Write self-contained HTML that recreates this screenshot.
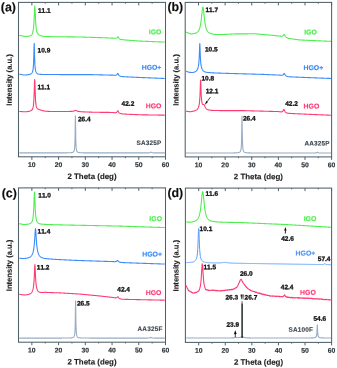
<!DOCTYPE html>
<html><head><meta charset="utf-8"><style>
html,body{margin:0;padding:0;background:#fff;width:337px;height:368px;overflow:hidden}
svg{display:block}
text{font-family:"Liberation Sans",sans-serif;font-weight:bold;font-kerning:none;text-rendering:geometricPrecision}
</style></head><body>
<svg width="337" height="368" viewBox="0 0 337 368">
<defs><filter id="bl" x="0" y="0" width="337" height="368" filterUnits="userSpaceOnUse"><feGaussianBlur stdDeviation="0.3"/></filter></defs>
<rect width="337" height="368" fill="#fff"/>
<g filter="url(#bl)">
<rect x="18.50" y="2.40" width="147.00" height="154.40" fill="none" stroke="#4f6169" stroke-width="1.05"/>
<line x1="31.86" y1="2.40" x2="31.86" y2="5.40" stroke="#4f6169" stroke-width="1"/>
<line x1="31.86" y1="156.80" x2="31.86" y2="159.80" stroke="#4f6169" stroke-width="1"/>
<line x1="45.23" y1="2.40" x2="45.23" y2="3.70" stroke="#4f6169" stroke-width="1"/>
<line x1="45.23" y1="156.80" x2="45.23" y2="158.10" stroke="#4f6169" stroke-width="1"/>
<line x1="58.59" y1="2.40" x2="58.59" y2="5.40" stroke="#4f6169" stroke-width="1"/>
<line x1="58.59" y1="156.80" x2="58.59" y2="159.80" stroke="#4f6169" stroke-width="1"/>
<line x1="71.95" y1="2.40" x2="71.95" y2="3.70" stroke="#4f6169" stroke-width="1"/>
<line x1="71.95" y1="156.80" x2="71.95" y2="158.10" stroke="#4f6169" stroke-width="1"/>
<line x1="85.32" y1="2.40" x2="85.32" y2="5.40" stroke="#4f6169" stroke-width="1"/>
<line x1="85.32" y1="156.80" x2="85.32" y2="159.80" stroke="#4f6169" stroke-width="1"/>
<line x1="98.68" y1="2.40" x2="98.68" y2="3.70" stroke="#4f6169" stroke-width="1"/>
<line x1="98.68" y1="156.80" x2="98.68" y2="158.10" stroke="#4f6169" stroke-width="1"/>
<line x1="112.05" y1="2.40" x2="112.05" y2="5.40" stroke="#4f6169" stroke-width="1"/>
<line x1="112.05" y1="156.80" x2="112.05" y2="159.80" stroke="#4f6169" stroke-width="1"/>
<line x1="125.41" y1="2.40" x2="125.41" y2="3.70" stroke="#4f6169" stroke-width="1"/>
<line x1="125.41" y1="156.80" x2="125.41" y2="158.10" stroke="#4f6169" stroke-width="1"/>
<line x1="138.77" y1="2.40" x2="138.77" y2="5.40" stroke="#4f6169" stroke-width="1"/>
<line x1="138.77" y1="156.80" x2="138.77" y2="159.80" stroke="#4f6169" stroke-width="1"/>
<line x1="152.14" y1="2.40" x2="152.14" y2="3.70" stroke="#4f6169" stroke-width="1"/>
<line x1="152.14" y1="156.80" x2="152.14" y2="158.10" stroke="#4f6169" stroke-width="1"/>
<line x1="165.50" y1="2.40" x2="165.50" y2="5.40" stroke="#4f6169" stroke-width="1"/>
<line x1="165.50" y1="156.80" x2="165.50" y2="159.80" stroke="#4f6169" stroke-width="1"/>
<text transform="translate(31.86,167.10) rotate(0.05)" font-size="6.80" fill="#2c363c" stroke="#2c363c" stroke-width="0.15" stroke-linejoin="round" text-anchor="middle">10</text>
<text transform="translate(58.59,167.10) rotate(0.05)" font-size="6.80" fill="#2c363c" stroke="#2c363c" stroke-width="0.15" stroke-linejoin="round" text-anchor="middle">20</text>
<text transform="translate(85.32,167.10) rotate(0.05)" font-size="6.80" fill="#2c363c" stroke="#2c363c" stroke-width="0.15" stroke-linejoin="round" text-anchor="middle">30</text>
<text transform="translate(112.05,167.10) rotate(0.05)" font-size="6.80" fill="#2c363c" stroke="#2c363c" stroke-width="0.15" stroke-linejoin="round" text-anchor="middle">40</text>
<text transform="translate(138.77,167.10) rotate(0.05)" font-size="6.80" fill="#2c363c" stroke="#2c363c" stroke-width="0.15" stroke-linejoin="round" text-anchor="middle">50</text>
<text transform="translate(165.50,167.10) rotate(0.05)" font-size="6.80" fill="#2c363c" stroke="#2c363c" stroke-width="0.15" stroke-linejoin="round" text-anchor="middle">60</text>
<text transform="translate(92.00,179.10) rotate(0.05)" font-size="7.90" fill="#222" stroke="#222" stroke-width="0.12" stroke-linejoin="round" text-anchor="middle">2 Theta (deg)</text>
<text transform="translate(11.70,80.00) rotate(-89.95)" font-size="7.60" fill="#222" stroke="#222" stroke-width="0.12" stroke-linejoin="round" text-anchor="middle">Intensity (a.u.)</text>
<polyline fill="none" stroke="#50ee50" stroke-width="1.10" stroke-linejoin="round" opacity="1" points="19.30,35.35 19.55,35.40 19.80,35.44 20.05,35.49 20.30,35.54 20.55,35.58 20.80,35.63 21.05,35.67 21.30,35.72 21.55,35.76 21.80,35.81 22.05,35.85 22.30,35.90 22.55,35.94 22.80,35.98 23.05,36.02 23.30,36.07 23.55,36.11 23.80,36.15 24.05,36.19 24.30,36.23 24.55,36.27 24.80,36.31 25.05,36.35 25.30,36.38 25.55,36.42 25.80,36.46 26.05,36.48 26.30,36.46 26.55,36.44 26.80,36.42 27.05,36.40 27.30,36.37 27.55,36.34 27.80,36.31 28.05,36.28 28.30,36.24 28.55,36.20 28.80,36.16 29.05,36.10 29.30,36.04 29.55,35.98 29.80,35.90 30.05,35.81 30.30,35.71 30.55,35.59 30.80,35.45 31.05,35.29 31.30,35.09 31.55,34.85 31.80,34.56 32.05,34.19 32.30,33.72 32.55,33.11 32.80,32.32 33.05,31.24 33.30,29.74 33.55,27.62 33.80,24.58 34.05,20.25 34.30,14.57 34.55,8.73 34.56,8.53 34.80,5.99 35.04,8.44 35.05,8.63 35.30,14.37 35.55,19.95 35.80,24.18 36.05,27.13 36.30,29.16 36.55,30.58 36.60,30.81 36.80,31.59 37.05,32.33 37.30,32.90 37.50,33.26 37.55,33.34 37.80,33.71 38.05,34.01 38.30,34.27 38.40,34.37 38.55,34.51 38.80,34.71 39.05,34.90 39.30,35.07 39.55,35.22 39.80,35.35 40.05,35.48 40.30,35.59 40.55,35.69 40.80,35.77 41.05,35.85 41.30,35.93 41.55,35.99 41.80,36.05 42.05,36.10 42.30,36.15 42.55,36.19 42.80,36.23 43.05,36.27 43.30,36.30 43.55,36.33 43.80,36.36 44.05,36.38 44.30,36.41 44.55,36.43 44.80,36.45 45.05,36.47 45.30,36.48 45.55,36.50 45.80,36.51 46.05,36.53 46.30,36.54 46.55,36.55 46.80,36.56 47.05,36.57 47.30,36.58 47.55,36.59 47.80,36.60 48.05,36.61 48.30,36.62 48.55,36.62 48.80,36.63 49.05,36.64 49.30,36.64 49.55,36.65 49.80,36.65 50.05,36.66 50.30,36.66 50.55,36.67 50.80,36.67 51.05,36.68 51.30,36.68 51.55,36.68 51.80,36.69 52.05,36.69 52.30,36.69 52.55,36.70 52.80,36.70 53.05,36.70 53.30,36.70 53.55,36.71 53.80,36.71 54.05,36.71 54.30,36.71 54.55,36.72 54.80,36.72 55.05,36.72 55.30,36.72 55.55,36.73 55.80,36.73 56.05,36.73 56.30,36.73 56.55,36.73 56.80,36.73 57.05,36.74 57.30,36.74 57.55,36.74 57.80,36.74 58.05,36.74 58.30,36.74 58.55,36.74 58.80,36.74 59.05,36.75 59.30,36.75 59.55,36.75 59.80,36.75 60.05,36.75 60.30,36.75 60.55,36.76 60.80,36.76 61.05,36.76 61.30,36.77 61.55,36.77 61.80,36.77 62.05,36.78 62.30,36.78 62.55,36.78 62.80,36.79 63.05,36.79 63.30,36.79 63.55,36.80 63.80,36.80 64.05,36.80 64.30,36.81 64.55,36.81 64.80,36.81 65.05,36.82 65.30,36.82 65.55,36.82 65.80,36.82 66.05,36.83 66.30,36.83 66.55,36.83 66.80,36.84 67.05,36.84 67.30,36.84 67.55,36.85 67.80,36.85 68.05,36.85 68.30,36.85 68.55,36.86 68.80,36.86 69.05,36.86 69.30,36.87 69.55,36.87 69.80,36.87 70.05,36.87 70.30,36.88 70.55,36.88 70.80,36.88 71.05,36.89 71.30,36.89 71.55,36.89 71.80,36.89 72.05,36.90 72.30,36.90 72.55,36.90 72.80,36.91 73.05,36.91 73.30,36.91 73.55,36.91 73.80,36.92 74.05,36.92 74.30,36.92 74.55,36.93 74.80,36.93 75.05,36.93 75.30,36.93 75.55,36.94 75.80,36.94 76.05,36.94 76.30,36.94 76.55,36.95 76.80,36.95 77.05,36.95 77.30,36.95 77.55,36.96 77.80,36.96 78.05,36.96 78.30,36.97 78.55,36.97 78.80,36.97 79.05,36.97 79.30,36.98 79.55,36.98 79.80,36.98 80.05,36.99 80.30,36.99 80.55,37.00 80.80,37.01 81.05,37.02 81.30,37.03 81.55,37.03 81.80,37.04 82.05,37.05 82.30,37.06 82.55,37.07 82.80,37.07 83.05,37.08 83.30,37.09 83.55,37.10 83.80,37.11 84.05,37.12 84.30,37.12 84.55,37.13 84.80,37.14 85.05,37.15 85.30,37.16 85.55,37.16 85.80,37.17 86.05,37.18 86.30,37.19 86.55,37.20 86.80,37.20 87.05,37.21 87.30,37.22 87.55,37.23 87.80,37.24 88.05,37.24 88.30,37.25 88.55,37.26 88.80,37.27 89.05,37.28 89.30,37.29 89.55,37.29 89.80,37.30 90.05,37.31 90.30,37.32 90.55,37.33 90.80,37.33 91.05,37.34 91.30,37.35 91.55,37.36 91.80,37.37 92.05,37.37 92.30,37.38 92.55,37.39 92.80,37.40 93.05,37.41 93.30,37.41 93.55,37.42 93.80,37.43 94.05,37.44 94.30,37.45 94.55,37.45 94.80,37.46 95.05,37.47 95.30,37.48 95.55,37.49 95.80,37.49 96.05,37.50 96.30,37.51 96.55,37.52 96.80,37.53 97.05,37.53 97.30,37.54 97.55,37.55 97.80,37.56 98.05,37.57 98.30,37.57 98.55,37.58 98.80,37.59 99.05,37.60 99.30,37.60 99.55,37.61 99.80,37.62 100.05,37.63 100.30,37.64 100.55,37.64 100.80,37.65 101.05,37.66 101.30,37.67 101.55,37.68 101.80,37.68 102.05,37.69 102.30,37.70 102.55,37.71 102.80,37.71 103.05,37.72 103.30,37.73 103.55,37.74 103.80,37.75 104.05,37.75 104.30,37.76 104.55,37.77 104.80,37.78 105.05,37.79 105.30,37.80 105.55,37.81 105.80,37.83 106.05,37.84 106.30,37.85 106.55,37.87 106.80,37.88 107.05,37.89 107.30,37.91 107.55,37.92 107.80,37.93 108.05,37.94 108.30,37.96 108.55,37.97 108.80,37.98 109.05,38.00 109.30,38.01 109.55,38.02 109.80,38.03 110.05,38.05 110.30,38.06 110.55,38.07 110.80,38.08 111.05,38.09 111.30,38.10 111.55,38.11 111.80,38.12 112.05,38.13 112.30,38.14 112.55,38.15 112.80,38.16 113.05,38.17 113.30,38.17 113.55,38.18 113.80,38.18 114.05,38.19 114.30,38.22 114.55,38.25 114.80,38.28 115.05,38.30 115.30,38.31 115.55,38.31 115.80,38.30 116.05,38.27 116.30,38.20 116.55,38.10 116.80,37.93 117.05,37.69 117.30,37.36 117.55,37.01 117.63,36.91 117.80,36.78 117.90,36.78 118.05,36.87 118.17,37.02 118.30,37.24 118.55,37.69 118.80,38.11 119.05,38.43 119.30,38.68 119.55,38.88 119.80,39.03 120.05,39.16 120.30,39.24 120.55,39.31 120.80,39.37 121.05,39.43 121.30,39.48 121.55,39.52 121.80,39.56 122.05,39.60 122.30,39.63 122.55,39.67 122.80,39.70 123.05,39.73 123.30,39.76 123.55,39.79 123.80,39.82 124.05,39.85 124.30,39.88 124.55,39.91 124.80,39.94 125.05,39.96 125.30,39.98 125.55,40.01 125.80,40.03 126.05,40.05 126.30,40.07 126.55,40.09 126.80,40.11 127.05,40.12 127.30,40.14 127.55,40.16 127.80,40.18 128.05,40.20 128.30,40.22 128.55,40.24 128.80,40.26 129.05,40.28 129.30,40.30 129.55,40.32 129.80,40.34 130.05,40.35 130.30,40.37 130.55,40.39 130.80,40.41 131.05,40.43 131.30,40.45 131.55,40.47 131.80,40.49 132.05,40.50 132.30,40.52 132.55,40.54 132.80,40.56 133.05,40.58 133.30,40.60 133.55,40.62 133.80,40.63 134.05,40.65 134.30,40.67 134.55,40.69 134.80,40.71 135.05,40.73 135.30,40.75 135.55,40.76 135.80,40.78 136.05,40.80 136.30,40.82 136.55,40.84 136.80,40.86 137.05,40.88 137.30,40.89 137.55,40.91 137.80,40.93 138.05,40.95 138.30,40.97 138.55,40.99 138.80,41.00 139.05,41.02 139.30,41.04 139.55,41.06 139.80,41.08 140.05,41.10 140.30,41.11 140.55,41.12 140.80,41.13 141.05,41.14 141.30,41.15 141.55,41.16 141.80,41.17 142.05,41.17 142.30,41.18 142.55,41.19 142.80,41.20 143.05,41.21 143.30,41.22 143.55,41.23 143.80,41.24 144.05,41.25 144.30,41.26 144.55,41.27 144.80,41.28 145.05,41.29 145.30,41.30 145.55,41.31 145.80,41.32 146.05,41.33 146.30,41.34 146.55,41.35 146.80,41.36 147.05,41.37 147.30,41.38 147.55,41.39 147.80,41.40 148.05,41.41 148.30,41.42 148.55,41.43 148.80,41.44 149.05,41.45 149.30,41.46 149.55,41.47 149.80,41.48 150.05,41.49 150.30,41.50 150.55,41.51 150.80,41.52 151.05,41.53 151.30,41.54 151.55,41.55 151.80,41.56 152.05,41.57 152.30,41.58 152.55,41.59 152.80,41.60 153.05,41.61 153.30,41.62 153.55,41.63 153.80,41.64 154.05,41.65 154.30,41.66 154.55,41.67 154.80,41.68 155.05,41.69 155.30,41.70 155.55,41.71 155.80,41.72 156.05,41.73 156.30,41.74 156.55,41.75 156.80,41.76 157.05,41.77 157.30,41.78 157.55,41.79 157.80,41.80 158.05,41.81 158.30,41.82 158.55,41.83 158.80,41.84 159.05,41.85 159.30,41.86 159.55,41.87 159.80,41.88 160.05,41.89 160.30,41.90 160.55,41.91 160.80,41.92 161.05,41.93 161.30,41.94 161.55,41.95 161.80,41.96 162.05,41.97 162.30,41.98 162.55,41.99 162.80,41.99 163.05,42.00 163.30,42.01 163.55,42.02 163.80,42.03 164.05,42.04 164.30,42.05 164.55,42.06 164.80,42.07"/>
<polyline fill="none" stroke="#3a8cfa" stroke-width="1.10" stroke-linejoin="round" opacity="1" points="19.30,74.10 19.55,74.16 19.80,74.21 20.05,74.26 20.30,74.31 20.55,74.36 20.80,74.42 21.05,74.47 21.30,74.52 21.55,74.57 21.80,74.62 22.05,74.67 22.30,74.72 22.55,74.77 22.80,74.82 23.05,74.87 23.30,74.92 23.55,74.97 23.80,75.01 24.05,75.05 24.30,75.04 24.55,75.02 24.80,75.01 25.05,74.99 25.30,74.97 25.55,74.95 25.80,74.93 26.05,74.92 26.30,74.89 26.55,74.87 26.80,74.85 27.05,74.82 27.30,74.80 27.55,74.77 27.80,74.73 28.05,74.70 28.30,74.66 28.55,74.62 28.80,74.57 29.05,74.52 29.30,74.46 29.55,74.40 29.80,74.33 30.05,74.24 30.30,74.15 30.55,74.03 30.80,73.90 31.05,73.75 31.30,73.56 31.55,73.34 31.80,73.05 32.05,72.70 32.30,72.24 32.55,71.62 32.80,70.74 33.05,69.43 33.30,67.28 33.54,63.67 33.55,63.46 33.80,56.39 34.05,46.19 34.06,45.67 34.20,43.21 34.30,44.61 34.34,45.66 34.55,54.44 34.80,62.34 34.86,63.63 35.05,66.64 35.30,69.02 35.55,70.45 35.80,71.38 36.05,72.02 36.30,72.50 36.55,72.86 36.80,73.14 37.05,73.36 37.30,73.54 37.55,73.68 37.80,73.80 38.05,73.91 38.30,73.99 38.55,74.06 38.80,74.12 39.05,74.17 39.30,74.22 39.55,74.26 39.80,74.29 40.05,74.32 40.30,74.34 40.55,74.36 40.80,74.38 41.05,74.40 41.30,74.41 41.55,74.42 41.80,74.43 42.05,74.44 42.30,74.45 42.55,74.45 42.80,74.46 43.05,74.46 43.30,74.47 43.55,74.47 43.80,74.47 44.05,74.47 44.30,74.47 44.55,74.47 44.80,74.47 45.05,74.47 45.30,74.48 45.55,74.48 45.80,74.49 46.05,74.49 46.30,74.49 46.55,74.50 46.80,74.50 47.05,74.51 47.30,74.51 47.55,74.51 47.80,74.52 48.05,74.52 48.30,74.52 48.55,74.52 48.80,74.53 49.05,74.53 49.30,74.53 49.55,74.53 49.80,74.54 50.05,74.54 50.30,74.54 50.55,74.54 50.80,74.54 51.05,74.54 51.30,74.55 51.55,74.55 51.80,74.55 52.05,74.55 52.30,74.55 52.55,74.55 52.80,74.55 53.05,74.56 53.30,74.56 53.55,74.56 53.80,74.56 54.05,74.56 54.30,74.56 54.55,74.56 54.80,74.56 55.05,74.56 55.30,74.56 55.55,74.57 55.80,74.57 56.05,74.57 56.30,74.57 56.55,74.57 56.80,74.57 57.05,74.57 57.30,74.57 57.55,74.57 57.80,74.57 58.05,74.57 58.30,74.57 58.55,74.57 58.80,74.57 59.05,74.57 59.30,74.57 59.55,74.58 59.80,74.58 60.05,74.58 60.30,74.58 60.55,74.58 60.80,74.58 61.05,74.58 61.30,74.58 61.55,74.58 61.80,74.58 62.05,74.58 62.30,74.58 62.55,74.58 62.80,74.58 63.05,74.58 63.30,74.58 63.55,74.58 63.80,74.58 64.05,74.58 64.30,74.58 64.55,74.58 64.80,74.58 65.05,74.58 65.30,74.58 65.55,74.58 65.80,74.58 66.05,74.58 66.30,74.58 66.55,74.58 66.80,74.58 67.05,74.58 67.30,74.58 67.55,74.59 67.80,74.59 68.05,74.59 68.30,74.59 68.55,74.59 68.80,74.59 69.05,74.59 69.30,74.59 69.55,74.59 69.80,74.59 70.05,74.59 70.30,74.59 70.55,74.59 70.80,74.59 71.05,74.59 71.30,74.59 71.55,74.59 71.80,74.59 72.05,74.59 72.30,74.59 72.55,74.59 72.80,74.59 73.05,74.59 73.30,74.59 73.55,74.59 73.80,74.59 74.05,74.59 74.30,74.59 74.55,74.59 74.80,74.59 75.05,74.59 75.30,74.59 75.55,74.59 75.80,74.59 76.05,74.59 76.30,74.59 76.55,74.59 76.80,74.59 77.05,74.59 77.30,74.59 77.55,74.59 77.80,74.59 78.05,74.59 78.30,74.59 78.55,74.59 78.80,74.59 79.05,74.59 79.30,74.59 79.55,74.59 79.80,74.59 80.05,74.59 80.30,74.59 80.55,74.59 80.80,74.59 81.05,74.59 81.30,74.59 81.55,74.59 81.80,74.59 82.05,74.59 82.30,74.59 82.55,74.59 82.80,74.59 83.05,74.59 83.30,74.59 83.55,74.59 83.80,74.59 84.05,74.59 84.30,74.59 84.55,74.59 84.80,74.59 85.05,74.59 85.30,74.59 85.55,74.59 85.80,74.59 86.05,74.59 86.30,74.59 86.55,74.59 86.80,74.59 87.05,74.59 87.30,74.59 87.55,74.59 87.80,74.59 88.05,74.59 88.30,74.59 88.55,74.59 88.80,74.59 89.05,74.59 89.30,74.59 89.55,74.59 89.80,74.59 90.05,74.59 90.30,74.60 90.55,74.61 90.80,74.61 91.05,74.62 91.30,74.63 91.55,74.63 91.80,74.64 92.05,74.65 92.30,74.65 92.55,74.66 92.80,74.67 93.05,74.67 93.30,74.68 93.55,74.68 93.80,74.69 94.05,74.70 94.30,74.70 94.55,74.71 94.80,74.72 95.05,74.72 95.30,74.73 95.55,74.74 95.80,74.74 96.05,74.75 96.30,74.76 96.55,74.76 96.80,74.77 97.05,74.78 97.30,74.78 97.55,74.79 97.80,74.79 98.05,74.80 98.30,74.81 98.55,74.81 98.80,74.82 99.05,74.83 99.30,74.83 99.55,74.84 99.80,74.85 100.05,74.85 100.30,74.86 100.55,74.86 100.80,74.87 101.05,74.88 101.30,74.88 101.55,74.89 101.80,74.90 102.05,74.90 102.30,74.91 102.55,74.92 102.80,74.92 103.05,74.93 103.30,74.93 103.55,74.94 103.80,74.95 104.05,74.95 104.30,74.96 104.55,74.96 104.80,74.97 105.05,74.98 105.30,74.98 105.55,74.99 105.80,74.99 106.05,75.00 106.30,75.01 106.55,75.01 106.80,75.02 107.05,75.02 107.30,75.03 107.55,75.04 107.80,75.04 108.05,75.05 108.30,75.05 108.55,75.06 108.80,75.06 109.05,75.07 109.30,75.07 109.55,75.08 109.80,75.08 110.05,75.09 110.30,75.09 110.55,75.09 110.80,75.10 111.05,75.10 111.30,75.10 111.55,75.11 111.80,75.11 112.05,75.11 112.30,75.11 112.55,75.11 112.80,75.11 113.05,75.12 113.30,75.15 113.55,75.18 113.80,75.21 114.05,75.24 114.30,75.26 114.55,75.28 114.80,75.30 115.05,75.30 115.30,75.30 115.55,75.29 115.80,75.25 116.05,75.19 116.30,75.09 116.55,74.93 116.80,74.70 117.05,74.37 117.30,73.96 117.53,73.61 117.55,73.58 117.80,73.44 118.05,73.67 118.07,73.70 118.30,74.14 118.55,74.63 118.80,75.05 119.05,75.37 119.30,75.61 119.55,75.80 119.80,75.95 120.05,76.07 120.30,76.18 120.55,76.27 120.80,76.35 121.05,76.42 121.30,76.45 121.55,76.48 121.80,76.51 122.05,76.54 122.30,76.56 122.55,76.58 122.80,76.60 123.05,76.62 123.30,76.64 123.55,76.66 123.80,76.67 124.05,76.69 124.30,76.71 124.55,76.72 124.80,76.74 125.05,76.75 125.30,76.76 125.55,76.78 125.80,76.79 126.05,76.81 126.30,76.82 126.55,76.83 126.80,76.85 127.05,76.86 127.30,76.87 127.55,76.89 127.80,76.90 128.05,76.91 128.30,76.93 128.55,76.94 128.80,76.95 129.05,76.96 129.30,76.98 129.55,76.99 129.80,77.00 130.05,77.01 130.30,77.03 130.55,77.04 130.80,77.05 131.05,77.06 131.30,77.07 131.55,77.09 131.80,77.10 132.05,77.11 132.30,77.12 132.55,77.14 132.80,77.15 133.05,77.16 133.30,77.17 133.55,77.18 133.80,77.20 134.05,77.21 134.30,77.22 134.55,77.23 134.80,77.24 135.05,77.26 135.30,77.27 135.55,77.28 135.80,77.29 136.05,77.31 136.30,77.32 136.55,77.33 136.80,77.34 137.05,77.35 137.30,77.37 137.55,77.38 137.80,77.39 138.05,77.40 138.30,77.41 138.55,77.42 138.80,77.44 139.05,77.45 139.30,77.46 139.55,77.47 139.80,77.48 140.05,77.50 140.30,77.51 140.55,77.52 140.80,77.53 141.05,77.54 141.30,77.55 141.55,77.56 141.80,77.57 142.05,77.58 142.30,77.59 142.55,77.60 142.80,77.61 143.05,77.62 143.30,77.63 143.55,77.64 143.80,77.65 144.05,77.66 144.30,77.67 144.55,77.67 144.80,77.68 145.05,77.69 145.30,77.70 145.55,77.71 145.80,77.72 146.05,77.73 146.30,77.74 146.55,77.75 146.80,77.76 147.05,77.77 147.30,77.78 147.55,77.79 147.80,77.80 148.05,77.81 148.30,77.82 148.55,77.83 148.80,77.84 149.05,77.85 149.30,77.86 149.55,77.87 149.80,77.88 150.05,77.89 150.30,77.90 150.55,77.91 150.80,77.92 151.05,77.93 151.30,77.94 151.55,77.95 151.80,77.96 152.05,77.97 152.30,77.98 152.55,77.99 152.80,78.00 153.05,78.01 153.30,78.02 153.55,78.03 153.80,78.04 154.05,78.05 154.30,78.06 154.55,78.07 154.80,78.08 155.05,78.09 155.30,78.10 155.55,78.11 155.80,78.12 156.05,78.13 156.30,78.14 156.55,78.15 156.80,78.16 157.05,78.17 157.30,78.18 157.55,78.19 157.80,78.20 158.05,78.21 158.30,78.22 158.55,78.23 158.80,78.24 159.05,78.25 159.30,78.26 159.55,78.27 159.80,78.28 160.05,78.29 160.30,78.30 160.55,78.31 160.80,78.32 161.05,78.33 161.30,78.34 161.55,78.35 161.80,78.36 162.05,78.37 162.30,78.38 162.55,78.39 162.80,78.40 163.05,78.41 163.30,78.42 163.55,78.43 163.80,78.44 164.05,78.44 164.30,78.45 164.55,78.46 164.80,78.47"/>
<polyline fill="none" stroke="#ff3a74" stroke-width="1.10" stroke-linejoin="round" opacity="1" points="19.30,111.40 19.55,111.43 19.80,111.45 20.05,111.47 20.30,111.49 20.55,111.51 20.80,111.53 21.05,111.55 21.30,111.57 21.55,111.59 21.80,111.61 22.05,111.63 22.30,111.65 22.55,111.67 22.80,111.69 23.05,111.70 23.30,111.72 23.55,111.74 23.80,111.75 24.05,111.77 24.30,111.78 24.55,111.80 24.80,111.81 25.05,111.82 25.30,111.80 25.55,111.78 25.80,111.76 26.05,111.73 26.30,111.71 26.55,111.68 26.80,111.66 27.05,111.63 27.30,111.60 27.55,111.57 27.80,111.53 28.05,111.49 28.30,111.45 28.55,111.41 28.80,111.36 29.05,111.31 29.30,111.25 29.55,111.19 29.80,111.12 30.05,111.04 30.30,110.95 30.55,110.85 30.80,110.73 31.05,110.60 31.30,110.44 31.55,110.25 31.80,110.02 32.05,109.74 32.30,109.38 32.55,108.91 32.80,108.28 33.05,107.41 33.30,106.16 33.55,104.27 33.80,101.28 34.05,96.47 34.30,89.16 34.52,82.07 34.55,81.32 34.70,79.45 34.80,80.26 34.88,81.98 35.05,87.27 35.30,94.88 35.55,100.04 35.80,103.19 36.05,105.14 36.30,106.38 36.50,107.06 36.55,107.20 36.80,107.76 37.05,108.16 37.30,108.46 37.55,108.69 37.80,108.87 38.00,108.99 38.05,109.02 38.30,109.15 38.55,109.26 38.80,109.37 39.05,109.47 39.30,109.57 39.50,109.65 39.55,109.67 39.80,109.76 40.05,109.86 40.30,109.95 40.55,110.04 40.80,110.12 41.05,110.21 41.30,110.29 41.55,110.36 41.80,110.44 42.05,110.51 42.30,110.58 42.55,110.64 42.80,110.70 43.05,110.76 43.30,110.81 43.55,110.86 43.80,110.91 44.05,110.95 44.30,110.99 44.55,111.03 44.80,111.07 45.05,111.10 45.30,111.13 45.55,111.16 45.80,111.19 46.05,111.21 46.30,111.24 46.55,111.26 46.80,111.28 47.05,111.30 47.30,111.32 47.55,111.33 47.80,111.35 48.05,111.36 48.30,111.38 48.55,111.39 48.80,111.40 49.05,111.41 49.30,111.42 49.55,111.43 49.80,111.44 50.05,111.45 50.30,111.46 50.55,111.47 50.80,111.48 51.05,111.48 51.30,111.49 51.55,111.50 51.80,111.50 52.05,111.51 52.30,111.51 52.55,111.52 52.80,111.52 53.05,111.53 53.30,111.53 53.55,111.54 53.80,111.54 54.05,111.54 54.30,111.54 54.55,111.55 54.80,111.55 55.05,111.55 55.30,111.55 55.55,111.56 55.80,111.56 56.05,111.56 56.30,111.56 56.55,111.56 56.80,111.56 57.05,111.56 57.30,111.56 57.55,111.57 57.80,111.57 58.05,111.57 58.30,111.57 58.55,111.57 58.80,111.57 59.05,111.57 59.30,111.57 59.55,111.57 59.80,111.56 60.05,111.56 60.30,111.56 60.55,111.56 60.80,111.56 61.05,111.56 61.30,111.56 61.55,111.56 61.80,111.56 62.05,111.56 62.30,111.55 62.55,111.55 62.80,111.55 63.05,111.55 63.30,111.55 63.55,111.54 63.80,111.54 64.05,111.54 64.30,111.54 64.55,111.54 64.80,111.53 65.05,111.53 65.30,111.53 65.55,111.52 65.80,111.52 66.05,111.52 66.30,111.51 66.55,111.51 66.80,111.50 67.05,111.50 67.30,111.49 67.55,111.49 67.80,111.48 68.05,111.48 68.30,111.47 68.55,111.46 68.80,111.46 69.05,111.45 69.30,111.44 69.55,111.43 69.80,111.42 70.05,111.41 70.30,111.41 70.55,111.40 70.80,111.40 71.05,111.39 71.30,111.38 71.55,111.36 71.80,111.35 72.05,111.33 72.30,111.31 72.55,111.28 72.80,111.24 73.05,111.20 73.30,111.15 73.55,111.10 73.80,111.03 74.05,110.95 74.30,110.87 74.55,110.78 74.80,110.69 75.05,110.61 75.10,110.60 75.30,110.55 75.55,110.52 75.70,110.52 75.80,110.52 76.05,110.56 76.30,110.63 76.55,110.73 76.80,110.83 77.05,110.93 77.30,111.03 77.55,111.13 77.80,111.21 78.05,111.28 78.30,111.35 78.55,111.41 78.80,111.46 79.05,111.50 79.30,111.54 79.55,111.58 79.80,111.61 80.05,111.64 80.30,111.66 80.55,111.69 80.80,111.71 81.05,111.73 81.30,111.75 81.55,111.77 81.80,111.78 82.05,111.80 82.30,111.81 82.55,111.83 82.80,111.84 83.05,111.85 83.30,111.86 83.55,111.88 83.80,111.89 84.05,111.90 84.30,111.91 84.55,111.92 84.80,111.93 85.05,111.94 85.30,111.95 85.55,111.96 85.80,111.97 86.05,111.98 86.30,111.99 86.55,112.00 86.80,112.01 87.05,112.01 87.30,112.02 87.55,112.03 87.80,112.04 88.05,112.05 88.30,112.06 88.55,112.07 88.80,112.07 89.05,112.08 89.30,112.09 89.55,112.10 89.80,112.11 90.05,112.11 90.30,112.12 90.55,112.13 90.80,112.14 91.05,112.15 91.30,112.15 91.55,112.16 91.80,112.17 92.05,112.18 92.30,112.18 92.55,112.19 92.80,112.20 93.05,112.21 93.30,112.21 93.55,112.22 93.80,112.23 94.05,112.24 94.30,112.24 94.55,112.25 94.80,112.26 95.05,112.27 95.30,112.27 95.55,112.27 95.80,112.28 96.05,112.28 96.30,112.28 96.55,112.29 96.80,112.29 97.05,112.29 97.30,112.29 97.55,112.30 97.80,112.30 98.05,112.30 98.30,112.31 98.55,112.31 98.80,112.31 99.05,112.32 99.30,112.32 99.55,112.32 99.80,112.33 100.05,112.33 100.30,112.33 100.55,112.34 100.80,112.34 101.05,112.34 101.30,112.34 101.55,112.35 101.80,112.35 102.05,112.35 102.30,112.36 102.55,112.36 102.80,112.36 103.05,112.36 103.30,112.37 103.55,112.37 103.80,112.37 104.05,112.38 104.30,112.38 104.55,112.38 104.80,112.38 105.05,112.39 105.30,112.39 105.55,112.39 105.80,112.39 106.05,112.40 106.30,112.40 106.55,112.40 106.80,112.40 107.05,112.41 107.30,112.41 107.55,112.41 107.80,112.41 108.05,112.41 108.30,112.42 108.55,112.42 108.80,112.42 109.05,112.42 109.30,112.42 109.55,112.42 109.80,112.43 110.05,112.43 110.30,112.43 110.55,112.43 110.80,112.43 111.05,112.43 111.30,112.43 111.55,112.43 111.80,112.43 112.05,112.43 112.30,112.46 112.55,112.49 112.80,112.52 113.05,112.55 113.30,112.58 113.55,112.61 113.80,112.63 114.05,112.65 114.30,112.67 114.55,112.68 114.80,112.69 115.05,112.69 115.30,112.68 115.55,112.66 115.80,112.62 116.05,112.55 116.30,112.44 116.55,112.28 116.80,112.04 117.05,111.71 117.30,111.30 117.53,110.93 117.55,110.91 117.80,110.76 118.05,110.98 118.07,111.01 118.30,111.45 118.55,111.94 118.80,112.34 119.05,112.66 119.30,112.90 119.55,113.08 119.80,113.22 120.05,113.34 120.30,113.44 120.55,113.52 120.80,113.59 121.05,113.66 121.30,113.72 121.55,113.78 121.80,113.83 122.05,113.88 122.30,113.90 122.55,113.92 122.80,113.94 123.05,113.96 123.30,113.98 123.55,114.00 123.80,114.01 124.05,114.03 124.30,114.04 124.55,114.06 124.80,114.07 125.05,114.09 125.30,114.10 125.55,114.11 125.80,114.13 126.05,114.14 126.30,114.15 126.55,114.17 126.80,114.18 127.05,114.19 127.30,114.20 127.55,114.22 127.80,114.23 128.05,114.24 128.30,114.25 128.55,114.26 128.80,114.28 129.05,114.29 129.30,114.30 129.55,114.31 129.80,114.32 130.05,114.34 130.30,114.35 130.55,114.36 130.80,114.37 131.05,114.38 131.30,114.39 131.55,114.40 131.80,114.42 132.05,114.43 132.30,114.44 132.55,114.45 132.80,114.46 133.05,114.47 133.30,114.49 133.55,114.50 133.80,114.51 134.05,114.52 134.30,114.53 134.55,114.54 134.80,114.55 135.05,114.57 135.30,114.58 135.55,114.59 135.80,114.60 136.05,114.61 136.30,114.62 136.55,114.63 136.80,114.64 137.05,114.66 137.30,114.67 137.55,114.68 137.80,114.69 138.05,114.70 138.30,114.71 138.55,114.72 138.80,114.73 139.05,114.75 139.30,114.76 139.55,114.77 139.80,114.78 140.05,114.79 140.30,114.79 140.55,114.80 140.80,114.80 141.05,114.81 141.30,114.81 141.55,114.81 141.80,114.82 142.05,114.82 142.30,114.83 142.55,114.83 142.80,114.83 143.05,114.84 143.30,114.84 143.55,114.85 143.80,114.85 144.05,114.85 144.30,114.86 144.55,114.86 144.80,114.87 145.05,114.87 145.30,114.87 145.55,114.88 145.80,114.88 146.05,114.89 146.30,114.89 146.55,114.89 146.80,114.90 147.05,114.90 147.30,114.91 147.55,114.91 147.80,114.91 148.05,114.92 148.30,114.92 148.55,114.93 148.80,114.93 149.05,114.93 149.30,114.94 149.55,114.94 149.80,114.95 150.05,114.95 150.30,114.95 150.55,114.96 150.80,114.96 151.05,114.97 151.30,114.97 151.55,114.97 151.80,114.98 152.05,114.98 152.30,114.99 152.55,114.99 152.80,114.99 153.05,115.00 153.30,115.00 153.55,115.01 153.80,115.01 154.05,115.01 154.30,115.02 154.55,115.02 154.80,115.03 155.05,115.03 155.30,115.03 155.55,115.04 155.80,115.04 156.05,115.05 156.30,115.05 156.55,115.05 156.80,115.06 157.05,115.06 157.30,115.07 157.55,115.07 157.80,115.07 158.05,115.08 158.30,115.08 158.55,115.09 158.80,115.09 159.05,115.09 159.30,115.10 159.55,115.10 159.80,115.11 160.05,115.11 160.30,115.11 160.55,115.12 160.80,115.12 161.05,115.13 161.30,115.13 161.55,115.13 161.80,115.14 162.05,115.14 162.30,115.15 162.55,115.15 162.80,115.15 163.05,115.16 163.30,115.16 163.55,115.17 163.80,115.17 164.05,115.17 164.30,115.18 164.55,115.18 164.80,115.19"/>
<polyline fill="none" stroke="#98acc4" stroke-width="1.10" stroke-linejoin="round" opacity="1" points="19.30,152.90 19.55,152.90 19.80,152.90 20.05,152.90 20.30,152.90 20.55,152.90 20.80,152.90 21.05,152.90 21.30,152.90 21.55,152.90 21.80,152.90 22.05,152.90 22.30,152.90 22.55,152.90 22.80,152.90 23.05,152.90 23.30,152.90 23.55,152.90 23.80,152.90 24.05,152.90 24.30,152.90 24.55,152.90 24.80,152.90 25.05,152.90 25.30,152.90 25.55,152.90 25.80,152.90 26.05,152.90 26.30,152.90 26.55,152.90 26.80,152.90 27.05,152.90 27.30,152.90 27.55,152.90 27.80,152.90 28.05,152.90 28.30,152.90 28.55,152.90 28.80,152.90 29.05,152.90 29.30,152.90 29.55,152.90 29.80,152.90 30.05,152.90 30.30,152.90 30.55,152.90 30.80,152.90 31.05,152.90 31.30,152.90 31.55,152.90 31.80,152.90 32.05,152.90 32.30,152.90 32.55,152.90 32.80,152.90 33.05,152.90 33.30,152.90 33.55,152.90 33.80,152.90 34.05,152.90 34.30,152.90 34.55,152.90 34.80,152.90 35.05,152.90 35.30,152.90 35.55,152.90 35.80,152.90 36.05,152.90 36.30,152.90 36.55,152.90 36.80,152.90 37.05,152.90 37.30,152.90 37.55,152.90 37.80,152.90 38.05,152.90 38.30,152.90 38.55,152.90 38.80,152.90 39.05,152.90 39.30,152.90 39.55,152.90 39.80,152.90 40.05,152.90 40.30,152.90 40.55,152.90 40.80,152.90 41.05,152.90 41.30,152.90 41.55,152.90 41.80,152.90 42.05,152.90 42.30,152.90 42.55,152.90 42.80,152.90 43.05,152.90 43.30,152.90 43.55,152.90 43.80,152.90 44.05,152.90 44.30,152.90 44.55,152.90 44.80,152.89 45.05,152.89 45.30,152.89 45.55,152.89 45.80,152.89 46.05,152.89 46.30,152.89 46.55,152.89 46.80,152.89 47.05,152.89 47.30,152.89 47.55,152.89 47.80,152.89 48.05,152.89 48.30,152.89 48.55,152.89 48.80,152.89 49.05,152.89 49.30,152.89 49.55,152.89 49.80,152.89 50.05,152.89 50.30,152.89 50.55,152.89 50.80,152.89 51.05,152.89 51.30,152.89 51.55,152.89 51.80,152.89 52.05,152.89 52.30,152.89 52.55,152.89 52.80,152.89 53.05,152.89 53.30,152.89 53.55,152.89 53.80,152.89 54.05,152.89 54.30,152.89 54.55,152.89 54.80,152.89 55.05,152.89 55.30,152.89 55.55,152.89 55.80,152.89 56.05,152.89 56.30,152.89 56.55,152.89 56.80,152.89 57.05,152.89 57.30,152.89 57.55,152.89 57.80,152.88 58.05,152.88 58.30,152.88 58.55,152.88 58.80,152.88 59.05,152.88 59.30,152.88 59.55,152.88 59.80,152.88 60.05,152.88 60.30,152.88 60.55,152.88 60.80,152.88 61.05,152.88 61.30,152.88 61.55,152.88 61.80,152.87 62.05,152.87 62.30,152.87 62.55,152.87 62.80,152.87 63.05,152.87 63.30,152.87 63.55,152.87 63.80,152.87 64.05,152.86 64.30,152.86 64.55,152.86 64.80,152.86 65.05,152.86 65.30,152.85 65.55,152.85 65.80,152.85 66.05,152.85 66.30,152.84 66.55,152.84 66.80,152.84 67.05,152.83 67.30,152.83 67.55,152.82 67.80,152.82 68.05,152.81 68.30,152.81 68.55,152.80 68.80,152.79 69.05,152.79 69.30,152.78 69.55,152.77 69.80,152.75 70.05,152.74 70.30,152.72 70.55,152.71 70.80,152.69 71.05,152.66 71.30,152.63 71.55,152.60 71.80,152.56 72.05,152.51 72.30,152.44 72.55,152.37 72.80,152.27 73.05,152.14 73.30,151.97 73.55,151.73 73.80,151.39 74.05,150.89 74.30,150.07 74.55,148.61 74.80,145.56 75.01,139.65 75.05,137.83 75.30,119.88 75.32,118.78 75.40,115.80 75.48,118.78 75.55,123.84 75.79,139.65 75.80,140.06 76.05,146.39 76.30,148.98 76.55,150.27 76.80,151.01 77.05,151.47 77.30,151.78 77.55,152.01 77.80,152.17 78.05,152.29 78.30,152.38 78.55,152.46 78.80,152.52 79.05,152.57 79.30,152.61 79.55,152.64 79.80,152.67 80.05,152.69 80.30,152.71 80.55,152.73 80.80,152.74 81.05,152.76 81.30,152.77 81.55,152.78 81.80,152.79 82.05,152.80 82.30,152.80 82.55,152.81 82.80,152.82 83.05,152.82 83.30,152.83 83.55,152.83 83.80,152.83 84.05,152.84 84.30,152.84 84.55,152.84 84.80,152.85 85.05,152.85 85.30,152.85 85.55,152.85 85.80,152.86 86.05,152.86 86.30,152.86 86.55,152.86 86.80,152.86 87.05,152.87 87.30,152.87 87.55,152.87 87.80,152.87 88.05,152.87 88.30,152.87 88.55,152.87 88.80,152.87 89.05,152.87 89.30,152.88 89.55,152.88 89.80,152.88 90.05,152.88 90.30,152.88 90.55,152.88 90.80,152.88 91.05,152.88 91.30,152.88 91.55,152.88 91.80,152.88 92.05,152.88 92.30,152.88 92.55,152.88 92.80,152.88 93.05,152.88 93.30,152.89 93.55,152.89 93.80,152.89 94.05,152.89 94.30,152.89 94.55,152.89 94.80,152.89 95.05,152.89 95.30,152.89 95.55,152.89 95.80,152.89 96.05,152.89 96.30,152.89 96.55,152.89 96.80,152.89 97.05,152.89 97.30,152.89 97.55,152.89 97.80,152.89 98.05,152.89 98.30,152.89 98.55,152.89 98.80,152.89 99.05,152.89 99.30,152.89 99.55,152.89 99.80,152.89 100.05,152.89 100.30,152.89 100.55,152.89 100.80,152.89 101.05,152.89 101.30,152.89 101.55,152.89 101.80,152.89 102.05,152.89 102.30,152.89 102.55,152.89 102.80,152.89 103.05,152.89 103.30,152.89 103.55,152.89 103.80,152.89 104.05,152.89 104.30,152.89 104.55,152.89 104.80,152.89 105.05,152.89 105.30,152.89 105.55,152.89 105.80,152.89 106.05,152.89 106.30,152.89 106.55,152.90 106.80,152.90 107.05,152.90 107.30,152.90 107.55,152.90 107.80,152.90 108.05,152.90 108.30,152.90 108.55,152.90 108.80,152.90 109.05,152.90 109.30,152.90 109.55,152.90 109.80,152.90 110.05,152.90 110.30,152.90 110.55,152.90 110.80,152.90 111.05,152.90 111.30,152.90 111.55,152.90 111.80,152.90 112.05,152.90 112.30,152.90 112.55,152.90 112.80,152.90 113.05,152.90 113.30,152.90 113.55,152.90 113.80,152.90 114.05,152.90 114.30,152.90 114.55,152.90 114.80,152.90 115.05,152.90 115.30,152.90 115.55,152.90 115.80,152.90 116.05,152.90 116.30,152.90 116.55,152.90 116.80,152.90 117.05,152.90 117.30,152.90 117.55,152.90 117.80,152.90 118.05,152.90 118.30,152.90 118.55,152.90 118.80,152.90 119.05,152.90 119.30,152.90 119.55,152.90 119.80,152.90 120.05,152.90 120.30,152.90 120.55,152.90 120.80,152.90 121.05,152.90 121.30,152.90 121.55,152.90 121.80,152.90 122.05,152.90 122.30,152.90 122.55,152.90 122.80,152.90 123.05,152.90 123.30,152.90 123.55,152.90 123.80,152.90 124.05,152.90 124.30,152.90 124.55,152.90 124.80,152.90 125.05,152.90 125.30,152.90 125.55,152.90 125.80,152.90 126.05,152.90 126.30,152.90 126.55,152.90 126.80,152.90 127.05,152.90 127.30,152.90 127.55,152.90 127.80,152.90 128.05,152.90 128.30,152.90 128.55,152.90 128.80,152.90 129.05,152.90 129.30,152.90 129.55,152.90 129.80,152.90 130.05,152.90 130.30,152.90 130.55,152.90 130.80,152.90 131.05,152.90 131.30,152.90 131.55,152.90 131.80,152.90 132.05,152.90 132.30,152.90 132.55,152.90 132.80,152.90 133.05,152.90 133.30,152.90 133.55,152.90 133.80,152.90 134.05,152.90 134.30,152.90 134.55,152.90 134.80,152.90 135.05,152.90 135.30,152.90 135.55,152.90 135.80,152.90 136.05,152.90 136.30,152.90 136.55,152.90 136.80,152.90 137.05,152.90 137.30,152.90 137.55,152.90 137.80,152.90 138.05,152.90 138.30,152.90 138.55,152.90 138.80,152.90 139.05,152.90 139.30,152.90 139.55,152.90 139.80,152.90 140.05,152.90 140.30,152.90 140.55,152.90 140.80,152.90 141.05,152.90 141.30,152.90 141.55,152.90 141.80,152.90 142.05,152.90 142.30,152.90 142.55,152.89 142.80,152.89 143.05,152.89 143.30,152.89 143.55,152.89 143.80,152.89 144.05,152.89 144.30,152.89 144.55,152.89 144.80,152.89 145.05,152.89 145.30,152.89 145.55,152.89 145.80,152.89 146.05,152.89 146.30,152.89 146.55,152.88 146.80,152.88 147.05,152.88 147.30,152.88 147.55,152.88 147.80,152.87 148.05,152.87 148.30,152.86 148.55,152.85 148.80,152.84 149.05,152.83 149.30,152.81 149.55,152.78 149.80,152.74 150.05,152.67 150.30,152.56 150.55,152.39 150.80,152.18 150.82,152.17 151.00,152.10 151.05,152.10 151.18,152.17 151.30,152.26 151.55,152.46 151.80,152.61 152.05,152.70 152.30,152.76 152.55,152.79 152.80,152.82 153.05,152.84 153.30,152.85 153.55,152.86 153.80,152.86 154.05,152.87 154.30,152.87 154.55,152.88 154.80,152.88 155.05,152.88 155.30,152.88 155.55,152.89 155.80,152.89 156.05,152.89 156.30,152.89 156.55,152.89 156.80,152.89 157.05,152.89 157.30,152.89 157.55,152.89 157.80,152.89 158.05,152.89 158.30,152.89 158.55,152.89 158.80,152.89 159.05,152.89 159.30,152.90 159.55,152.90 159.80,152.90 160.05,152.90 160.30,152.90 160.55,152.90 160.80,152.90 161.05,152.90 161.30,152.90 161.55,152.90 161.80,152.90 162.05,152.90 162.30,152.90 162.55,152.90 162.80,152.90 163.05,152.90 163.30,152.90 163.55,152.90 163.80,152.90 164.05,152.90 164.30,152.90 164.55,152.90 164.80,152.90"/>
<rect x="185.20" y="2.40" width="146.40" height="154.50" fill="none" stroke="#4f6169" stroke-width="1.05"/>
<line x1="198.51" y1="2.40" x2="198.51" y2="5.40" stroke="#4f6169" stroke-width="1"/>
<line x1="198.51" y1="156.90" x2="198.51" y2="159.90" stroke="#4f6169" stroke-width="1"/>
<line x1="211.82" y1="2.40" x2="211.82" y2="3.70" stroke="#4f6169" stroke-width="1"/>
<line x1="211.82" y1="156.90" x2="211.82" y2="158.20" stroke="#4f6169" stroke-width="1"/>
<line x1="225.13" y1="2.40" x2="225.13" y2="5.40" stroke="#4f6169" stroke-width="1"/>
<line x1="225.13" y1="156.90" x2="225.13" y2="159.90" stroke="#4f6169" stroke-width="1"/>
<line x1="238.44" y1="2.40" x2="238.44" y2="3.70" stroke="#4f6169" stroke-width="1"/>
<line x1="238.44" y1="156.90" x2="238.44" y2="158.20" stroke="#4f6169" stroke-width="1"/>
<line x1="251.75" y1="2.40" x2="251.75" y2="5.40" stroke="#4f6169" stroke-width="1"/>
<line x1="251.75" y1="156.90" x2="251.75" y2="159.90" stroke="#4f6169" stroke-width="1"/>
<line x1="265.05" y1="2.40" x2="265.05" y2="3.70" stroke="#4f6169" stroke-width="1"/>
<line x1="265.05" y1="156.90" x2="265.05" y2="158.20" stroke="#4f6169" stroke-width="1"/>
<line x1="278.36" y1="2.40" x2="278.36" y2="5.40" stroke="#4f6169" stroke-width="1"/>
<line x1="278.36" y1="156.90" x2="278.36" y2="159.90" stroke="#4f6169" stroke-width="1"/>
<line x1="291.67" y1="2.40" x2="291.67" y2="3.70" stroke="#4f6169" stroke-width="1"/>
<line x1="291.67" y1="156.90" x2="291.67" y2="158.20" stroke="#4f6169" stroke-width="1"/>
<line x1="304.98" y1="2.40" x2="304.98" y2="5.40" stroke="#4f6169" stroke-width="1"/>
<line x1="304.98" y1="156.90" x2="304.98" y2="159.90" stroke="#4f6169" stroke-width="1"/>
<line x1="318.29" y1="2.40" x2="318.29" y2="3.70" stroke="#4f6169" stroke-width="1"/>
<line x1="318.29" y1="156.90" x2="318.29" y2="158.20" stroke="#4f6169" stroke-width="1"/>
<line x1="331.60" y1="2.40" x2="331.60" y2="5.40" stroke="#4f6169" stroke-width="1"/>
<line x1="331.60" y1="156.90" x2="331.60" y2="159.90" stroke="#4f6169" stroke-width="1"/>
<text transform="translate(198.51,167.20) rotate(0.05)" font-size="6.80" fill="#2c363c" stroke="#2c363c" stroke-width="0.15" stroke-linejoin="round" text-anchor="middle">10</text>
<text transform="translate(225.13,167.20) rotate(0.05)" font-size="6.80" fill="#2c363c" stroke="#2c363c" stroke-width="0.15" stroke-linejoin="round" text-anchor="middle">20</text>
<text transform="translate(251.75,167.20) rotate(0.05)" font-size="6.80" fill="#2c363c" stroke="#2c363c" stroke-width="0.15" stroke-linejoin="round" text-anchor="middle">30</text>
<text transform="translate(278.36,167.20) rotate(0.05)" font-size="6.80" fill="#2c363c" stroke="#2c363c" stroke-width="0.15" stroke-linejoin="round" text-anchor="middle">40</text>
<text transform="translate(304.98,167.20) rotate(0.05)" font-size="6.80" fill="#2c363c" stroke="#2c363c" stroke-width="0.15" stroke-linejoin="round" text-anchor="middle">50</text>
<text transform="translate(331.60,167.20) rotate(0.05)" font-size="6.80" fill="#2c363c" stroke="#2c363c" stroke-width="0.15" stroke-linejoin="round" text-anchor="middle">60</text>
<text transform="translate(258.40,179.20) rotate(0.05)" font-size="7.90" fill="#222" stroke="#222" stroke-width="0.12" stroke-linejoin="round" text-anchor="middle">2 Theta (deg)</text>
<text transform="translate(178.40,80.05) rotate(-89.95)" font-size="7.60" fill="#222" stroke="#222" stroke-width="0.12" stroke-linejoin="round" text-anchor="middle">Intensity (a.u.)</text>
<polyline fill="none" stroke="#50ee50" stroke-width="1.10" stroke-linejoin="round" opacity="1" points="186.00,32.05 186.25,32.15 186.50,32.25 186.75,32.35 187.00,32.46 187.25,32.56 187.50,32.66 187.75,32.76 188.00,32.86 188.25,32.95 188.50,33.05 188.75,33.15 189.00,33.25 189.25,33.34 189.50,33.44 189.75,33.53 190.00,33.62 190.25,33.71 190.50,33.80 190.75,33.89 191.00,33.98 191.25,33.96 191.50,33.93 191.75,33.91 192.00,33.88 192.25,33.85 192.50,33.82 192.75,33.78 193.00,33.75 193.25,33.71 193.50,33.66 193.75,33.61 194.00,33.56 194.25,33.50 194.50,33.44 194.75,33.37 195.00,33.30 195.25,33.22 195.50,33.13 195.75,33.03 196.00,32.92 196.25,32.80 196.50,32.66 196.75,32.51 197.00,32.34 197.25,32.15 197.50,31.94 197.75,31.70 198.00,31.42 198.25,31.11 198.50,30.75 198.75,30.34 199.00,29.87 199.25,29.32 199.50,28.68 199.75,27.93 200.00,27.05 200.25,26.01 200.50,24.79 200.75,23.35 201.00,21.66 201.25,19.72 201.50,17.52 201.75,15.11 202.00,12.62 202.25,10.28 202.36,9.38 202.50,8.39 202.75,7.29 202.90,7.10 203.00,7.18 203.25,8.11 203.44,9.39 203.50,9.88 203.75,12.16 204.00,14.65 204.25,17.09 204.50,19.35 204.75,21.36 205.00,23.10 205.25,24.59 205.50,25.87 205.75,26.95 206.00,27.87 206.25,28.65 206.50,29.32 206.75,29.89 207.00,30.39 207.25,30.82 207.50,31.20 207.75,31.53 208.00,31.81 208.25,32.07 208.50,32.30 208.75,32.50 209.00,32.68 209.25,32.84 209.50,32.99 209.75,33.12 210.00,33.24 210.25,33.35 210.50,33.45 210.75,33.54 211.00,33.63 211.25,33.71 211.50,33.78 211.75,33.84 212.00,33.91 212.25,33.96 212.50,34.02 212.75,34.07 213.00,34.11 213.25,34.16 213.50,34.20 213.75,34.24 214.00,34.27 214.25,34.31 214.50,34.34 214.75,34.37 215.00,34.40 215.25,34.41 215.50,34.43 215.75,34.44 216.00,34.45 216.25,34.45 216.50,34.46 216.75,34.47 217.00,34.48 217.25,34.48 217.50,34.48 217.75,34.49 218.00,34.49 218.25,34.49 218.50,34.50 218.75,34.50 219.00,34.50 219.25,34.50 219.50,34.50 219.75,34.50 220.00,34.50 220.25,34.49 220.50,34.49 220.75,34.49 221.00,34.49 221.25,34.49 221.50,34.48 221.75,34.48 222.00,34.48 222.25,34.47 222.50,34.47 222.75,34.46 223.00,34.46 223.25,34.45 223.50,34.45 223.75,34.44 224.00,34.44 224.25,34.43 224.50,34.43 224.75,34.42 225.00,34.42 225.25,34.41 225.50,34.39 225.75,34.38 226.00,34.37 226.25,34.36 226.50,34.35 226.75,34.34 227.00,34.33 227.25,34.31 227.50,34.30 227.75,34.29 228.00,34.28 228.25,34.27 228.50,34.25 228.75,34.24 229.00,34.23 229.25,34.22 229.50,34.20 229.75,34.19 230.00,34.18 230.25,34.16 230.50,34.15 230.75,34.14 231.00,34.13 231.25,34.11 231.50,34.10 231.75,34.09 232.00,34.07 232.25,34.06 232.50,34.05 232.75,34.03 233.00,34.02 233.25,34.01 233.50,33.99 233.75,33.98 234.00,33.97 234.25,33.95 234.50,33.94 234.75,33.93 235.00,33.91 235.25,33.91 235.50,33.91 235.75,33.91 236.00,33.91 236.25,33.91 236.50,33.90 236.75,33.90 237.00,33.90 237.25,33.90 237.50,33.90 237.75,33.90 238.00,33.90 238.25,33.89 238.50,33.89 238.75,33.89 239.00,33.89 239.25,33.89 239.50,33.89 239.75,33.89 240.00,33.88 240.25,33.88 240.50,33.88 240.75,33.88 241.00,33.88 241.25,33.88 241.50,33.87 241.75,33.87 242.00,33.87 242.25,33.87 242.50,33.87 242.75,33.86 243.00,33.86 243.25,33.86 243.50,33.86 243.75,33.86 244.00,33.86 244.25,33.85 244.50,33.85 244.75,33.85 245.00,33.85 245.25,33.85 245.50,33.84 245.75,33.84 246.00,33.84 246.25,33.84 246.50,33.84 246.75,33.83 247.00,33.83 247.25,33.83 247.50,33.83 247.75,33.83 248.00,33.82 248.25,33.82 248.50,33.82 248.75,33.82 249.00,33.82 249.25,33.81 249.50,33.81 249.75,33.81 250.00,33.81 250.25,33.81 250.50,33.80 250.75,33.80 251.00,33.80 251.25,33.80 251.50,33.79 251.75,33.79 252.00,33.79 252.25,33.79 252.50,33.79 252.75,33.78 253.00,33.78 253.25,33.78 253.50,33.78 253.75,33.77 254.00,33.77 254.25,33.77 254.50,33.77 254.75,33.77 255.00,33.76 255.25,33.79 255.50,33.81 255.75,33.83 256.00,33.85 256.25,33.88 256.50,33.90 256.75,33.92 257.00,33.95 257.25,33.97 257.50,33.99 257.75,34.01 258.00,34.04 258.25,34.06 258.50,34.08 258.75,34.10 259.00,34.13 259.25,34.15 259.50,34.17 259.75,34.19 260.00,34.22 260.25,34.24 260.50,34.26 260.75,34.29 261.00,34.31 261.25,34.33 261.50,34.35 261.75,34.38 262.00,34.40 262.25,34.42 262.50,34.44 262.75,34.47 263.00,34.49 263.25,34.51 263.50,34.53 263.75,34.56 264.00,34.58 264.25,34.60 264.50,34.62 264.75,34.65 265.00,34.67 265.25,34.69 265.50,34.71 265.75,34.74 266.00,34.76 266.25,34.78 266.50,34.80 266.75,34.83 267.00,34.85 267.25,34.87 267.50,34.89 267.75,34.92 268.00,34.94 268.25,34.96 268.50,34.98 268.75,35.00 269.00,35.03 269.25,35.05 269.50,35.07 269.75,35.09 270.00,35.12 270.25,35.14 270.50,35.16 270.75,35.18 271.00,35.20 271.25,35.23 271.50,35.25 271.75,35.27 272.00,35.29 272.25,35.31 272.50,35.34 272.75,35.36 273.00,35.38 273.25,35.40 273.50,35.42 273.75,35.44 274.00,35.47 274.25,35.49 274.50,35.51 274.75,35.53 275.00,35.55 275.25,35.58 275.50,35.61 275.75,35.64 276.00,35.68 276.25,35.71 276.50,35.74 276.75,35.77 277.00,35.80 277.25,35.83 277.50,35.86 277.75,35.88 278.00,35.91 278.25,35.94 278.50,35.97 278.75,35.99 279.00,36.02 279.25,36.04 279.50,36.06 279.75,36.08 280.00,36.10 280.25,36.12 280.50,36.13 280.75,36.14 281.00,36.14 281.25,36.18 281.50,36.20 281.75,36.21 282.00,36.21 282.25,36.19 282.50,36.13 282.75,36.03 283.00,35.88 283.25,35.65 283.50,35.33 283.75,34.95 284.00,34.58 284.25,34.42 284.30,34.43 284.50,34.60 284.60,34.75 284.75,35.05 285.00,35.58 285.25,36.08 285.50,36.48 285.75,36.81 286.00,37.07 286.25,37.28 286.50,37.46 286.75,37.62 287.00,37.75 287.25,37.87 287.50,37.99 287.75,38.09 288.00,38.19 288.25,38.25 288.50,38.30 288.75,38.35 289.00,38.40 289.25,38.44 289.50,38.48 289.75,38.53 290.00,38.57 290.25,38.61 290.50,38.65 290.75,38.69 291.00,38.73 291.25,38.76 291.50,38.80 291.75,38.84 292.00,38.87 292.25,38.91 292.50,38.95 292.75,38.98 293.00,39.02 293.25,39.05 293.50,39.09 293.75,39.12 294.00,39.16 294.25,39.19 294.50,39.23 294.75,39.26 295.00,39.30 295.25,39.33 295.50,39.37 295.75,39.40 296.00,39.44 296.25,39.47 296.50,39.50 296.75,39.54 297.00,39.57 297.25,39.61 297.50,39.64 297.75,39.67 298.00,39.71 298.25,39.74 298.50,39.78 298.75,39.81 299.00,39.84 299.25,39.88 299.50,39.91 299.75,39.95 300.00,39.98 300.25,39.99 300.50,40.00 300.75,40.01 301.00,40.02 301.25,40.04 301.50,40.05 301.75,40.06 302.00,40.07 302.25,40.08 302.50,40.09 302.75,40.10 303.00,40.12 303.25,40.13 303.50,40.14 303.75,40.15 304.00,40.16 304.25,40.17 304.50,40.18 304.75,40.19 305.00,40.21 305.25,40.22 305.50,40.23 305.75,40.24 306.00,40.25 306.25,40.26 306.50,40.27 306.75,40.28 307.00,40.30 307.25,40.31 307.50,40.32 307.75,40.33 308.00,40.34 308.25,40.35 308.50,40.36 308.75,40.37 309.00,40.39 309.25,40.40 309.50,40.41 309.75,40.42 310.00,40.43 310.25,40.44 310.50,40.45 310.75,40.46 311.00,40.48 311.25,40.49 311.50,40.50 311.75,40.51 312.00,40.52 312.25,40.53 312.50,40.54 312.75,40.55 313.00,40.57 313.25,40.58 313.50,40.59 313.75,40.60 314.00,40.61 314.25,40.62 314.50,40.63 314.75,40.64 315.00,40.65 315.25,40.67 315.50,40.68 315.75,40.69 316.00,40.70 316.25,40.71 316.50,40.72 316.75,40.73 317.00,40.74 317.25,40.75 317.50,40.77 317.75,40.78 318.00,40.79 318.25,40.80 318.50,40.81 318.75,40.82 319.00,40.83 319.25,40.84 319.50,40.85 319.75,40.87 320.00,40.88 320.25,40.89 320.50,40.90 320.75,40.91 321.00,40.92 321.25,40.93 321.50,40.94 321.75,40.96 322.00,40.97 322.25,40.98 322.50,40.99 322.75,41.00 323.00,41.01 323.25,41.02 323.50,41.03 323.75,41.04 324.00,41.06 324.25,41.07 324.50,41.08 324.75,41.09 325.00,41.10 325.25,41.11 325.50,41.12 325.75,41.13 326.00,41.14 326.25,41.16 326.50,41.17 326.75,41.18 327.00,41.19 327.25,41.20 327.50,41.21 327.75,41.22 328.00,41.23 328.25,41.24 328.50,41.26 328.75,41.27 329.00,41.28 329.25,41.29 329.50,41.30 329.75,41.31 330.00,41.32 330.25,41.33 330.50,41.34 330.75,41.36 331.00,41.37"/>
<polyline fill="none" stroke="#3a8cfa" stroke-width="1.10" stroke-linejoin="round" opacity="1" points="186.00,71.14 186.25,71.24 186.50,71.34 186.75,71.43 187.00,71.53 187.25,71.63 187.50,71.72 187.75,71.82 188.00,71.91 188.25,72.01 188.50,72.10 188.75,72.19 189.00,72.29 189.25,72.31 189.50,72.33 189.75,72.35 190.00,72.37 190.25,72.39 190.50,72.41 190.75,72.42 191.00,72.44 191.25,72.45 191.50,72.46 191.75,72.47 192.00,72.47 192.25,72.47 192.50,72.47 192.75,72.47 193.00,72.46 193.25,72.40 193.50,72.34 193.75,72.28 194.00,72.21 194.25,72.13 194.50,72.04 194.75,71.93 195.00,71.82 195.25,71.69 195.50,71.55 195.75,71.38 196.00,71.19 196.25,70.98 196.50,70.72 196.75,70.42 197.00,70.07 197.25,69.65 197.50,69.14 197.75,68.51 198.00,67.73 198.25,66.72 198.50,65.39 198.75,63.57 198.90,62.10 199.00,60.91 199.25,56.75 199.41,52.82 199.50,50.16 199.66,45.35 199.75,43.88 199.80,43.62 199.94,45.35 200.00,47.09 200.19,52.81 200.25,54.42 200.50,59.47 200.70,62.08 200.75,62.61 201.00,64.71 201.25,66.20 201.50,67.31 201.75,68.17 202.00,68.85 202.25,69.40 202.50,69.85 202.75,70.22 203.00,70.53 203.25,70.80 203.50,71.02 203.75,71.22 204.00,71.39 204.25,71.53 204.50,71.66 204.75,71.77 205.00,71.87 205.25,71.96 205.50,72.04 205.75,72.11 206.00,72.17 206.25,72.23 206.50,72.28 206.75,72.33 207.00,72.37 207.25,72.40 207.50,72.44 207.75,72.47 208.00,72.50 208.25,72.52 208.50,72.55 208.75,72.57 209.00,72.59 209.25,72.60 209.50,72.62 209.75,72.64 210.00,72.65 210.25,72.67 210.50,72.69 210.75,72.71 211.00,72.73 211.25,72.75 211.50,72.77 211.75,72.78 212.00,72.80 212.25,72.81 212.50,72.83 212.75,72.84 213.00,72.86 213.25,72.87 213.50,72.88 213.75,72.89 214.00,72.91 214.25,72.92 214.50,72.93 214.75,72.94 215.00,72.95 215.25,72.96 215.50,72.97 215.75,72.98 216.00,72.99 216.25,73.00 216.50,73.01 216.75,73.02 217.00,73.03 217.25,73.04 217.50,73.05 217.75,73.06 218.00,73.07 218.25,73.08 218.50,73.09 218.75,73.10 219.00,73.10 219.25,73.11 219.50,73.12 219.75,73.13 220.00,73.14 220.25,73.15 220.50,73.15 220.75,73.16 221.00,73.17 221.25,73.18 221.50,73.18 221.75,73.19 222.00,73.20 222.25,73.21 222.50,73.21 222.75,73.22 223.00,73.23 223.25,73.24 223.50,73.25 223.75,73.25 224.00,73.26 224.25,73.27 224.50,73.28 224.75,73.29 225.00,73.29 225.25,73.30 225.50,73.31 225.75,73.32 226.00,73.33 226.25,73.33 226.50,73.34 226.75,73.35 227.00,73.36 227.25,73.37 227.50,73.37 227.75,73.38 228.00,73.39 228.25,73.40 228.50,73.40 228.75,73.41 229.00,73.42 229.25,73.43 229.50,73.43 229.75,73.44 230.00,73.45 230.25,73.46 230.50,73.47 230.75,73.47 231.00,73.48 231.25,73.49 231.50,73.50 231.75,73.50 232.00,73.51 232.25,73.52 232.50,73.52 232.75,73.53 233.00,73.54 233.25,73.55 233.50,73.55 233.75,73.56 234.00,73.57 234.25,73.58 234.50,73.58 234.75,73.59 235.00,73.60 235.25,73.61 235.50,73.61 235.75,73.62 236.00,73.63 236.25,73.63 236.50,73.64 236.75,73.65 237.00,73.66 237.25,73.66 237.50,73.67 237.75,73.68 238.00,73.69 238.25,73.69 238.50,73.70 238.75,73.71 239.00,73.71 239.25,73.72 239.50,73.73 239.75,73.74 240.00,73.74 240.25,73.75 240.50,73.76 240.75,73.76 241.00,73.77 241.25,73.78 241.50,73.79 241.75,73.79 242.00,73.80 242.25,73.81 242.50,73.81 242.75,73.82 243.00,73.83 243.25,73.84 243.50,73.84 243.75,73.85 244.00,73.86 244.25,73.86 244.50,73.87 244.75,73.88 245.00,73.88 245.25,73.89 245.50,73.90 245.75,73.91 246.00,73.91 246.25,73.92 246.50,73.93 246.75,73.93 247.00,73.94 247.25,73.95 247.50,73.96 247.75,73.96 248.00,73.97 248.25,73.98 248.50,73.98 248.75,73.99 249.00,74.00 249.25,74.00 249.50,74.01 249.75,74.02 250.00,74.03 250.25,74.03 250.50,74.04 250.75,74.05 251.00,74.05 251.25,74.06 251.50,74.07 251.75,74.07 252.00,74.08 252.25,74.09 252.50,74.10 252.75,74.10 253.00,74.11 253.25,74.12 253.50,74.12 253.75,74.13 254.00,74.14 254.25,74.14 254.50,74.15 254.75,74.16 255.00,74.16 255.25,74.17 255.50,74.18 255.75,74.19 256.00,74.19 256.25,74.20 256.50,74.21 256.75,74.21 257.00,74.22 257.25,74.23 257.50,74.23 257.75,74.24 258.00,74.25 258.25,74.26 258.50,74.26 258.75,74.27 259.00,74.28 259.25,74.28 259.50,74.29 259.75,74.30 260.00,74.30 260.25,74.31 260.50,74.32 260.75,74.32 261.00,74.33 261.25,74.34 261.50,74.34 261.75,74.35 262.00,74.36 262.25,74.37 262.50,74.37 262.75,74.38 263.00,74.39 263.25,74.40 263.50,74.41 263.75,74.42 264.00,74.43 264.25,74.44 264.50,74.46 264.75,74.47 265.00,74.48 265.25,74.49 265.50,74.50 265.75,74.51 266.00,74.53 266.25,74.54 266.50,74.55 266.75,74.56 267.00,74.57 267.25,74.58 267.50,74.60 267.75,74.61 268.00,74.62 268.25,74.63 268.50,74.64 268.75,74.65 269.00,74.67 269.25,74.68 269.50,74.69 269.75,74.70 270.00,74.71 270.25,74.72 270.50,74.73 270.75,74.75 271.00,74.76 271.25,74.77 271.50,74.78 271.75,74.79 272.00,74.80 272.25,74.81 272.50,74.82 272.75,74.84 273.00,74.85 273.25,74.86 273.50,74.87 273.75,74.88 274.00,74.89 274.25,74.90 274.50,74.91 274.75,74.92 275.00,74.93 275.25,74.94 275.50,74.95 275.75,74.96 276.00,74.97 276.25,74.98 276.50,74.99 276.75,75.00 277.00,75.01 277.25,75.02 277.50,75.03 277.75,75.04 278.00,75.05 278.25,75.06 278.50,75.06 278.75,75.07 279.00,75.07 279.25,75.08 279.50,75.08 279.75,75.08 280.00,75.08 280.25,75.12 280.50,75.16 280.75,75.19 281.00,75.21 281.25,75.24 281.50,75.25 281.75,75.26 282.00,75.25 282.25,75.22 282.50,75.17 282.75,75.09 283.00,74.95 283.25,74.74 283.50,74.44 283.75,74.05 284.00,73.65 284.03,73.62 284.25,73.45 284.30,73.45 284.50,73.62 284.57,73.72 284.75,74.06 285.00,74.57 285.25,75.01 285.50,75.36 285.75,75.62 286.00,75.83 286.25,75.99 286.50,76.12 286.75,76.24 287.00,76.33 287.25,76.42 287.50,76.50 287.75,76.58 288.00,76.65 288.25,76.68 288.50,76.70 288.75,76.72 289.00,76.74 289.25,76.76 289.50,76.78 289.75,76.79 290.00,76.81 290.25,76.82 290.50,76.84 290.75,76.85 291.00,76.87 291.25,76.88 291.50,76.89 291.75,76.90 292.00,76.92 292.25,76.93 292.50,76.94 292.75,76.95 293.00,76.96 293.25,76.97 293.50,76.99 293.75,77.00 294.00,77.01 294.25,77.02 294.50,77.03 294.75,77.04 295.00,77.05 295.25,77.06 295.50,77.07 295.75,77.08 296.00,77.09 296.25,77.10 296.50,77.11 296.75,77.12 297.00,77.13 297.25,77.14 297.50,77.15 297.75,77.16 298.00,77.17 298.25,77.18 298.50,77.20 298.75,77.21 299.00,77.22 299.25,77.23 299.50,77.24 299.75,77.25 300.00,77.26 300.25,77.27 300.50,77.28 300.75,77.29 301.00,77.30 301.25,77.31 301.50,77.32 301.75,77.33 302.00,77.34 302.25,77.35 302.50,77.36 302.75,77.37 303.00,77.38 303.25,77.39 303.50,77.40 303.75,77.41 304.00,77.41 304.25,77.42 304.50,77.43 304.75,77.44 305.00,77.45 305.25,77.46 305.50,77.47 305.75,77.48 306.00,77.49 306.25,77.50 306.50,77.51 306.75,77.52 307.00,77.53 307.25,77.54 307.50,77.55 307.75,77.56 308.00,77.57 308.25,77.58 308.50,77.59 308.75,77.60 309.00,77.61 309.25,77.62 309.50,77.63 309.75,77.64 310.00,77.65 310.25,77.66 310.50,77.67 310.75,77.68 311.00,77.69 311.25,77.70 311.50,77.71 311.75,77.72 312.00,77.73 312.25,77.74 312.50,77.75 312.75,77.76 313.00,77.77 313.25,77.78 313.50,77.79 313.75,77.80 314.00,77.81 314.25,77.82 314.50,77.83 314.75,77.84 315.00,77.85 315.25,77.86 315.50,77.87 315.75,77.88 316.00,77.89 316.25,77.90 316.50,77.91 316.75,77.92 317.00,77.93 317.25,77.94 317.50,77.95 317.75,77.96 318.00,77.97 318.25,77.97 318.50,77.98 318.75,77.99 319.00,78.00 319.25,78.01 319.50,78.02 319.75,78.03 320.00,78.04 320.25,78.05 320.50,78.06 320.75,78.07 321.00,78.08 321.25,78.09 321.50,78.10 321.75,78.11 322.00,78.12 322.25,78.13 322.50,78.14 322.75,78.15 323.00,78.16 323.25,78.17 323.50,78.18 323.75,78.19 324.00,78.20 324.25,78.21 324.50,78.22 324.75,78.23 325.00,78.24 325.25,78.25 325.50,78.26 325.75,78.27 326.00,78.28 326.25,78.29 326.50,78.30 326.75,78.31 327.00,78.32 327.25,78.33 327.50,78.34 327.75,78.35 328.00,78.36 328.25,78.37 328.50,78.38 328.75,78.39 329.00,78.40 329.25,78.41 329.50,78.41 329.75,78.42 330.00,78.43 330.25,78.44 330.50,78.45 330.75,78.46 331.00,78.47"/>
<polyline fill="none" stroke="#ff3a74" stroke-width="1.10" stroke-linejoin="round" opacity="1" points="186.00,111.20 186.25,111.23 186.50,111.27 186.75,111.31 187.00,111.35 187.25,111.39 187.50,111.42 187.75,111.46 188.00,111.50 188.25,111.53 188.50,111.56 188.75,111.60 189.00,111.63 189.25,111.66 189.50,111.70 189.75,111.73 190.00,111.76 190.25,111.72 190.50,111.69 190.75,111.66 191.00,111.62 191.25,111.58 191.50,111.54 191.75,111.50 192.00,111.46 192.25,111.42 192.50,111.37 192.75,111.32 193.00,111.27 193.25,111.21 193.50,111.15 193.75,111.09 194.00,111.02 194.25,110.95 194.50,110.87 194.75,110.79 195.00,110.70 195.25,110.60 195.50,110.49 195.75,110.37 196.00,110.24 196.25,110.09 196.50,109.92 196.75,109.74 197.00,109.52 197.25,109.27 197.50,108.98 197.75,108.64 198.00,108.24 198.25,107.74 198.50,107.13 198.75,106.37 199.00,105.38 199.25,104.06 199.50,102.22 199.75,99.50 200.00,95.20 200.12,92.26 200.25,88.38 200.45,82.17 200.50,81.06 200.60,80.06 200.75,82.01 201.00,89.53 201.08,91.76 201.25,95.54 201.50,99.17 201.75,101.37 202.00,102.76 202.25,103.64 202.50,104.18 202.75,104.47 203.00,104.57 203.25,104.55 203.50,104.49 203.55,104.48 203.75,104.48 204.00,104.62 204.25,104.93 204.45,105.30 204.50,105.41 204.75,105.97 205.00,106.54 205.25,107.07 205.50,107.55 205.75,107.96 206.00,108.30 206.25,108.59 206.50,108.84 206.75,109.05 207.00,109.23 207.25,109.38 207.50,109.51 207.75,109.63 208.00,109.73 208.25,109.82 208.50,109.89 208.75,109.96 209.00,110.02 209.25,110.07 209.50,110.12 209.75,110.16 210.00,110.20 210.25,110.23 210.50,110.26 210.75,110.29 211.00,110.31 211.25,110.33 211.50,110.35 211.75,110.37 212.00,110.38 212.25,110.39 212.50,110.40 212.75,110.41 213.00,110.42 213.25,110.42 213.50,110.43 213.75,110.43 214.00,110.43 214.25,110.44 214.50,110.44 214.75,110.44 215.00,110.44 215.25,110.45 215.50,110.46 215.75,110.47 216.00,110.48 216.25,110.49 216.50,110.50 216.75,110.51 217.00,110.52 217.25,110.52 217.50,110.53 217.75,110.54 218.00,110.54 218.25,110.55 218.50,110.56 218.75,110.56 219.00,110.57 219.25,110.57 219.50,110.58 219.75,110.58 220.00,110.59 220.25,110.59 220.50,110.60 220.75,110.60 221.00,110.60 221.25,110.61 221.50,110.61 221.75,110.61 222.00,110.62 222.25,110.62 222.50,110.62 222.75,110.62 223.00,110.63 223.25,110.63 223.50,110.63 223.75,110.63 224.00,110.64 224.25,110.64 224.50,110.64 224.75,110.64 225.00,110.64 225.25,110.65 225.50,110.65 225.75,110.65 226.00,110.65 226.25,110.65 226.50,110.65 226.75,110.65 227.00,110.66 227.25,110.66 227.50,110.66 227.75,110.66 228.00,110.66 228.25,110.66 228.50,110.66 228.75,110.66 229.00,110.66 229.25,110.66 229.50,110.67 229.75,110.67 230.00,110.67 230.25,110.67 230.50,110.67 230.75,110.67 231.00,110.67 231.25,110.67 231.50,110.67 231.75,110.67 232.00,110.67 232.25,110.67 232.50,110.67 232.75,110.67 233.00,110.67 233.25,110.67 233.50,110.67 233.75,110.67 234.00,110.67 234.25,110.67 234.50,110.67 234.75,110.67 235.00,110.67 235.25,110.67 235.50,110.67 235.75,110.67 236.00,110.67 236.25,110.67 236.50,110.67 236.75,110.67 237.00,110.67 237.25,110.67 237.50,110.67 237.75,110.67 238.00,110.67 238.25,110.67 238.50,110.67 238.75,110.67 239.00,110.67 239.25,110.67 239.50,110.67 239.75,110.67 240.00,110.67 240.25,110.67 240.50,110.67 240.75,110.67 241.00,110.67 241.25,110.67 241.50,110.67 241.75,110.67 242.00,110.67 242.25,110.67 242.50,110.67 242.75,110.67 243.00,110.67 243.25,110.67 243.50,110.67 243.75,110.66 244.00,110.66 244.25,110.66 244.50,110.66 244.75,110.66 245.00,110.66 245.25,110.67 245.50,110.68 245.75,110.68 246.00,110.69 246.25,110.70 246.50,110.71 246.75,110.71 247.00,110.72 247.25,110.73 247.50,110.73 247.75,110.74 248.00,110.75 248.25,110.76 248.50,110.76 248.75,110.77 249.00,110.78 249.25,110.78 249.50,110.79 249.75,110.80 250.00,110.81 250.25,110.81 250.50,110.82 250.75,110.83 251.00,110.83 251.25,110.84 251.50,110.85 251.75,110.85 252.00,110.86 252.25,110.87 252.50,110.88 252.75,110.88 253.00,110.89 253.25,110.90 253.50,110.90 253.75,110.91 254.00,110.92 254.25,110.93 254.50,110.93 254.75,110.94 255.00,110.95 255.25,110.95 255.50,110.96 255.75,110.97 256.00,110.97 256.25,110.98 256.50,110.99 256.75,110.99 257.00,111.00 257.25,111.01 257.50,111.02 257.75,111.02 258.00,111.03 258.25,111.04 258.50,111.04 258.75,111.05 259.00,111.06 259.25,111.06 259.50,111.07 259.75,111.08 260.00,111.08 260.25,111.09 260.50,111.10 260.75,111.11 261.00,111.11 261.25,111.12 261.50,111.13 261.75,111.13 262.00,111.14 262.25,111.15 262.50,111.15 262.75,111.16 263.00,111.17 263.25,111.17 263.50,111.18 263.75,111.19 264.00,111.19 264.25,111.20 264.50,111.21 264.75,111.21 265.00,111.22 265.25,111.23 265.50,111.24 265.75,111.24 266.00,111.25 266.25,111.26 266.50,111.26 266.75,111.27 267.00,111.28 267.25,111.28 267.50,111.29 267.75,111.30 268.00,111.30 268.25,111.31 268.50,111.32 268.75,111.32 269.00,111.33 269.25,111.33 269.50,111.34 269.75,111.35 270.00,111.35 270.25,111.36 270.50,111.37 270.75,111.37 271.00,111.38 271.25,111.39 271.50,111.39 271.75,111.40 272.00,111.40 272.25,111.41 272.50,111.42 272.75,111.42 273.00,111.43 273.25,111.43 273.50,111.44 273.75,111.45 274.00,111.45 274.25,111.46 274.50,111.46 274.75,111.47 275.00,111.47 275.25,111.48 275.50,111.48 275.75,111.49 276.00,111.49 276.25,111.50 276.50,111.50 276.75,111.50 277.00,111.51 277.25,111.51 277.50,111.51 277.75,111.51 278.00,111.52 278.25,111.55 278.50,111.59 278.75,111.63 279.00,111.66 279.25,111.70 279.50,111.73 279.75,111.76 280.00,111.79 280.25,111.81 280.50,111.83 280.75,111.84 281.00,111.85 281.25,111.84 281.50,111.83 281.75,111.79 282.00,111.72 282.25,111.62 282.50,111.46 282.75,111.23 283.00,110.89 283.25,110.43 283.50,109.91 283.63,109.67 283.75,109.51 283.90,109.45 284.00,109.51 284.17,109.77 284.25,109.94 284.50,110.54 284.75,111.11 285.00,111.57 285.25,111.91 285.50,112.17 285.75,112.37 286.00,112.53 286.25,112.67 286.50,112.78 286.75,112.88 287.00,112.96 287.25,113.04 287.50,113.11 287.75,113.18 288.00,113.24 288.25,113.27 288.50,113.29 288.75,113.32 289.00,113.34 289.25,113.36 289.50,113.38 289.75,113.39 290.00,113.41 290.25,113.43 290.50,113.44 290.75,113.46 291.00,113.47 291.25,113.49 291.50,113.50 291.75,113.51 292.00,113.53 292.25,113.54 292.50,113.55 292.75,113.57 293.00,113.58 293.25,113.59 293.50,113.60 293.75,113.62 294.00,113.63 294.25,113.64 294.50,113.65 294.75,113.66 295.00,113.68 295.25,113.69 295.50,113.70 295.75,113.71 296.00,113.72 296.25,113.74 296.50,113.75 296.75,113.76 297.00,113.77 297.25,113.78 297.50,113.79 297.75,113.80 298.00,113.82 298.25,113.83 298.50,113.84 298.75,113.85 299.00,113.86 299.25,113.87 299.50,113.88 299.75,113.89 300.00,113.91 300.25,113.92 300.50,113.93 300.75,113.94 301.00,113.95 301.25,113.96 301.50,113.97 301.75,113.98 302.00,114.00 302.25,114.01 302.50,114.02 302.75,114.03 303.00,114.04 303.25,114.05 303.50,114.06 303.75,114.07 304.00,114.08 304.25,114.10 304.50,114.11 304.75,114.12 305.00,114.13 305.25,114.14 305.50,114.15 305.75,114.16 306.00,114.17 306.25,114.18 306.50,114.20 306.75,114.21 307.00,114.22 307.25,114.23 307.50,114.24 307.75,114.25 308.00,114.26 308.25,114.27 308.50,114.28 308.75,114.29 309.00,114.31 309.25,114.32 309.50,114.33 309.75,114.34 310.00,114.35 310.25,114.36 310.50,114.37 310.75,114.38 311.00,114.39 311.25,114.40 311.50,114.42 311.75,114.43 312.00,114.44 312.25,114.45 312.50,114.46 312.75,114.47 313.00,114.48 313.25,114.49 313.50,114.50 313.75,114.51 314.00,114.52 314.25,114.54 314.50,114.55 314.75,114.56 315.00,114.57 315.25,114.58 315.50,114.59 315.75,114.60 316.00,114.61 316.25,114.62 316.50,114.63 316.75,114.65 317.00,114.66 317.25,114.67 317.50,114.68 317.75,114.69 318.00,114.70 318.25,114.71 318.50,114.72 318.75,114.73 319.00,114.74 319.25,114.75 319.50,114.77 319.75,114.78 320.00,114.79 320.25,114.80 320.50,114.81 320.75,114.82 321.00,114.83 321.25,114.84 321.50,114.85 321.75,114.86 322.00,114.88 322.25,114.89 322.50,114.90 322.75,114.91 323.00,114.92 323.25,114.93 323.50,114.94 323.75,114.95 324.00,114.96 324.25,114.97 324.50,114.98 324.75,115.00 325.00,115.01 325.25,115.02 325.50,115.03 325.75,115.04 326.00,115.05 326.25,115.06 326.50,115.07 326.75,115.08 327.00,115.09 327.25,115.10 327.50,115.12 327.75,115.13 328.00,115.14 328.25,115.15 328.50,115.16 328.75,115.17 329.00,115.18 329.25,115.19 329.50,115.20 329.75,115.21 330.00,115.23 330.25,115.24 330.50,115.25 330.75,115.26 331.00,115.27"/>
<polyline fill="none" stroke="#98acc4" stroke-width="1.10" stroke-linejoin="round" opacity="1" points="186.00,153.00 186.25,153.00 186.50,153.00 186.75,153.00 187.00,153.00 187.25,153.00 187.50,153.00 187.75,153.00 188.00,153.00 188.25,153.00 188.50,153.00 188.75,153.00 189.00,153.00 189.25,153.00 189.50,153.00 189.75,153.00 190.00,153.00 190.25,153.00 190.50,153.00 190.75,153.00 191.00,153.00 191.25,153.00 191.50,153.00 191.75,153.00 192.00,153.00 192.25,153.00 192.50,153.00 192.75,153.00 193.00,153.00 193.25,153.00 193.50,153.00 193.75,153.00 194.00,153.00 194.25,153.00 194.50,153.00 194.75,153.00 195.00,153.00 195.25,153.00 195.50,153.00 195.75,153.00 196.00,153.00 196.25,153.00 196.50,153.00 196.75,153.00 197.00,153.00 197.25,153.00 197.50,153.00 197.75,153.00 198.00,153.00 198.25,153.00 198.50,153.00 198.75,153.00 199.00,153.00 199.25,153.00 199.50,153.00 199.75,153.00 200.00,153.00 200.25,153.00 200.50,153.00 200.75,153.00 201.00,153.00 201.25,153.00 201.50,153.00 201.75,153.00 202.00,153.00 202.25,153.00 202.50,153.00 202.75,153.00 203.00,153.00 203.25,153.00 203.50,153.00 203.75,153.00 204.00,153.00 204.25,153.00 204.50,153.00 204.75,153.00 205.00,153.00 205.25,153.00 205.50,153.00 205.75,153.00 206.00,153.00 206.25,153.00 206.50,153.00 206.75,153.00 207.00,153.00 207.25,153.00 207.50,153.00 207.75,153.00 208.00,153.00 208.25,153.00 208.50,153.00 208.75,153.00 209.00,153.00 209.25,152.99 209.50,152.99 209.75,152.99 210.00,152.99 210.25,152.99 210.50,152.99 210.75,152.99 211.00,152.99 211.25,152.99 211.50,152.99 211.75,152.99 212.00,152.99 212.25,152.99 212.50,152.99 212.75,152.99 213.00,152.99 213.25,152.99 213.50,152.99 213.75,152.99 214.00,152.99 214.25,152.99 214.50,152.99 214.75,152.99 215.00,152.99 215.25,152.99 215.50,152.99 215.75,152.99 216.00,152.99 216.25,152.99 216.50,152.99 216.75,152.99 217.00,152.99 217.25,152.99 217.50,152.99 217.75,152.99 218.00,152.99 218.25,152.99 218.50,152.99 218.75,152.99 219.00,152.99 219.25,152.99 219.50,152.99 219.75,152.99 220.00,152.99 220.25,152.99 220.50,152.99 220.75,152.99 221.00,152.99 221.25,152.99 221.50,152.99 221.75,152.99 222.00,152.99 222.25,152.99 222.50,152.99 222.75,152.99 223.00,152.99 223.25,152.98 223.50,152.98 223.75,152.98 224.00,152.98 224.25,152.98 224.50,152.98 224.75,152.98 225.00,152.98 225.25,152.98 225.50,152.98 225.75,152.98 226.00,152.98 226.25,152.98 226.50,152.98 226.75,152.98 227.00,152.98 227.25,152.98 227.50,152.97 227.75,152.97 228.00,152.97 228.25,152.97 228.50,152.97 228.75,152.97 229.00,152.97 229.25,152.97 229.50,152.97 229.75,152.96 230.00,152.96 230.25,152.96 230.50,152.96 230.75,152.96 231.00,152.96 231.25,152.95 231.50,152.95 231.75,152.95 232.00,152.95 232.25,152.94 232.50,152.94 232.75,152.94 233.00,152.93 233.25,152.93 233.50,152.93 233.75,152.92 234.00,152.92 234.25,152.91 234.50,152.91 234.75,152.90 235.00,152.89 235.25,152.88 235.50,152.88 235.75,152.87 236.00,152.85 236.25,152.84 236.50,152.83 236.75,152.81 237.00,152.79 237.25,152.77 237.50,152.75 237.75,152.72 238.00,152.68 238.25,152.64 238.50,152.59 238.75,152.53 239.00,152.45 239.25,152.35 239.50,152.23 239.75,152.07 240.00,151.85 240.25,151.55 240.50,151.12 240.75,150.45 241.00,149.33 241.25,147.23 241.50,142.60 241.58,139.96 241.75,130.92 241.91,119.24 242.00,116.30 242.09,119.24 242.25,130.92 242.42,139.96 242.50,142.60 242.75,147.23 243.00,149.33 243.25,150.45 243.50,151.12 243.75,151.55 244.00,151.85 244.25,152.07 244.50,152.23 244.75,152.35 245.00,152.45 245.25,152.53 245.50,152.59 245.75,152.64 246.00,152.68 246.25,152.72 246.50,152.75 246.75,152.77 247.00,152.79 247.25,152.81 247.50,152.83 247.75,152.84 248.00,152.85 248.25,152.87 248.50,152.88 248.75,152.88 249.00,152.89 249.25,152.90 249.50,152.91 249.75,152.91 250.00,152.92 250.25,152.92 250.50,152.93 250.75,152.93 251.00,152.93 251.25,152.94 251.50,152.94 251.75,152.94 252.00,152.95 252.25,152.95 252.50,152.95 252.75,152.95 253.00,152.96 253.25,152.96 253.50,152.96 253.75,152.96 254.00,152.96 254.25,152.96 254.50,152.97 254.75,152.97 255.00,152.97 255.25,152.97 255.50,152.97 255.75,152.97 256.00,152.97 256.25,152.97 256.50,152.97 256.75,152.98 257.00,152.98 257.25,152.98 257.50,152.98 257.75,152.98 258.00,152.98 258.25,152.98 258.50,152.98 258.75,152.98 259.00,152.98 259.25,152.98 259.50,152.98 259.75,152.98 260.00,152.98 260.25,152.98 260.50,152.98 260.75,152.98 261.00,152.99 261.25,152.99 261.50,152.99 261.75,152.99 262.00,152.99 262.25,152.99 262.50,152.99 262.75,152.99 263.00,152.99 263.25,152.99 263.50,152.99 263.75,152.99 264.00,152.99 264.25,152.99 264.50,152.99 264.75,152.99 265.00,152.99 265.25,152.99 265.50,152.99 265.75,152.99 266.00,152.99 266.25,152.99 266.50,152.99 266.75,152.99 267.00,152.99 267.25,152.99 267.50,152.99 267.75,152.99 268.00,152.99 268.25,152.99 268.50,152.99 268.75,152.99 269.00,152.99 269.25,152.99 269.50,152.99 269.75,152.99 270.00,152.99 270.25,152.99 270.50,152.99 270.75,152.99 271.00,152.99 271.25,152.99 271.50,152.99 271.75,152.99 272.00,152.99 272.25,152.99 272.50,152.99 272.75,152.99 273.00,152.99 273.25,152.99 273.50,152.99 273.75,152.99 274.00,152.99 274.25,152.99 274.50,152.99 274.75,152.99 275.00,152.99 275.25,152.99 275.50,153.00 275.75,153.00 276.00,153.00 276.25,153.00 276.50,153.00 276.75,153.00 277.00,153.00 277.25,153.00 277.50,153.00 277.75,153.00 278.00,153.00 278.25,153.00 278.50,153.00 278.75,153.00 279.00,153.00 279.25,153.00 279.50,153.00 279.75,153.00 280.00,153.00 280.25,153.00 280.50,153.00 280.75,153.00 281.00,153.00 281.25,153.00 281.50,153.00 281.75,153.00 282.00,153.00 282.25,153.00 282.50,153.00 282.75,153.00 283.00,153.00 283.25,153.00 283.50,153.00 283.75,153.00 284.00,153.00 284.25,153.00 284.50,153.00 284.75,153.00 285.00,153.00 285.25,153.00 285.50,153.00 285.75,153.00 286.00,153.00 286.25,153.00 286.50,153.00 286.75,153.00 287.00,153.00 287.25,153.00 287.50,153.00 287.75,153.00 288.00,153.00 288.25,153.00 288.50,153.00 288.75,153.00 289.00,153.00 289.25,153.00 289.50,153.00 289.75,153.00 290.00,153.00 290.25,153.00 290.50,153.00 290.75,153.00 291.00,153.00 291.25,153.00 291.50,153.00 291.75,153.00 292.00,153.00 292.25,153.00 292.50,153.00 292.75,153.00 293.00,153.00 293.25,153.00 293.50,153.00 293.75,153.00 294.00,153.00 294.25,153.00 294.50,153.00 294.75,153.00 295.00,153.00 295.25,153.00 295.50,153.00 295.75,153.00 296.00,153.00 296.25,153.00 296.50,153.00 296.75,153.00 297.00,153.00 297.25,153.00 297.50,153.00 297.75,153.00 298.00,153.00 298.25,153.00 298.50,153.00 298.75,153.00 299.00,153.00 299.25,153.00 299.50,153.00 299.75,153.00 300.00,153.00 300.25,153.00 300.50,153.00 300.75,153.00 301.00,153.00 301.25,153.00 301.50,153.00 301.75,153.00 302.00,153.00 302.25,153.00 302.50,153.00 302.75,153.00 303.00,153.00 303.25,153.00 303.50,153.00 303.75,153.00 304.00,153.00 304.25,153.00 304.50,153.00 304.75,153.00 305.00,153.00 305.25,153.00 305.50,153.00 305.75,153.00 306.00,153.00 306.25,153.00 306.50,153.00 306.75,153.00 307.00,153.00 307.25,153.00 307.50,153.00 307.75,153.00 308.00,153.00 308.25,153.00 308.50,153.00 308.75,152.99 309.00,152.99 309.25,152.99 309.50,152.99 309.75,152.99 310.00,152.99 310.25,152.99 310.50,152.99 310.75,152.99 311.00,152.99 311.25,152.99 311.50,152.99 311.75,152.99 312.00,152.99 312.25,152.99 312.50,152.99 312.75,152.99 313.00,152.98 313.25,152.98 313.50,152.98 313.75,152.98 314.00,152.97 314.25,152.97 314.50,152.96 314.75,152.96 315.00,152.95 315.25,152.94 315.50,152.92 315.75,152.89 316.00,152.86 316.25,152.80 316.50,152.71 316.75,152.56 317.00,152.36 317.12,152.27 317.25,152.20 317.30,152.20 317.48,152.27 317.50,152.28 317.75,152.49 318.00,152.66 318.25,152.77 318.50,152.84 318.75,152.88 319.00,152.91 319.25,152.93 319.50,152.94 319.75,152.95 320.00,152.96 320.25,152.97 320.50,152.97 320.75,152.98 321.00,152.98 321.25,152.98 321.50,152.98 321.75,152.98 322.00,152.99 322.25,152.99 322.50,152.99 322.75,152.99 323.00,152.99 323.25,152.99 323.50,152.99 323.75,152.99 324.00,152.99 324.25,152.99 324.50,152.99 324.75,152.99 325.00,152.99 325.25,152.99 325.50,152.99 325.75,153.00 326.00,153.00 326.25,153.00 326.50,153.00 326.75,153.00 327.00,153.00 327.25,153.00 327.50,153.00 327.75,153.00 328.00,153.00 328.25,153.00 328.50,153.00 328.75,153.00 329.00,153.00 329.25,153.00 329.50,153.00 329.75,153.00 330.00,153.00 330.25,153.00 330.50,153.00 330.75,153.00 331.00,153.00"/>
<rect x="18.50" y="187.90" width="147.00" height="154.30" fill="none" stroke="#4f6169" stroke-width="1.05"/>
<line x1="31.86" y1="187.90" x2="31.86" y2="190.90" stroke="#4f6169" stroke-width="1"/>
<line x1="31.86" y1="342.20" x2="31.86" y2="345.20" stroke="#4f6169" stroke-width="1"/>
<line x1="45.23" y1="187.90" x2="45.23" y2="189.20" stroke="#4f6169" stroke-width="1"/>
<line x1="45.23" y1="342.20" x2="45.23" y2="343.50" stroke="#4f6169" stroke-width="1"/>
<line x1="58.59" y1="187.90" x2="58.59" y2="190.90" stroke="#4f6169" stroke-width="1"/>
<line x1="58.59" y1="342.20" x2="58.59" y2="345.20" stroke="#4f6169" stroke-width="1"/>
<line x1="71.95" y1="187.90" x2="71.95" y2="189.20" stroke="#4f6169" stroke-width="1"/>
<line x1="71.95" y1="342.20" x2="71.95" y2="343.50" stroke="#4f6169" stroke-width="1"/>
<line x1="85.32" y1="187.90" x2="85.32" y2="190.90" stroke="#4f6169" stroke-width="1"/>
<line x1="85.32" y1="342.20" x2="85.32" y2="345.20" stroke="#4f6169" stroke-width="1"/>
<line x1="98.68" y1="187.90" x2="98.68" y2="189.20" stroke="#4f6169" stroke-width="1"/>
<line x1="98.68" y1="342.20" x2="98.68" y2="343.50" stroke="#4f6169" stroke-width="1"/>
<line x1="112.05" y1="187.90" x2="112.05" y2="190.90" stroke="#4f6169" stroke-width="1"/>
<line x1="112.05" y1="342.20" x2="112.05" y2="345.20" stroke="#4f6169" stroke-width="1"/>
<line x1="125.41" y1="187.90" x2="125.41" y2="189.20" stroke="#4f6169" stroke-width="1"/>
<line x1="125.41" y1="342.20" x2="125.41" y2="343.50" stroke="#4f6169" stroke-width="1"/>
<line x1="138.77" y1="187.90" x2="138.77" y2="190.90" stroke="#4f6169" stroke-width="1"/>
<line x1="138.77" y1="342.20" x2="138.77" y2="345.20" stroke="#4f6169" stroke-width="1"/>
<line x1="152.14" y1="187.90" x2="152.14" y2="189.20" stroke="#4f6169" stroke-width="1"/>
<line x1="152.14" y1="342.20" x2="152.14" y2="343.50" stroke="#4f6169" stroke-width="1"/>
<line x1="165.50" y1="187.90" x2="165.50" y2="190.90" stroke="#4f6169" stroke-width="1"/>
<line x1="165.50" y1="342.20" x2="165.50" y2="345.20" stroke="#4f6169" stroke-width="1"/>
<text transform="translate(31.86,352.50) rotate(0.05)" font-size="6.80" fill="#2c363c" stroke="#2c363c" stroke-width="0.15" stroke-linejoin="round" text-anchor="middle">10</text>
<text transform="translate(58.59,352.50) rotate(0.05)" font-size="6.80" fill="#2c363c" stroke="#2c363c" stroke-width="0.15" stroke-linejoin="round" text-anchor="middle">20</text>
<text transform="translate(85.32,352.50) rotate(0.05)" font-size="6.80" fill="#2c363c" stroke="#2c363c" stroke-width="0.15" stroke-linejoin="round" text-anchor="middle">30</text>
<text transform="translate(112.05,352.50) rotate(0.05)" font-size="6.80" fill="#2c363c" stroke="#2c363c" stroke-width="0.15" stroke-linejoin="round" text-anchor="middle">40</text>
<text transform="translate(138.77,352.50) rotate(0.05)" font-size="6.80" fill="#2c363c" stroke="#2c363c" stroke-width="0.15" stroke-linejoin="round" text-anchor="middle">50</text>
<text transform="translate(165.50,352.50) rotate(0.05)" font-size="6.80" fill="#2c363c" stroke="#2c363c" stroke-width="0.15" stroke-linejoin="round" text-anchor="middle">60</text>
<text transform="translate(92.00,364.50) rotate(0.05)" font-size="7.90" fill="#222" stroke="#222" stroke-width="0.12" stroke-linejoin="round" text-anchor="middle">2 Theta (deg)</text>
<text transform="translate(11.70,265.45) rotate(-89.95)" font-size="7.60" fill="#222" stroke="#222" stroke-width="0.12" stroke-linejoin="round" text-anchor="middle">Intensity (a.u.)</text>
<polyline fill="none" stroke="#50ee50" stroke-width="1.10" stroke-linejoin="round" opacity="1" points="19.30,223.66 19.55,223.71 19.80,223.76 20.05,223.81 20.30,223.86 20.55,223.91 20.80,223.96 21.05,224.01 21.30,224.06 21.55,224.10 21.80,224.15 22.05,224.20 22.30,224.25 22.55,224.30 22.80,224.34 23.05,224.39 23.30,224.43 23.55,224.48 23.80,224.52 24.05,224.55 24.30,224.54 24.55,224.53 24.80,224.51 25.05,224.49 25.30,224.47 25.55,224.45 25.80,224.43 26.05,224.41 26.30,224.39 26.55,224.36 26.80,224.33 27.05,224.30 27.30,224.27 27.55,224.23 27.80,224.19 28.05,224.14 28.30,224.09 28.55,224.04 28.80,223.98 29.05,223.91 29.30,223.83 29.55,223.74 29.80,223.64 30.05,223.52 30.30,223.39 30.55,223.23 30.80,223.05 31.05,222.83 31.30,222.58 31.55,222.26 31.80,221.88 32.05,221.39 32.30,220.78 32.55,219.98 32.80,218.91 33.05,217.43 33.30,215.32 33.55,212.19 33.75,208.63 33.80,207.55 34.05,201.12 34.29,194.64 34.30,194.42 34.50,192.10 34.55,192.26 34.71,194.64 34.80,196.87 35.05,203.87 35.25,208.61 35.30,209.61 35.55,213.57 35.80,216.24 36.05,218.06 36.30,219.35 36.55,220.29 36.80,221.00 37.05,221.55 37.30,221.99 37.55,222.34 37.80,222.62 38.05,222.86 38.30,223.06 38.55,223.22 38.80,223.36 39.05,223.49 39.30,223.59 39.55,223.68 39.80,223.76 40.05,223.83 40.30,223.89 40.55,223.95 40.80,223.99 41.05,224.04 41.30,224.08 41.55,224.11 41.80,224.14 42.05,224.17 42.30,224.19 42.55,224.22 42.80,224.24 43.05,224.26 43.30,224.27 43.55,224.29 43.80,224.30 44.05,224.32 44.30,224.33 44.55,224.34 44.80,224.35 45.05,224.36 45.30,224.38 45.55,224.39 45.80,224.41 46.05,224.42 46.30,224.43 46.55,224.45 46.80,224.46 47.05,224.47 47.30,224.48 47.55,224.49 47.80,224.50 48.05,224.51 48.30,224.52 48.55,224.53 48.80,224.54 49.05,224.55 49.30,224.56 49.55,224.57 49.80,224.58 50.05,224.59 50.30,224.60 50.55,224.61 50.80,224.61 51.05,224.62 51.30,224.63 51.55,224.64 51.80,224.65 52.05,224.65 52.30,224.66 52.55,224.67 52.80,224.67 53.05,224.68 53.30,224.69 53.55,224.70 53.80,224.70 54.05,224.71 54.30,224.72 54.55,224.72 54.80,224.73 55.05,224.74 55.30,224.74 55.55,224.75 55.80,224.76 56.05,224.76 56.30,224.77 56.55,224.77 56.80,224.78 57.05,224.79 57.30,224.79 57.55,224.80 57.80,224.81 58.05,224.81 58.30,224.82 58.55,224.82 58.80,224.83 59.05,224.84 59.30,224.84 59.55,224.85 59.80,224.85 60.05,224.86 60.30,224.86 60.55,224.87 60.80,224.88 61.05,224.88 61.30,224.89 61.55,224.89 61.80,224.90 62.05,224.90 62.30,224.91 62.55,224.92 62.80,224.92 63.05,224.93 63.30,224.93 63.55,224.94 63.80,224.94 64.05,224.95 64.30,224.96 64.55,224.96 64.80,224.97 65.05,224.97 65.30,224.98 65.55,224.98 65.80,224.99 66.05,224.99 66.30,225.00 66.55,225.00 66.80,225.01 67.05,225.02 67.30,225.02 67.55,225.03 67.80,225.03 68.05,225.04 68.30,225.04 68.55,225.05 68.80,225.05 69.05,225.06 69.30,225.06 69.55,225.07 69.80,225.07 70.05,225.08 70.30,225.08 70.55,225.09 70.80,225.10 71.05,225.10 71.30,225.11 71.55,225.11 71.80,225.12 72.05,225.12 72.30,225.13 72.55,225.13 72.80,225.14 73.05,225.14 73.30,225.15 73.55,225.15 73.80,225.16 74.05,225.16 74.30,225.17 74.55,225.17 74.80,225.18 75.05,225.18 75.30,225.19 75.55,225.19 75.80,225.20 76.05,225.21 76.30,225.21 76.55,225.22 76.80,225.22 77.05,225.23 77.30,225.23 77.55,225.24 77.80,225.24 78.05,225.25 78.30,225.25 78.55,225.26 78.80,225.26 79.05,225.27 79.30,225.27 79.55,225.28 79.80,225.28 80.05,225.29 80.30,225.29 80.55,225.30 80.80,225.30 81.05,225.31 81.30,225.31 81.55,225.32 81.80,225.32 82.05,225.33 82.30,225.33 82.55,225.34 82.80,225.34 83.05,225.35 83.30,225.35 83.55,225.36 83.80,225.36 84.05,225.37 84.30,225.37 84.55,225.38 84.80,225.39 85.05,225.39 85.30,225.40 85.55,225.40 85.80,225.41 86.05,225.41 86.30,225.42 86.55,225.42 86.80,225.43 87.05,225.43 87.30,225.44 87.55,225.44 87.80,225.45 88.05,225.45 88.30,225.46 88.55,225.46 88.80,225.47 89.05,225.47 89.30,225.48 89.55,225.48 89.80,225.49 90.05,225.49 90.30,225.50 90.55,225.50 90.80,225.51 91.05,225.51 91.30,225.52 91.55,225.52 91.80,225.53 92.05,225.53 92.30,225.54 92.55,225.54 92.80,225.55 93.05,225.55 93.30,225.56 93.55,225.56 93.80,225.57 94.05,225.57 94.30,225.58 94.55,225.58 94.80,225.59 95.05,225.59 95.30,225.60 95.55,225.60 95.80,225.61 96.05,225.61 96.30,225.62 96.55,225.62 96.80,225.63 97.05,225.63 97.30,225.64 97.55,225.64 97.80,225.65 98.05,225.65 98.30,225.66 98.55,225.66 98.80,225.67 99.05,225.67 99.30,225.68 99.55,225.68 99.80,225.69 100.05,225.69 100.30,225.70 100.55,225.70 100.80,225.71 101.05,225.71 101.30,225.72 101.55,225.72 101.80,225.73 102.05,225.73 102.30,225.74 102.55,225.75 102.80,225.75 103.05,225.76 103.30,225.76 103.55,225.77 103.80,225.77 104.05,225.78 104.30,225.78 104.55,225.79 104.80,225.79 105.05,225.80 105.30,225.80 105.55,225.81 105.80,225.81 106.05,225.82 106.30,225.82 106.55,225.83 106.80,225.83 107.05,225.84 107.30,225.84 107.55,225.85 107.80,225.85 108.05,225.86 108.30,225.86 108.55,225.87 108.80,225.87 109.05,225.88 109.30,225.88 109.55,225.89 109.80,225.89 110.05,225.90 110.30,225.90 110.55,225.91 110.80,225.91 111.05,225.92 111.30,225.92 111.55,225.93 111.80,225.93 112.05,225.94 112.30,225.94 112.55,225.95 112.80,225.95 113.05,225.96 113.30,225.96 113.55,225.97 113.80,225.97 114.05,225.98 114.30,225.98 114.55,225.99 114.80,225.99 115.05,226.00 115.30,226.00 115.55,226.01 115.80,226.01 116.05,226.02 116.30,226.02 116.55,226.03 116.80,226.03 117.05,226.04 117.30,226.04 117.55,226.05 117.80,226.05 118.05,226.06 118.30,226.06 118.55,226.07 118.80,226.07 119.05,226.08 119.30,226.08 119.55,226.09 119.80,226.09 120.05,226.10 120.30,226.11 120.55,226.11 120.80,226.12 121.05,226.13 121.30,226.14 121.55,226.15 121.80,226.16 122.05,226.16 122.30,226.17 122.55,226.18 122.80,226.19 123.05,226.20 123.30,226.21 123.55,226.21 123.80,226.22 124.05,226.23 124.30,226.24 124.55,226.25 124.80,226.26 125.05,226.26 125.30,226.27 125.55,226.28 125.80,226.29 126.05,226.30 126.30,226.30 126.55,226.31 126.80,226.32 127.05,226.33 127.30,226.34 127.55,226.35 127.80,226.35 128.05,226.36 128.30,226.37 128.55,226.38 128.80,226.39 129.05,226.40 129.30,226.40 129.55,226.41 129.80,226.42 130.05,226.43 130.30,226.44 130.55,226.45 130.80,226.45 131.05,226.46 131.30,226.47 131.55,226.48 131.80,226.49 132.05,226.50 132.30,226.50 132.55,226.51 132.80,226.52 133.05,226.53 133.30,226.54 133.55,226.54 133.80,226.55 134.05,226.56 134.30,226.57 134.55,226.58 134.80,226.59 135.05,226.59 135.30,226.60 135.55,226.61 135.80,226.62 136.05,226.63 136.30,226.64 136.55,226.64 136.80,226.65 137.05,226.66 137.30,226.67 137.55,226.68 137.80,226.69 138.05,226.69 138.30,226.70 138.55,226.71 138.80,226.72 139.05,226.73 139.30,226.74 139.55,226.74 139.80,226.75 140.05,226.76 140.30,226.77 140.55,226.78 140.80,226.78 141.05,226.79 141.30,226.80 141.55,226.81 141.80,226.82 142.05,226.83 142.30,226.83 142.55,226.84 142.80,226.85 143.05,226.86 143.30,226.87 143.55,226.88 143.80,226.88 144.05,226.89 144.30,226.90 144.55,226.91 144.80,226.92 145.05,226.93 145.30,226.93 145.55,226.94 145.80,226.95 146.05,226.96 146.30,226.97 146.55,226.98 146.80,226.98 147.05,226.99 147.30,227.00 147.55,227.01 147.80,227.02 148.05,227.02 148.30,227.03 148.55,227.04 148.80,227.05 149.05,227.06 149.30,227.07 149.55,227.07 149.80,227.08 150.05,227.09 150.30,227.10 150.55,227.11 150.80,227.12 151.05,227.12 151.30,227.13 151.55,227.14 151.80,227.15 152.05,227.16 152.30,227.17 152.55,227.17 152.80,227.18 153.05,227.19 153.30,227.20 153.55,227.21 153.80,227.21 154.05,227.22 154.30,227.23 154.55,227.24 154.80,227.25 155.05,227.26 155.30,227.26 155.55,227.27 155.80,227.28 156.05,227.29 156.30,227.30 156.55,227.31 156.80,227.31 157.05,227.32 157.30,227.33 157.55,227.34 157.80,227.35 158.05,227.36 158.30,227.36 158.55,227.37 158.80,227.38 159.05,227.39 159.30,227.40 159.55,227.40 159.80,227.41 160.05,227.42 160.30,227.43 160.55,227.44 160.80,227.45 161.05,227.45 161.30,227.46 161.55,227.47 161.80,227.48 162.05,227.49 162.30,227.50 162.55,227.50 162.80,227.51 163.05,227.52 163.30,227.53 163.55,227.54 163.80,227.55 164.05,227.55 164.30,227.56 164.55,227.57 164.80,227.58"/>
<polyline fill="none" stroke="#3a8cfa" stroke-width="1.10" stroke-linejoin="round" opacity="1" points="19.30,258.16 19.55,258.19 19.80,258.22 20.05,258.25 20.30,258.28 20.55,258.31 20.80,258.34 21.05,258.36 21.30,258.39 21.55,258.42 21.80,258.44 22.05,258.47 22.30,258.49 22.55,258.52 22.80,258.54 23.05,258.56 23.30,258.54 23.55,258.53 23.80,258.51 24.05,258.49 24.30,258.47 24.55,258.45 24.80,258.43 25.05,258.40 25.30,258.37 25.55,258.34 25.80,258.31 26.05,258.28 26.30,258.24 26.55,258.20 26.80,258.16 27.05,258.11 27.30,258.06 27.55,258.01 27.80,257.95 28.05,257.88 28.30,257.81 28.55,257.72 28.80,257.64 29.05,257.54 29.30,257.43 29.55,257.31 29.80,257.17 30.05,257.02 30.30,256.85 30.55,256.65 30.80,256.43 31.05,256.19 31.30,255.90 31.55,255.58 31.80,255.20 32.05,254.77 32.30,254.27 32.55,253.68 32.80,252.99 33.05,252.16 33.30,251.17 33.55,249.97 33.80,248.49 34.05,246.64 34.30,244.30 34.55,241.29 34.75,238.35 34.80,237.54 35.05,233.30 35.23,230.55 35.30,229.73 35.50,228.64 35.55,228.71 35.77,230.56 35.80,230.96 36.05,235.02 36.25,238.37 36.30,239.15 36.55,242.61 36.80,245.33 37.05,247.47 37.30,249.16 37.55,250.52 37.80,251.64 38.05,252.56 38.30,253.34 38.55,253.99 38.80,254.55 39.05,255.03 39.30,255.44 39.55,255.80 39.80,256.12 40.05,256.39 40.30,256.63 40.55,256.84 40.80,257.03 41.05,257.20 41.30,257.35 41.55,257.49 41.80,257.61 42.05,257.72 42.30,257.82 42.55,257.91 42.80,258.00 43.05,258.07 43.30,258.14 43.55,258.21 43.80,258.27 44.05,258.32 44.30,258.37 44.55,258.42 44.80,258.46 45.05,258.51 45.30,258.54 45.55,258.58 45.80,258.61 46.05,258.64 46.30,258.67 46.55,258.70 46.80,258.73 47.05,258.75 47.30,258.78 47.55,258.80 47.80,258.82 48.05,258.84 48.30,258.86 48.55,258.88 48.80,258.90 49.05,258.91 49.30,258.93 49.55,258.94 49.80,258.96 50.05,258.97 50.30,259.00 50.55,259.02 50.80,259.04 51.05,259.06 51.30,259.08 51.55,259.10 51.80,259.12 52.05,259.14 52.30,259.15 52.55,259.17 52.80,259.19 53.05,259.21 53.30,259.22 53.55,259.24 53.80,259.26 54.05,259.27 54.30,259.29 54.55,259.31 54.80,259.32 55.05,259.34 55.30,259.35 55.55,259.37 55.80,259.38 56.05,259.40 56.30,259.41 56.55,259.43 56.80,259.44 57.05,259.46 57.30,259.47 57.55,259.49 57.80,259.50 58.05,259.52 58.30,259.53 58.55,259.54 58.80,259.56 59.05,259.57 59.30,259.58 59.55,259.60 59.80,259.61 60.05,259.62 60.30,259.64 60.55,259.65 60.80,259.66 61.05,259.68 61.30,259.69 61.55,259.70 61.80,259.72 62.05,259.73 62.30,259.74 62.55,259.76 62.80,259.77 63.05,259.78 63.30,259.79 63.55,259.81 63.80,259.82 64.05,259.83 64.30,259.84 64.55,259.86 64.80,259.87 65.05,259.88 65.30,259.89 65.55,259.91 65.80,259.92 66.05,259.93 66.30,259.94 66.55,259.95 66.80,259.97 67.05,259.98 67.30,259.99 67.55,260.00 67.80,260.01 68.05,260.03 68.30,260.04 68.55,260.05 68.80,260.06 69.05,260.07 69.30,260.09 69.55,260.10 69.80,260.11 70.05,260.12 70.30,260.13 70.55,260.15 70.80,260.16 71.05,260.17 71.30,260.18 71.55,260.19 71.80,260.20 72.05,260.22 72.30,260.23 72.55,260.24 72.80,260.25 73.05,260.26 73.30,260.27 73.55,260.29 73.80,260.30 74.05,260.31 74.30,260.32 74.55,260.33 74.80,260.34 75.05,260.36 75.30,260.36 75.55,260.37 75.80,260.38 76.05,260.39 76.30,260.40 76.55,260.41 76.80,260.42 77.05,260.42 77.30,260.43 77.55,260.44 77.80,260.45 78.05,260.46 78.30,260.47 78.55,260.48 78.80,260.48 79.05,260.49 79.30,260.50 79.55,260.51 79.80,260.52 80.05,260.53 80.30,260.54 80.55,260.54 80.80,260.55 81.05,260.56 81.30,260.57 81.55,260.58 81.80,260.59 82.05,260.59 82.30,260.60 82.55,260.61 82.80,260.62 83.05,260.63 83.30,260.64 83.55,260.65 83.80,260.65 84.05,260.66 84.30,260.67 84.55,260.68 84.80,260.69 85.05,260.70 85.30,260.70 85.55,260.71 85.80,260.72 86.05,260.73 86.30,260.74 86.55,260.75 86.80,260.75 87.05,260.76 87.30,260.77 87.55,260.78 87.80,260.79 88.05,260.80 88.30,260.80 88.55,260.81 88.80,260.82 89.05,260.83 89.30,260.84 89.55,260.85 89.80,260.85 90.05,260.86 90.30,260.87 90.55,260.88 90.80,260.89 91.05,260.90 91.30,260.90 91.55,260.91 91.80,260.92 92.05,260.93 92.30,260.94 92.55,260.94 92.80,260.95 93.05,260.96 93.30,260.97 93.55,260.98 93.80,260.99 94.05,260.99 94.30,261.00 94.55,261.01 94.80,261.02 95.05,261.03 95.30,261.04 95.55,261.04 95.80,261.05 96.05,261.06 96.30,261.07 96.55,261.08 96.80,261.08 97.05,261.09 97.30,261.10 97.55,261.11 97.80,261.12 98.05,261.13 98.30,261.13 98.55,261.14 98.80,261.15 99.05,261.16 99.30,261.17 99.55,261.17 99.80,261.18 100.05,261.19 100.30,261.20 100.55,261.21 100.80,261.21 101.05,261.22 101.30,261.23 101.55,261.24 101.80,261.25 102.05,261.25 102.30,261.26 102.55,261.27 102.80,261.28 103.05,261.29 103.30,261.29 103.55,261.30 103.80,261.31 104.05,261.32 104.30,261.33 104.55,261.33 104.80,261.34 105.05,261.35 105.30,261.36 105.55,261.37 105.80,261.37 106.05,261.38 106.30,261.39 106.55,261.40 106.80,261.40 107.05,261.41 107.30,261.42 107.55,261.43 107.80,261.43 108.05,261.44 108.30,261.45 108.55,261.46 108.80,261.46 109.05,261.47 109.30,261.48 109.55,261.48 109.80,261.49 110.05,261.50 110.30,261.50 110.55,261.51 110.80,261.51 111.05,261.52 111.30,261.52 111.55,261.53 111.80,261.53 112.05,261.54 112.30,261.56 112.55,261.58 112.80,261.60 113.05,261.62 113.30,261.63 113.55,261.65 113.80,261.66 114.05,261.67 114.30,261.68 114.55,261.68 114.80,261.68 115.05,261.67 115.30,261.64 115.55,261.61 115.80,261.56 116.05,261.48 116.30,261.36 116.55,261.20 116.80,261.00 117.05,260.76 117.20,260.64 117.30,260.58 117.50,260.54 117.55,260.55 117.80,260.70 118.05,260.97 118.30,261.24 118.55,261.48 118.80,261.67 119.05,261.82 119.30,261.94 119.55,262.04 119.80,262.12 120.05,262.18 120.30,262.24 120.55,262.29 120.80,262.34 121.05,262.38 121.30,262.42 121.55,262.45 121.80,262.49 122.05,262.52 122.30,262.53 122.55,262.55 122.80,262.56 123.05,262.58 123.30,262.59 123.55,262.60 123.80,262.61 124.05,262.63 124.30,262.64 124.55,262.65 124.80,262.66 125.05,262.67 125.30,262.68 125.55,262.69 125.80,262.70 126.05,262.71 126.30,262.72 126.55,262.73 126.80,262.74 127.05,262.75 127.30,262.76 127.55,262.77 127.80,262.78 128.05,262.79 128.30,262.80 128.55,262.81 128.80,262.81 129.05,262.82 129.30,262.83 129.55,262.84 129.80,262.85 130.05,262.86 130.30,262.87 130.55,262.88 130.80,262.89 131.05,262.90 131.30,262.91 131.55,262.91 131.80,262.92 132.05,262.93 132.30,262.94 132.55,262.95 132.80,262.96 133.05,262.97 133.30,262.98 133.55,262.99 133.80,262.99 134.05,263.00 134.30,263.01 134.55,263.02 134.80,263.03 135.05,263.04 135.30,263.05 135.55,263.06 135.80,263.07 136.05,263.07 136.30,263.08 136.55,263.09 136.80,263.10 137.05,263.11 137.30,263.12 137.55,263.13 137.80,263.14 138.05,263.14 138.30,263.15 138.55,263.16 138.80,263.17 139.05,263.18 139.30,263.19 139.55,263.20 139.80,263.21 140.05,263.21 140.30,263.22 140.55,263.23 140.80,263.24 141.05,263.25 141.30,263.26 141.55,263.27 141.80,263.28 142.05,263.28 142.30,263.29 142.55,263.30 142.80,263.31 143.05,263.32 143.30,263.33 143.55,263.34 143.80,263.35 144.05,263.35 144.30,263.36 144.55,263.37 144.80,263.38 145.05,263.39 145.30,263.40 145.55,263.41 145.80,263.41 146.05,263.42 146.30,263.43 146.55,263.44 146.80,263.45 147.05,263.46 147.30,263.47 147.55,263.48 147.80,263.48 148.05,263.49 148.30,263.50 148.55,263.51 148.80,263.52 149.05,263.53 149.30,263.54 149.55,263.55 149.80,263.55 150.05,263.56 150.30,263.57 150.55,263.58 150.80,263.59 151.05,263.60 151.30,263.61 151.55,263.61 151.80,263.62 152.05,263.63 152.30,263.64 152.55,263.65 152.80,263.66 153.05,263.67 153.30,263.68 153.55,263.68 153.80,263.69 154.05,263.70 154.30,263.71 154.55,263.72 154.80,263.73 155.05,263.74 155.30,263.74 155.55,263.75 155.80,263.76 156.05,263.77 156.30,263.78 156.55,263.79 156.80,263.80 157.05,263.81 157.30,263.81 157.55,263.82 157.80,263.83 158.05,263.84 158.30,263.85 158.55,263.86 158.80,263.87 159.05,263.87 159.30,263.88 159.55,263.89 159.80,263.90 160.05,263.91 160.30,263.92 160.55,263.93 160.80,263.94 161.05,263.94 161.30,263.95 161.55,263.96 161.80,263.97 162.05,263.98 162.30,263.99 162.55,264.00 162.80,264.00 163.05,264.01 163.30,264.02 163.55,264.03 163.80,264.04 164.05,264.05 164.30,264.06 164.55,264.07 164.80,264.07"/>
<polyline fill="none" stroke="#ff3a74" stroke-width="1.10" stroke-linejoin="round" opacity="1" points="19.30,294.38 19.55,294.41 19.80,294.44 20.05,294.47 20.30,294.50 20.55,294.52 20.80,294.55 21.05,294.58 21.30,294.61 21.55,294.64 21.80,294.67 22.05,294.69 22.30,294.72 22.55,294.75 22.80,294.77 23.05,294.80 23.30,294.82 23.55,294.85 23.80,294.87 24.05,294.89 24.30,294.91 24.55,294.93 24.80,294.95 25.05,294.96 25.30,294.94 25.55,294.91 25.80,294.88 26.05,294.84 26.30,294.81 26.55,294.77 26.80,294.74 27.05,294.69 27.30,294.65 27.55,294.60 27.80,294.55 28.05,294.50 28.30,294.44 28.55,294.37 28.80,294.30 29.05,294.22 29.30,294.14 29.55,294.04 29.80,293.93 30.05,293.81 30.30,293.67 30.55,293.51 30.80,293.33 31.05,293.12 31.30,292.88 31.55,292.59 31.80,292.25 32.05,291.83 32.30,291.30 32.55,290.66 32.80,289.88 33.05,288.90 33.30,287.67 33.55,286.07 33.80,283.92 34.05,280.90 34.30,276.52 34.36,275.22 34.55,270.56 34.72,266.55 34.80,265.26 34.90,264.62 35.05,265.94 35.08,266.48 35.30,271.68 35.44,275.00 35.55,277.27 35.80,281.23 36.05,283.94 36.30,285.87 36.55,287.28 36.80,288.36 37.05,289.19 37.30,289.84 37.55,290.35 37.80,290.77 38.05,291.10 38.30,291.38 38.55,291.60 38.80,291.78 39.05,291.93 39.30,292.06 39.55,292.16 39.80,292.24 40.05,292.30 40.30,292.36 40.55,292.40 40.80,292.43 41.05,292.45 41.30,292.47 41.55,292.48 41.80,292.49 42.05,292.49 42.30,292.48 42.55,292.48 42.80,292.47 43.05,292.45 43.30,292.44 43.55,292.42 43.80,292.40 44.05,292.38 44.30,292.35 44.55,292.33 44.80,292.30 45.05,292.29 45.30,292.31 45.55,292.32 45.80,292.34 46.05,292.36 46.30,292.38 46.55,292.39 46.80,292.41 47.05,292.42 47.30,292.43 47.55,292.45 47.80,292.46 48.05,292.47 48.30,292.48 48.55,292.49 48.80,292.51 49.05,292.52 49.30,292.53 49.55,292.54 49.80,292.55 50.05,292.56 50.30,292.57 50.55,292.58 50.80,292.59 51.05,292.59 51.30,292.60 51.55,292.61 51.80,292.62 52.05,292.63 52.30,292.64 52.55,292.64 52.80,292.65 53.05,292.66 53.30,292.67 53.55,292.68 53.80,292.68 54.05,292.69 54.30,292.70 54.55,292.71 54.80,292.71 55.05,292.72 55.30,292.73 55.55,292.73 55.80,292.74 56.05,292.75 56.30,292.75 56.55,292.76 56.80,292.77 57.05,292.77 57.30,292.78 57.55,292.79 57.80,292.79 58.05,292.80 58.30,292.81 58.55,292.81 58.80,292.82 59.05,292.82 59.30,292.83 59.55,292.84 59.80,292.84 60.05,292.85 60.30,292.87 60.55,292.88 60.80,292.90 61.05,292.91 61.30,292.93 61.55,292.95 61.80,292.96 62.05,292.98 62.30,292.99 62.55,293.01 62.80,293.03 63.05,293.04 63.30,293.06 63.55,293.07 63.80,293.09 64.05,293.10 64.30,293.12 64.55,293.13 64.80,293.15 65.05,293.17 65.30,293.18 65.55,293.20 65.80,293.21 66.05,293.23 66.30,293.24 66.55,293.26 66.80,293.27 67.05,293.29 67.30,293.31 67.55,293.32 67.80,293.34 68.05,293.35 68.30,293.37 68.55,293.38 68.80,293.40 69.05,293.41 69.30,293.43 69.55,293.44 69.80,293.46 70.05,293.48 70.30,293.49 70.55,293.51 70.80,293.52 71.05,293.54 71.30,293.55 71.55,293.57 71.80,293.58 72.05,293.60 72.30,293.61 72.55,293.63 72.80,293.64 73.05,293.66 73.30,293.67 73.55,293.69 73.80,293.71 74.05,293.72 74.30,293.74 74.55,293.75 74.80,293.77 75.05,293.78 75.30,293.80 75.55,293.81 75.80,293.83 76.05,293.84 76.30,293.86 76.55,293.87 76.80,293.89 77.05,293.90 77.30,293.92 77.55,293.93 77.80,293.95 78.05,293.96 78.30,293.98 78.55,293.99 78.80,294.01 79.05,294.03 79.30,294.04 79.55,294.06 79.80,294.07 80.05,294.09 80.30,294.11 80.55,294.14 80.80,294.16 81.05,294.18 81.30,294.21 81.55,294.23 81.80,294.25 82.05,294.28 82.30,294.30 82.55,294.33 82.80,294.35 83.05,294.37 83.30,294.40 83.55,294.42 83.80,294.45 84.05,294.47 84.30,294.49 84.55,294.52 84.80,294.54 85.05,294.57 85.30,294.59 85.55,294.61 85.80,294.64 86.05,294.66 86.30,294.68 86.55,294.71 86.80,294.73 87.05,294.76 87.30,294.78 87.55,294.80 87.80,294.83 88.05,294.85 88.30,294.88 88.55,294.90 88.80,294.92 89.05,294.95 89.30,294.97 89.55,294.99 89.80,295.02 90.05,295.04 90.30,295.07 90.55,295.09 90.80,295.11 91.05,295.14 91.30,295.16 91.55,295.18 91.80,295.21 92.05,295.23 92.30,295.26 92.55,295.28 92.80,295.30 93.05,295.33 93.30,295.35 93.55,295.38 93.80,295.40 94.05,295.42 94.30,295.45 94.55,295.47 94.80,295.49 95.05,295.52 95.30,295.54 95.55,295.57 95.80,295.59 96.05,295.61 96.30,295.64 96.55,295.66 96.80,295.68 97.05,295.71 97.30,295.73 97.55,295.76 97.80,295.78 98.05,295.80 98.30,295.83 98.55,295.85 98.80,295.87 99.05,295.90 99.30,295.92 99.55,295.94 99.80,295.97 100.05,295.99 100.30,296.02 100.55,296.05 100.80,296.08 101.05,296.11 101.30,296.14 101.55,296.17 101.80,296.20 102.05,296.23 102.30,296.26 102.55,296.28 102.80,296.31 103.05,296.34 103.30,296.37 103.55,296.40 103.80,296.43 104.05,296.46 104.30,296.49 104.55,296.52 104.80,296.54 105.05,296.57 105.30,296.60 105.55,296.63 105.80,296.66 106.05,296.69 106.30,296.72 106.55,296.75 106.80,296.78 107.05,296.80 107.30,296.83 107.55,296.86 107.80,296.89 108.05,296.92 108.30,296.95 108.55,296.97 108.80,297.00 109.05,297.03 109.30,297.06 109.55,297.09 109.80,297.12 110.05,297.14 110.30,297.17 110.55,297.20 110.80,297.23 111.05,297.25 111.30,297.28 111.55,297.31 111.80,297.33 112.05,297.36 112.30,297.41 112.55,297.45 112.80,297.49 113.05,297.53 113.30,297.58 113.55,297.62 113.80,297.65 114.05,297.69 114.30,297.73 114.55,297.76 114.80,297.79 115.05,297.81 115.30,297.83 115.55,297.84 115.80,297.84 116.05,297.82 116.30,297.78 116.55,297.71 116.80,297.59 117.05,297.40 117.30,297.16 117.55,296.89 117.63,296.81 117.80,296.72 117.90,296.72 118.05,296.79 118.17,296.92 118.30,297.09 118.55,297.46 118.80,297.79 119.05,298.05 119.30,298.26 119.55,298.42 119.80,298.55 120.05,298.66 120.30,298.75 120.55,298.83 120.80,298.91 121.05,298.98 121.30,299.04 121.55,299.11 121.80,299.17 122.05,299.22 122.30,299.23 122.55,299.24 122.80,299.25 123.05,299.26 123.30,299.27 123.55,299.28 123.80,299.29 124.05,299.30 124.30,299.31 124.55,299.32 124.80,299.32 125.05,299.33 125.30,299.34 125.55,299.35 125.80,299.35 126.05,299.36 126.30,299.36 126.55,299.37 126.80,299.38 127.05,299.38 127.30,299.39 127.55,299.40 127.80,299.40 128.05,299.41 128.30,299.41 128.55,299.42 128.80,299.43 129.05,299.43 129.30,299.44 129.55,299.44 129.80,299.45 130.05,299.45 130.30,299.46 130.55,299.46 130.80,299.47 131.05,299.48 131.30,299.48 131.55,299.49 131.80,299.49 132.05,299.50 132.30,299.50 132.55,299.51 132.80,299.51 133.05,299.52 133.30,299.52 133.55,299.53 133.80,299.54 134.05,299.54 134.30,299.55 134.55,299.55 134.80,299.56 135.05,299.56 135.30,299.57 135.55,299.57 135.80,299.58 136.05,299.58 136.30,299.59 136.55,299.59 136.80,299.60 137.05,299.60 137.30,299.61 137.55,299.62 137.80,299.62 138.05,299.63 138.30,299.63 138.55,299.64 138.80,299.64 139.05,299.65 139.30,299.65 139.55,299.66 139.80,299.66 140.05,299.67 140.30,299.67 140.55,299.68 140.80,299.68 141.05,299.69 141.30,299.69 141.55,299.70 141.80,299.71 142.05,299.71 142.30,299.72 142.55,299.72 142.80,299.73 143.05,299.73 143.30,299.74 143.55,299.74 143.80,299.75 144.05,299.75 144.30,299.76 144.55,299.76 144.80,299.77 145.05,299.77 145.30,299.78 145.55,299.78 145.80,299.79 146.05,299.79 146.30,299.80 146.55,299.80 146.80,299.81 147.05,299.82 147.30,299.82 147.55,299.83 147.80,299.83 148.05,299.84 148.30,299.84 148.55,299.85 148.80,299.85 149.05,299.86 149.30,299.86 149.55,299.87 149.80,299.87 150.05,299.88 150.30,299.88 150.55,299.89 150.80,299.89 151.05,299.90 151.30,299.90 151.55,299.91 151.80,299.91 152.05,299.92 152.30,299.92 152.55,299.93 152.80,299.94 153.05,299.94 153.30,299.95 153.55,299.95 153.80,299.96 154.05,299.96 154.30,299.97 154.55,299.97 154.80,299.98 155.05,299.98 155.30,299.99 155.55,299.99 155.80,300.00 156.05,300.00 156.30,300.01 156.55,300.01 156.80,300.02 157.05,300.02 157.30,300.03 157.55,300.03 157.80,300.04 158.05,300.04 158.30,300.05 158.55,300.05 158.80,300.06 159.05,300.07 159.30,300.07 159.55,300.08 159.80,300.08 160.05,300.09 160.30,300.09 160.55,300.10 160.80,300.10 161.05,300.11 161.30,300.11 161.55,300.12 161.80,300.12 162.05,300.13 162.30,300.13 162.55,300.14 162.80,300.14 163.05,300.15 163.30,300.15 163.55,300.16 163.80,300.16 164.05,300.17 164.30,300.17 164.55,300.18 164.80,300.18"/>
<polyline fill="none" stroke="#98acc4" stroke-width="1.10" stroke-linejoin="round" opacity="1" points="19.30,338.10 19.55,338.10 19.80,338.10 20.05,338.10 20.30,338.10 20.55,338.10 20.80,338.10 21.05,338.10 21.30,338.10 21.55,338.10 21.80,338.10 22.05,338.10 22.30,338.10 22.55,338.10 22.80,338.10 23.05,338.10 23.30,338.10 23.55,338.10 23.80,338.10 24.05,338.10 24.30,338.10 24.55,338.10 24.80,338.10 25.05,338.10 25.30,338.10 25.55,338.10 25.80,338.10 26.05,338.10 26.30,338.10 26.55,338.10 26.80,338.10 27.05,338.10 27.30,338.10 27.55,338.10 27.80,338.10 28.05,338.10 28.30,338.10 28.55,338.10 28.80,338.10 29.05,338.10 29.30,338.10 29.55,338.10 29.80,338.10 30.05,338.10 30.30,338.10 30.55,338.10 30.80,338.10 31.05,338.10 31.30,338.10 31.55,338.10 31.80,338.10 32.05,338.10 32.30,338.10 32.55,338.10 32.80,338.10 33.05,338.10 33.30,338.10 33.55,338.10 33.80,338.10 34.05,338.10 34.30,338.10 34.55,338.10 34.80,338.10 35.05,338.10 35.30,338.10 35.55,338.10 35.80,338.10 36.05,338.10 36.30,338.10 36.55,338.10 36.80,338.10 37.05,338.10 37.30,338.10 37.55,338.10 37.80,338.10 38.05,338.10 38.30,338.10 38.55,338.10 38.80,338.10 39.05,338.10 39.30,338.10 39.55,338.10 39.80,338.10 40.05,338.10 40.30,338.10 40.55,338.10 40.80,338.10 41.05,338.10 41.30,338.10 41.55,338.10 41.80,338.10 42.05,338.10 42.30,338.10 42.55,338.10 42.80,338.10 43.05,338.10 43.30,338.10 43.55,338.10 43.80,338.10 44.05,338.10 44.30,338.10 44.55,338.10 44.80,338.10 45.05,338.09 45.30,338.09 45.55,338.09 45.80,338.09 46.05,338.09 46.30,338.09 46.55,338.09 46.80,338.09 47.05,338.09 47.30,338.09 47.55,338.09 47.80,338.09 48.05,338.09 48.30,338.09 48.55,338.09 48.80,338.09 49.05,338.09 49.30,338.09 49.55,338.09 49.80,338.09 50.05,338.09 50.30,338.09 50.55,338.09 50.80,338.09 51.05,338.09 51.30,338.09 51.55,338.09 51.80,338.09 52.05,338.09 52.30,338.09 52.55,338.09 52.80,338.09 53.05,338.09 53.30,338.09 53.55,338.09 53.80,338.09 54.05,338.09 54.30,338.09 54.55,338.09 54.80,338.09 55.05,338.09 55.30,338.09 55.55,338.09 55.80,338.09 56.05,338.09 56.30,338.09 56.55,338.09 56.80,338.09 57.05,338.09 57.30,338.09 57.55,338.09 57.80,338.09 58.05,338.08 58.30,338.08 58.55,338.08 58.80,338.08 59.05,338.08 59.30,338.08 59.55,338.08 59.80,338.08 60.05,338.08 60.30,338.08 60.55,338.08 60.80,338.08 61.05,338.08 61.30,338.08 61.55,338.08 61.80,338.08 62.05,338.07 62.30,338.07 62.55,338.07 62.80,338.07 63.05,338.07 63.30,338.07 63.55,338.07 63.80,338.07 64.05,338.06 64.30,338.06 64.55,338.06 64.80,338.06 65.05,338.06 65.30,338.06 65.55,338.05 65.80,338.05 66.05,338.05 66.30,338.05 66.55,338.04 66.80,338.04 67.05,338.04 67.30,338.03 67.55,338.03 67.80,338.02 68.05,338.02 68.30,338.01 68.55,338.01 68.80,338.00 69.05,337.99 69.30,337.98 69.55,337.97 69.80,337.96 70.05,337.95 70.30,337.94 70.55,337.92 70.80,337.90 71.05,337.88 71.30,337.85 71.55,337.83 71.80,337.79 72.05,337.75 72.30,337.69 72.55,337.63 72.80,337.55 73.05,337.44 73.30,337.30 73.55,337.12 73.80,336.87 74.05,336.50 74.30,335.95 74.55,335.03 74.80,333.35 75.05,329.72 75.21,324.78 75.30,320.20 75.52,303.79 75.55,301.92 75.60,300.80 75.68,303.79 75.80,313.06 75.99,324.78 76.05,327.01 76.30,332.25 76.55,334.49 76.80,335.64 77.05,336.31 77.30,336.74 77.55,337.03 77.80,337.24 78.05,337.39 78.30,337.51 78.55,337.60 78.80,337.67 79.05,337.73 79.30,337.77 79.55,337.81 79.80,337.84 80.05,337.87 80.30,337.89 80.55,337.91 80.80,337.93 81.05,337.95 81.30,337.96 81.55,337.97 81.80,337.98 82.05,337.99 82.30,338.00 82.55,338.00 82.80,338.01 83.05,338.02 83.30,338.02 83.55,338.03 83.80,338.03 84.05,338.03 84.30,338.04 84.55,338.04 84.80,338.04 85.05,338.05 85.30,338.05 85.55,338.05 85.80,338.06 86.05,338.06 86.30,338.06 86.55,338.06 86.80,338.06 87.05,338.06 87.30,338.07 87.55,338.07 87.80,338.07 88.05,338.07 88.30,338.07 88.55,338.07 88.80,338.07 89.05,338.07 89.30,338.07 89.55,338.08 89.80,338.08 90.05,338.08 90.30,338.08 90.55,338.08 90.80,338.08 91.05,338.08 91.30,338.08 91.55,338.08 91.80,338.08 92.05,338.08 92.30,338.08 92.55,338.08 92.80,338.08 93.05,338.08 93.30,338.08 93.55,338.09 93.80,338.09 94.05,338.09 94.30,338.09 94.55,338.09 94.80,338.09 95.05,338.09 95.30,338.09 95.55,338.09 95.80,338.09 96.05,338.09 96.30,338.09 96.55,338.09 96.80,338.09 97.05,338.09 97.30,338.09 97.55,338.09 97.80,338.09 98.05,338.09 98.30,338.09 98.55,338.09 98.80,338.09 99.05,338.09 99.30,338.09 99.55,338.09 99.80,338.09 100.05,338.09 100.30,338.09 100.55,338.09 100.80,338.09 101.05,338.09 101.30,338.09 101.55,338.09 101.80,338.09 102.05,338.09 102.30,338.09 102.55,338.09 102.80,338.09 103.05,338.09 103.30,338.09 103.55,338.09 103.80,338.09 104.05,338.09 104.30,338.09 104.55,338.09 104.80,338.09 105.05,338.09 105.30,338.09 105.55,338.09 105.80,338.09 106.05,338.09 106.30,338.09 106.55,338.09 106.80,338.10 107.05,338.10 107.30,338.10 107.55,338.10 107.80,338.10 108.05,338.10 108.30,338.10 108.55,338.10 108.80,338.10 109.05,338.10 109.30,338.10 109.55,338.10 109.80,338.10 110.05,338.10 110.30,338.10 110.55,338.10 110.80,338.10 111.05,338.10 111.30,338.10 111.55,338.10 111.80,338.10 112.05,338.10 112.30,338.10 112.55,338.10 112.80,338.10 113.05,338.10 113.30,338.10 113.55,338.10 113.80,338.10 114.05,338.10 114.30,338.10 114.55,338.10 114.80,338.10 115.05,338.10 115.30,338.10 115.55,338.10 115.80,338.10 116.05,338.10 116.30,338.10 116.55,338.10 116.80,338.10 117.05,338.10 117.30,338.10 117.55,338.10 117.80,338.10 118.05,338.10 118.30,338.10 118.55,338.10 118.80,338.10 119.05,338.10 119.30,338.10 119.55,338.10 119.80,338.10 120.05,338.10 120.30,338.10 120.55,338.10 120.80,338.10 121.05,338.10 121.30,338.10 121.55,338.10 121.80,338.10 122.05,338.10 122.30,338.10 122.55,338.10 122.80,338.10 123.05,338.10 123.30,338.10 123.55,338.10 123.80,338.10 124.05,338.10 124.30,338.10 124.55,338.10 124.80,338.10 125.05,338.10 125.30,338.10 125.55,338.10 125.80,338.10 126.05,338.10 126.30,338.10 126.55,338.10 126.80,338.10 127.05,338.10 127.30,338.10 127.55,338.10 127.80,338.10 128.05,338.10 128.30,338.10 128.55,338.10 128.80,338.10 129.05,338.10 129.30,338.10 129.55,338.10 129.80,338.10 130.05,338.10 130.30,338.10 130.55,338.10 130.80,338.10 131.05,338.10 131.30,338.10 131.55,338.10 131.80,338.10 132.05,338.10 132.30,338.10 132.55,338.10 132.80,338.10 133.05,338.10 133.30,338.10 133.55,338.10 133.80,338.10 134.05,338.10 134.30,338.10 134.55,338.10 134.80,338.10 135.05,338.10 135.30,338.10 135.55,338.10 135.80,338.10 136.05,338.10 136.30,338.10 136.55,338.10 136.80,338.10 137.05,338.10 137.30,338.10 137.55,338.10 137.80,338.10 138.05,338.10 138.30,338.10 138.55,338.10 138.80,338.10 139.05,338.10 139.30,338.10 139.55,338.10 139.80,338.10 140.05,338.10 140.30,338.10 140.55,338.10 140.80,338.10 141.05,338.10 141.30,338.10 141.55,338.10 141.80,338.10 142.05,338.10 142.30,338.09 142.55,338.09 142.80,338.09 143.05,338.09 143.30,338.09 143.55,338.09 143.80,338.09 144.05,338.09 144.30,338.09 144.55,338.09 144.80,338.09 145.05,338.09 145.30,338.09 145.55,338.09 145.80,338.09 146.05,338.09 146.30,338.09 146.55,338.08 146.80,338.08 147.05,338.08 147.30,338.08 147.55,338.07 147.80,338.07 148.05,338.06 148.30,338.06 148.55,338.05 148.80,338.03 149.05,338.01 149.30,337.99 149.55,337.95 149.80,337.89 150.05,337.79 150.30,337.63 150.55,337.42 150.62,337.37 150.80,337.30 150.98,337.37 151.05,337.42 151.30,337.63 151.55,337.79 151.80,337.89 152.05,337.95 152.30,337.99 152.55,338.02 152.80,338.03 153.05,338.05 153.30,338.06 153.55,338.06 153.80,338.07 154.05,338.07 154.30,338.08 154.55,338.08 154.80,338.08 155.05,338.08 155.30,338.09 155.55,338.09 155.80,338.09 156.05,338.09 156.30,338.09 156.55,338.09 156.80,338.09 157.05,338.09 157.30,338.09 157.55,338.09 157.80,338.09 158.05,338.09 158.30,338.09 158.55,338.09 158.80,338.09 159.05,338.10 159.30,338.10 159.55,338.10 159.80,338.10 160.05,338.10 160.30,338.10 160.55,338.10 160.80,338.10 161.05,338.10 161.30,338.10 161.55,338.10 161.80,338.10 162.05,338.10 162.30,338.10 162.55,338.10 162.80,338.10 163.05,338.10 163.30,338.10 163.55,338.10 163.80,338.10 164.05,338.10 164.30,338.10 164.55,338.10 164.80,338.10"/>
<rect x="185.40" y="188.10" width="146.20" height="154.30" fill="none" stroke="#4f6169" stroke-width="1.05"/>
<line x1="198.69" y1="188.10" x2="198.69" y2="191.10" stroke="#4f6169" stroke-width="1"/>
<line x1="198.69" y1="342.40" x2="198.69" y2="345.40" stroke="#4f6169" stroke-width="1"/>
<line x1="211.98" y1="188.10" x2="211.98" y2="189.40" stroke="#4f6169" stroke-width="1"/>
<line x1="211.98" y1="342.40" x2="211.98" y2="343.70" stroke="#4f6169" stroke-width="1"/>
<line x1="225.27" y1="188.10" x2="225.27" y2="191.10" stroke="#4f6169" stroke-width="1"/>
<line x1="225.27" y1="342.40" x2="225.27" y2="345.40" stroke="#4f6169" stroke-width="1"/>
<line x1="238.56" y1="188.10" x2="238.56" y2="189.40" stroke="#4f6169" stroke-width="1"/>
<line x1="238.56" y1="342.40" x2="238.56" y2="343.70" stroke="#4f6169" stroke-width="1"/>
<line x1="251.85" y1="188.10" x2="251.85" y2="191.10" stroke="#4f6169" stroke-width="1"/>
<line x1="251.85" y1="342.40" x2="251.85" y2="345.40" stroke="#4f6169" stroke-width="1"/>
<line x1="265.15" y1="188.10" x2="265.15" y2="189.40" stroke="#4f6169" stroke-width="1"/>
<line x1="265.15" y1="342.40" x2="265.15" y2="343.70" stroke="#4f6169" stroke-width="1"/>
<line x1="278.44" y1="188.10" x2="278.44" y2="191.10" stroke="#4f6169" stroke-width="1"/>
<line x1="278.44" y1="342.40" x2="278.44" y2="345.40" stroke="#4f6169" stroke-width="1"/>
<line x1="291.73" y1="188.10" x2="291.73" y2="189.40" stroke="#4f6169" stroke-width="1"/>
<line x1="291.73" y1="342.40" x2="291.73" y2="343.70" stroke="#4f6169" stroke-width="1"/>
<line x1="305.02" y1="188.10" x2="305.02" y2="191.10" stroke="#4f6169" stroke-width="1"/>
<line x1="305.02" y1="342.40" x2="305.02" y2="345.40" stroke="#4f6169" stroke-width="1"/>
<line x1="318.31" y1="188.10" x2="318.31" y2="189.40" stroke="#4f6169" stroke-width="1"/>
<line x1="318.31" y1="342.40" x2="318.31" y2="343.70" stroke="#4f6169" stroke-width="1"/>
<line x1="331.60" y1="188.10" x2="331.60" y2="191.10" stroke="#4f6169" stroke-width="1"/>
<line x1="331.60" y1="342.40" x2="331.60" y2="345.40" stroke="#4f6169" stroke-width="1"/>
<text transform="translate(198.69,352.70) rotate(0.05)" font-size="6.80" fill="#2c363c" stroke="#2c363c" stroke-width="0.15" stroke-linejoin="round" text-anchor="middle">10</text>
<text transform="translate(225.27,352.70) rotate(0.05)" font-size="6.80" fill="#2c363c" stroke="#2c363c" stroke-width="0.15" stroke-linejoin="round" text-anchor="middle">20</text>
<text transform="translate(251.85,352.70) rotate(0.05)" font-size="6.80" fill="#2c363c" stroke="#2c363c" stroke-width="0.15" stroke-linejoin="round" text-anchor="middle">30</text>
<text transform="translate(278.44,352.70) rotate(0.05)" font-size="6.80" fill="#2c363c" stroke="#2c363c" stroke-width="0.15" stroke-linejoin="round" text-anchor="middle">40</text>
<text transform="translate(305.02,352.70) rotate(0.05)" font-size="6.80" fill="#2c363c" stroke="#2c363c" stroke-width="0.15" stroke-linejoin="round" text-anchor="middle">50</text>
<text transform="translate(331.60,352.70) rotate(0.05)" font-size="6.80" fill="#2c363c" stroke="#2c363c" stroke-width="0.15" stroke-linejoin="round" text-anchor="middle">60</text>
<text transform="translate(258.50,364.70) rotate(0.05)" font-size="7.90" fill="#222" stroke="#222" stroke-width="0.12" stroke-linejoin="round" text-anchor="middle">2 Theta (deg)</text>
<text transform="translate(178.60,265.65) rotate(-89.95)" font-size="7.60" fill="#222" stroke="#222" stroke-width="0.12" stroke-linejoin="round" text-anchor="middle">Intensity (a.u.)</text>
<polyline fill="none" stroke="#50ee50" stroke-width="1.10" stroke-linejoin="round" opacity="1" points="186.20,221.92 186.45,221.94 186.70,221.97 186.95,221.99 187.20,222.02 187.45,222.04 187.70,222.06 187.95,222.08 188.20,222.10 188.45,222.12 188.70,222.14 188.95,222.16 189.20,222.18 189.45,222.19 189.70,222.21 189.95,222.22 190.20,222.20 190.45,222.16 190.70,222.13 190.95,222.09 191.20,222.05 191.45,222.01 191.70,221.97 191.95,221.92 192.20,221.87 192.45,221.82 192.70,221.77 192.95,221.71 193.20,221.64 193.45,221.58 193.70,221.50 193.95,221.43 194.20,221.34 194.45,221.25 194.70,221.15 194.95,221.04 195.20,220.93 195.45,220.80 195.70,220.66 195.95,220.51 196.20,220.34 196.45,220.15 196.70,219.94 196.95,219.71 197.20,219.45 197.45,219.16 197.70,218.83 197.95,218.47 198.20,218.05 198.45,217.57 198.70,217.02 198.95,216.39 199.20,215.66 199.45,214.81 199.70,213.83 199.95,212.68 200.20,211.35 200.45,209.79 200.70,207.98 200.95,205.91 201.20,203.58 201.45,201.04 201.70,198.39 201.95,195.84 202.13,194.22 202.20,193.66 202.45,192.18 202.70,191.65 202.95,192.17 203.20,193.64 203.27,194.19 203.45,195.81 203.70,198.35 203.95,200.99 204.20,203.52 204.45,205.84 204.70,207.90 204.95,209.70 205.20,211.25 205.45,212.57 205.70,213.71 205.95,214.68 206.20,215.52 206.45,216.24 206.70,216.86 206.95,217.40 207.20,217.87 207.45,218.28 207.70,218.63 207.95,218.95 208.20,219.23 208.45,219.48 208.70,219.70 208.95,219.90 209.20,220.08 209.45,220.24 209.70,220.38 209.95,220.51 210.20,220.63 210.45,220.73 210.70,220.83 210.95,220.92 211.20,221.00 211.45,221.08 211.70,221.14 211.95,221.21 212.20,221.26 212.45,221.32 212.70,221.37 212.95,221.41 213.20,221.45 213.45,221.49 213.70,221.53 213.95,221.56 214.20,221.59 214.45,221.62 214.70,221.65 214.95,221.67 215.20,221.70 215.45,221.73 215.70,221.76 215.95,221.78 216.20,221.81 216.45,221.83 216.70,221.85 216.95,221.87 217.20,221.89 217.45,221.91 217.70,221.93 217.95,221.95 218.20,221.97 218.45,221.98 218.70,222.00 218.95,222.01 219.20,222.03 219.45,222.04 219.70,222.06 219.95,222.07 220.20,222.08 220.45,222.09 220.70,222.10 220.95,222.12 221.20,222.13 221.45,222.14 221.70,222.15 221.95,222.16 222.20,222.17 222.45,222.18 222.70,222.18 222.95,222.19 223.20,222.20 223.45,222.21 223.70,222.22 223.95,222.23 224.20,222.23 224.45,222.24 224.70,222.25 224.95,222.26 225.20,222.26 225.45,222.27 225.70,222.28 225.95,222.28 226.20,222.29 226.45,222.29 226.70,222.30 226.95,222.31 227.20,222.31 227.45,222.32 227.70,222.32 227.95,222.33 228.20,222.33 228.45,222.34 228.70,222.34 228.95,222.35 229.20,222.36 229.45,222.36 229.70,222.36 229.95,222.37 230.20,222.37 230.45,222.38 230.70,222.38 230.95,222.39 231.20,222.39 231.45,222.40 231.70,222.40 231.95,222.41 232.20,222.41 232.45,222.41 232.70,222.42 232.95,222.42 233.20,222.43 233.45,222.43 233.70,222.43 233.95,222.44 234.20,222.44 234.45,222.44 234.70,222.45 234.95,222.45 235.20,222.46 235.45,222.46 235.70,222.46 235.95,222.47 236.20,222.47 236.45,222.47 236.70,222.48 236.95,222.48 237.20,222.48 237.45,222.49 237.70,222.49 237.95,222.49 238.20,222.50 238.45,222.50 238.70,222.50 238.95,222.51 239.20,222.51 239.45,222.51 239.70,222.52 239.95,222.52 240.20,222.53 240.45,222.54 240.70,222.55 240.95,222.56 241.20,222.58 241.45,222.59 241.70,222.60 241.95,222.61 242.20,222.62 242.45,222.63 242.70,222.64 242.95,222.66 243.20,222.67 243.45,222.68 243.70,222.69 243.95,222.70 244.20,222.71 244.45,222.72 244.70,222.74 244.95,222.75 245.20,222.76 245.45,222.77 245.70,222.78 245.95,222.79 246.20,222.80 246.45,222.81 246.70,222.83 246.95,222.84 247.20,222.85 247.45,222.86 247.70,222.87 247.95,222.88 248.20,222.89 248.45,222.90 248.70,222.91 248.95,222.93 249.20,222.94 249.45,222.95 249.70,222.96 249.95,222.97 250.20,222.98 250.45,222.99 250.70,223.00 250.95,223.01 251.20,223.03 251.45,223.04 251.70,223.05 251.95,223.06 252.20,223.07 252.45,223.08 252.70,223.09 252.95,223.10 253.20,223.11 253.45,223.12 253.70,223.14 253.95,223.15 254.20,223.16 254.45,223.17 254.70,223.18 254.95,223.19 255.20,223.20 255.45,223.21 255.70,223.22 255.95,223.23 256.20,223.24 256.45,223.26 256.70,223.27 256.95,223.28 257.20,223.29 257.45,223.30 257.70,223.31 257.95,223.32 258.20,223.33 258.45,223.34 258.70,223.35 258.95,223.36 259.20,223.38 259.45,223.39 259.70,223.40 259.95,223.41 260.20,223.42 260.45,223.43 260.70,223.44 260.95,223.45 261.20,223.46 261.45,223.47 261.70,223.48 261.95,223.49 262.20,223.51 262.45,223.52 262.70,223.53 262.95,223.54 263.20,223.55 263.45,223.56 263.70,223.57 263.95,223.58 264.20,223.59 264.45,223.60 264.70,223.61 264.95,223.62 265.20,223.64 265.45,223.65 265.70,223.66 265.95,223.67 266.20,223.68 266.45,223.69 266.70,223.70 266.95,223.71 267.20,223.72 267.45,223.73 267.70,223.74 267.95,223.75 268.20,223.76 268.45,223.78 268.70,223.79 268.95,223.80 269.20,223.81 269.45,223.82 269.70,223.83 269.95,223.84 270.20,223.85 270.45,223.86 270.70,223.87 270.95,223.88 271.20,223.89 271.45,223.90 271.70,223.91 271.95,223.93 272.20,223.94 272.45,223.95 272.70,223.96 272.95,223.97 273.20,223.98 273.45,223.99 273.70,224.00 273.95,224.01 274.20,224.02 274.45,224.03 274.70,224.04 274.95,224.05 275.20,224.06 275.45,224.08 275.70,224.09 275.95,224.10 276.20,224.11 276.45,224.12 276.70,224.13 276.95,224.14 277.20,224.15 277.45,224.16 277.70,224.17 277.95,224.18 278.20,224.19 278.45,224.20 278.70,224.21 278.95,224.23 279.20,224.24 279.45,224.25 279.70,224.26 279.95,224.27 280.20,224.28 280.45,224.29 280.70,224.30 280.95,224.31 281.20,224.32 281.45,224.33 281.70,224.34 281.95,224.35 282.20,224.36 282.45,224.37 282.70,224.39 282.95,224.40 283.20,224.41 283.45,224.42 283.70,224.43 283.95,224.44 284.20,224.45 284.45,224.46 284.70,224.47 284.95,224.48 285.20,224.50 285.45,224.51 285.70,224.53 285.95,224.54 286.20,224.56 286.45,224.57 286.70,224.59 286.95,224.60 287.20,224.62 287.45,224.63 287.70,224.65 287.95,224.66 288.20,224.68 288.45,224.69 288.70,224.71 288.95,224.72 289.20,224.74 289.45,224.75 289.70,224.77 289.95,224.78 290.20,224.80 290.45,224.81 290.70,224.83 290.95,224.84 291.20,224.86 291.45,224.87 291.70,224.89 291.95,224.90 292.20,224.92 292.45,224.93 292.70,224.95 292.95,224.96 293.20,224.98 293.45,224.99 293.70,225.01 293.95,225.02 294.20,225.04 294.45,225.05 294.70,225.07 294.95,225.08 295.20,225.10 295.45,225.11 295.70,225.13 295.95,225.15 296.20,225.16 296.45,225.18 296.70,225.19 296.95,225.21 297.20,225.22 297.45,225.24 297.70,225.25 297.95,225.27 298.20,225.28 298.45,225.30 298.70,225.31 298.95,225.33 299.20,225.34 299.45,225.36 299.70,225.37 299.95,225.39 300.20,225.40 300.45,225.42 300.70,225.43 300.95,225.45 301.20,225.46 301.45,225.48 301.70,225.49 301.95,225.51 302.20,225.52 302.45,225.54 302.70,225.55 302.95,225.57 303.20,225.58 303.45,225.60 303.70,225.61 303.95,225.63 304.20,225.64 304.45,225.66 304.70,225.67 304.95,225.69 305.20,225.70 305.45,225.72 305.70,225.73 305.95,225.75 306.20,225.76 306.45,225.78 306.70,225.79 306.95,225.81 307.20,225.82 307.45,225.84 307.70,225.85 307.95,225.87 308.20,225.88 308.45,225.90 308.70,225.91 308.95,225.93 309.20,225.94 309.45,225.96 309.70,225.97 309.95,225.99 310.20,226.00 310.45,226.02 310.70,226.03 310.95,226.05 311.20,226.06 311.45,226.08 311.70,226.09 311.95,226.11 312.20,226.13 312.45,226.14 312.70,226.16 312.95,226.17 313.20,226.19 313.45,226.20 313.70,226.22 313.95,226.23 314.20,226.25 314.45,226.26 314.70,226.28 314.95,226.29 315.20,226.31 315.45,226.32 315.70,226.34 315.95,226.35 316.20,226.37 316.45,226.38 316.70,226.40 316.95,226.41 317.20,226.43 317.45,226.44 317.70,226.46 317.95,226.47 318.20,226.49 318.45,226.50 318.70,226.52 318.95,226.53 319.20,226.55 319.45,226.56 319.70,226.58 319.95,226.59 320.20,226.61 320.45,226.62 320.70,226.64 320.95,226.65 321.20,226.67 321.45,226.68 321.70,226.70 321.95,226.71 322.20,226.73 322.45,226.74 322.70,226.76 322.95,226.77 323.20,226.79 323.45,226.80 323.70,226.82 323.95,226.83 324.20,226.85 324.45,226.86 324.70,226.88 324.95,226.89 325.20,226.91 325.45,226.92 325.70,226.94 325.95,226.95 326.20,226.97 326.45,226.98 326.70,227.00 326.95,227.01 327.20,227.03 327.45,227.04 327.70,227.06 327.95,227.07 328.20,227.09 328.45,227.10 328.70,227.12 328.95,227.13 329.20,227.15 329.45,227.16 329.70,227.18 329.95,227.19 330.20,227.21 330.45,227.22 330.70,227.24 330.95,227.25"/>
<polyline fill="none" stroke="#559af8" stroke-width="1.00" stroke-linejoin="round" opacity="1" points="186.20,262.60 186.45,262.60 186.70,262.59 186.95,262.58 187.20,262.58 187.45,262.57 187.70,262.56 187.95,262.55 188.20,262.54 188.45,262.53 188.70,262.52 188.95,262.50 189.20,262.49 189.45,262.47 189.70,262.46 189.95,262.44 190.20,262.42 190.45,262.40 190.70,262.37 190.95,262.34 191.20,262.31 191.45,262.28 191.70,262.25 191.95,262.21 192.20,262.16 192.45,262.11 192.70,262.05 192.95,261.99 193.20,261.92 193.45,261.84 193.70,261.75 193.95,261.64 194.20,261.52 194.45,261.39 194.70,261.22 194.95,261.03 195.20,260.81 195.45,260.53 195.70,260.21 195.95,259.80 196.20,259.30 196.45,258.65 196.70,257.81 196.95,256.69 197.20,255.14 197.45,252.94 197.70,249.74 197.80,248.08 197.95,245.09 198.20,238.74 198.45,231.90 198.47,231.33 198.70,228.61 198.93,231.33 198.95,231.90 199.20,238.75 199.45,245.10 199.60,248.10 199.70,249.76 199.95,252.96 200.20,255.16 200.45,256.72 200.70,257.84 200.95,258.69 201.20,259.34 201.45,259.85 201.70,260.26 201.95,260.59 202.20,260.86 202.45,261.09 202.70,261.29 202.95,261.46 203.20,261.60 203.45,261.72 203.70,261.83 203.95,261.93 204.20,262.01 204.45,262.09 204.70,262.15 204.95,262.21 205.20,262.27 205.45,262.32 205.70,262.36 205.95,262.40 206.20,262.44 206.45,262.47 206.70,262.50 206.95,262.53 207.20,262.56 207.45,262.58 207.70,262.60 207.95,262.62 208.20,262.64 208.45,262.66 208.70,262.68 208.95,262.69 209.20,262.71 209.45,262.72 209.70,262.74 209.95,262.75 210.20,262.76 210.45,262.77 210.70,262.78 210.95,262.79 211.20,262.80 211.45,262.81 211.70,262.82 211.95,262.83 212.20,262.83 212.45,262.84 212.70,262.85 212.95,262.85 213.20,262.86 213.45,262.86 213.70,262.87 213.95,262.87 214.20,262.88 214.45,262.88 214.70,262.89 214.95,262.89 215.20,262.89 215.45,262.89 215.70,262.90 215.95,262.90 216.20,262.90 216.45,262.90 216.70,262.90 216.95,262.90 217.20,262.90 217.45,262.90 217.70,262.90 217.95,262.90 218.20,262.90 218.45,262.89 218.70,262.89 218.95,262.89 219.20,262.88 219.45,262.87 219.70,262.87 219.95,262.86 220.20,262.85 220.45,262.84 220.70,262.82 220.95,262.81 221.20,262.79 221.45,262.77 221.70,262.75 221.95,262.72 222.20,262.70 222.45,262.67 222.70,262.64 222.95,262.61 223.20,262.57 223.45,262.54 223.70,262.50 223.95,262.47 224.10,262.46 224.20,262.45 224.45,262.43 224.70,262.41 224.95,262.41 225.00,262.41 225.20,262.41 225.45,262.43 225.70,262.45 225.90,262.48 225.95,262.48 226.20,262.52 226.45,262.56 226.70,262.60 226.95,262.64 227.20,262.68 227.45,262.72 227.70,262.75 227.95,262.79 228.20,262.82 228.45,262.85 228.70,262.88 228.95,262.90 229.20,262.92 229.45,262.94 229.70,262.96 229.95,262.98 230.20,263.00 230.45,263.01 230.70,263.03 230.95,263.04 231.20,263.05 231.45,263.07 231.70,263.08 231.95,263.09 232.20,263.10 232.45,263.11 232.70,263.12 232.95,263.13 233.20,263.14 233.45,263.15 233.70,263.15 233.95,263.16 234.20,263.17 234.45,263.18 234.70,263.18 234.95,263.19 235.20,263.20 235.45,263.20 235.70,263.21 235.95,263.22 236.20,263.22 236.45,263.23 236.70,263.23 236.95,263.24 237.20,263.24 237.45,263.25 237.70,263.26 237.95,263.26 238.20,263.27 238.45,263.27 238.70,263.28 238.95,263.28 239.20,263.29 239.45,263.29 239.70,263.30 239.95,263.30 240.20,263.31 240.45,263.31 240.70,263.32 240.95,263.32 241.20,263.32 241.45,263.33 241.70,263.33 241.95,263.34 242.20,263.34 242.45,263.35 242.70,263.35 242.95,263.36 243.20,263.36 243.45,263.36 243.70,263.37 243.95,263.37 244.20,263.38 244.45,263.38 244.70,263.39 244.95,263.39 245.20,263.39 245.45,263.40 245.70,263.40 245.95,263.41 246.20,263.41 246.45,263.42 246.70,263.42 246.95,263.42 247.20,263.43 247.45,263.43 247.70,263.44 247.95,263.44 248.20,263.44 248.45,263.45 248.70,263.45 248.95,263.46 249.20,263.46 249.45,263.46 249.70,263.47 249.95,263.47 250.20,263.48 250.45,263.48 250.70,263.48 250.95,263.49 251.20,263.49 251.45,263.50 251.70,263.50 251.95,263.50 252.20,263.51 252.45,263.51 252.70,263.52 252.95,263.52 253.20,263.52 253.45,263.53 253.70,263.53 253.95,263.54 254.20,263.54 254.45,263.54 254.70,263.55 254.95,263.55 255.20,263.56 255.45,263.56 255.70,263.56 255.95,263.57 256.20,263.57 256.45,263.57 256.70,263.58 256.95,263.58 257.20,263.59 257.45,263.59 257.70,263.59 257.95,263.60 258.20,263.60 258.45,263.61 258.70,263.61 258.95,263.61 259.20,263.62 259.45,263.62 259.70,263.62 259.95,263.63 260.20,263.63 260.45,263.64 260.70,263.64 260.95,263.64 261.20,263.65 261.45,263.65 261.70,263.66 261.95,263.66 262.20,263.66 262.45,263.67 262.70,263.67 262.95,263.67 263.20,263.68 263.45,263.68 263.70,263.69 263.95,263.69 264.20,263.69 264.45,263.70 264.70,263.70 264.95,263.70 265.20,263.71 265.45,263.71 265.70,263.72 265.95,263.72 266.20,263.72 266.45,263.73 266.70,263.73 266.95,263.73 267.20,263.74 267.45,263.74 267.70,263.75 267.95,263.75 268.20,263.75 268.45,263.76 268.70,263.76 268.95,263.77 269.20,263.77 269.45,263.77 269.70,263.78 269.95,263.78 270.20,263.78 270.45,263.79 270.70,263.79 270.95,263.80 271.20,263.80 271.45,263.80 271.70,263.81 271.95,263.81 272.20,263.81 272.45,263.82 272.70,263.82 272.95,263.83 273.20,263.83 273.45,263.83 273.70,263.84 273.95,263.84 274.20,263.84 274.45,263.85 274.70,263.85 274.95,263.86 275.20,263.86 275.45,263.86 275.70,263.87 275.95,263.87 276.20,263.87 276.45,263.88 276.70,263.88 276.95,263.89 277.20,263.89 277.45,263.89 277.70,263.90 277.95,263.90 278.20,263.90 278.45,263.91 278.70,263.91 278.95,263.92 279.20,263.92 279.45,263.92 279.70,263.93 279.95,263.93 280.20,263.93 280.45,263.94 280.70,263.94 280.95,263.95 281.20,263.95 281.45,263.95 281.70,263.96 281.95,263.96 282.20,263.96 282.45,263.97 282.70,263.97 282.95,263.98 283.20,263.98 283.45,263.98 283.70,263.99 283.95,263.99 284.20,263.99 284.45,264.00 284.70,264.00 284.95,264.00 285.20,264.01 285.45,264.01 285.70,264.02 285.95,264.02 286.20,264.02 286.45,264.03 286.70,264.03 286.95,264.03 287.20,264.04 287.45,264.04 287.70,264.05 287.95,264.05 288.20,264.05 288.45,264.06 288.70,264.06 288.95,264.06 289.20,264.07 289.45,264.07 289.70,264.08 289.95,264.08 290.20,264.08 290.45,264.09 290.70,264.09 290.95,264.09 291.20,264.10 291.45,264.10 291.70,264.11 291.95,264.11 292.20,264.11 292.45,264.12 292.70,264.12 292.95,264.12 293.20,264.13 293.45,264.13 293.70,264.14 293.95,264.14 294.20,264.14 294.45,264.15 294.70,264.15 294.95,264.15 295.20,264.16 295.45,264.16 295.70,264.16 295.95,264.17 296.20,264.17 296.45,264.18 296.70,264.18 296.95,264.18 297.20,264.19 297.45,264.19 297.70,264.19 297.95,264.20 298.20,264.20 298.45,264.21 298.70,264.21 298.95,264.21 299.20,264.22 299.45,264.22 299.70,264.22 299.95,264.23 300.20,264.23 300.45,264.24 300.70,264.24 300.95,264.24 301.20,264.25 301.45,264.25 301.70,264.25 301.95,264.26 302.20,264.26 302.45,264.26 302.70,264.27 302.95,264.27 303.20,264.28 303.45,264.28 303.70,264.28 303.95,264.29 304.20,264.29 304.45,264.29 304.70,264.30 304.95,264.30 305.20,264.31 305.45,264.31 305.70,264.31 305.95,264.32 306.20,264.32 306.45,264.32 306.70,264.33 306.95,264.33 307.20,264.33 307.45,264.34 307.70,264.34 307.95,264.35 308.20,264.35 308.45,264.35 308.70,264.36 308.95,264.36 309.20,264.36 309.45,264.37 309.70,264.37 309.95,264.37 310.20,264.38 310.45,264.38 310.70,264.39 310.95,264.39 311.20,264.39 311.45,264.40 311.70,264.40 311.95,264.40 312.20,264.41 312.45,264.41 312.70,264.41 312.95,264.42 313.20,264.42 313.45,264.43 313.70,264.43 313.95,264.43 314.20,264.44 314.45,264.44 314.70,264.44 314.95,264.45 315.20,264.45 315.45,264.45 315.70,264.46 315.95,264.46 316.20,264.46 316.45,264.47 316.70,264.47 316.95,264.47 317.20,264.48 317.45,264.48 317.70,264.48 317.95,264.49 318.20,264.49 318.45,264.49 318.70,264.49 318.95,264.50 319.20,264.50 319.45,264.50 319.70,264.50 319.95,264.50 320.20,264.51 320.45,264.51 320.70,264.51 320.95,264.51 321.20,264.51 321.45,264.51 321.70,264.50 321.95,264.50 322.20,264.49 322.45,264.48 322.70,264.47 322.95,264.44 323.20,264.41 323.45,264.37 323.70,264.29 323.95,264.18 324.20,264.01 324.45,263.79 324.59,263.68 324.70,263.62 324.80,263.60 324.95,263.64 325.01,263.68 325.20,263.85 325.45,264.07 325.70,264.23 325.95,264.34 326.20,264.42 326.45,264.47 326.70,264.51 326.95,264.53 327.20,264.55 327.45,264.57 327.70,264.58 327.95,264.60 328.20,264.61 328.45,264.62 328.70,264.62 328.95,264.63 329.20,264.64 329.45,264.64 329.70,264.65 329.95,264.66 330.20,264.66 330.45,264.67 330.70,264.67 330.95,264.68"/>
<polyline fill="none" stroke="#ff3a74" stroke-width="1.10" stroke-linejoin="round" opacity="1" points="186.20,285.68 186.45,286.39 186.70,286.82 186.95,287.49 187.20,288.03 187.45,288.22 187.70,288.72 187.95,289.74 188.20,289.92 188.45,290.21 188.70,290.82 188.95,290.66 189.20,291.03 189.45,290.97 189.70,291.22 189.95,291.08 190.20,291.52 190.45,291.81 190.70,291.75 190.95,292.04 191.20,292.14 191.45,291.93 191.70,292.49 191.95,292.53 192.20,292.50 192.45,292.49 192.70,293.13 192.95,292.93 193.20,293.06 193.45,293.12 193.70,292.99 193.95,293.08 194.20,292.73 194.45,292.94 194.70,292.68 194.95,292.93 195.20,292.85 195.45,292.33 195.70,292.29 195.95,292.27 196.20,292.65 196.45,292.25 196.70,292.27 196.95,291.98 197.20,291.98 197.45,291.78 197.70,291.60 197.95,291.56 198.20,291.32 198.45,291.23 198.70,290.77 198.95,290.53 199.20,290.02 199.45,289.54 199.70,288.67 199.95,287.52 200.20,286.87 200.45,285.58 200.70,283.78 200.95,281.30 201.20,278.45 201.45,274.50 201.70,270.69 201.95,266.56 201.97,266.11 202.20,263.81 202.30,264.03 202.45,264.60 202.63,265.87 202.70,267.26 202.95,271.04 203.20,274.91 203.45,278.41 203.70,281.40 203.95,283.53 204.20,284.60 204.45,286.14 204.70,286.72 204.95,287.84 205.20,288.16 205.45,288.93 205.70,289.34 205.95,289.33 206.20,289.85 206.45,289.61 206.70,289.62 206.95,290.05 207.20,289.80 207.45,289.97 207.70,290.15 207.95,290.32 208.20,290.08 208.45,290.03 208.70,290.54 208.95,290.22 209.20,290.60 209.45,290.56 209.70,290.24 209.95,290.28 210.20,290.30 210.45,290.35 210.70,290.30 210.95,290.25 211.20,290.26 211.45,290.43 211.70,290.14 211.95,290.06 212.20,290.25 212.45,290.00 212.70,290.07 212.95,290.51 213.20,290.27 213.45,290.32 213.70,290.03 213.95,290.30 214.20,290.43 214.45,290.12 214.70,290.51 214.95,290.55 215.20,290.23 215.45,290.60 215.70,290.52 215.95,290.68 216.20,290.51 216.45,290.74 216.70,290.79 216.95,290.38 217.20,290.43 217.45,290.82 217.70,291.01 217.95,290.61 218.20,290.75 218.45,290.86 218.70,290.71 218.95,290.76 219.20,290.75 219.45,290.80 219.70,290.96 219.95,290.80 220.20,290.83 220.45,291.04 220.70,290.57 220.95,290.87 221.20,290.95 221.45,290.66 221.70,290.58 221.95,290.91 222.20,290.54 222.45,290.48 222.70,290.60 222.95,290.73 223.20,290.34 223.45,290.45 223.70,290.43 223.95,290.69 224.20,290.43 224.45,290.65 224.70,290.20 224.95,290.27 225.20,290.43 225.45,290.53 225.70,290.24 225.95,290.07 226.20,289.97 226.45,290.18 226.70,289.94 226.95,290.27 227.20,290.25 227.45,289.82 227.70,289.84 227.95,290.12 228.20,289.99 228.45,290.07 228.70,289.77 228.95,289.62 229.20,289.69 229.45,289.96 229.70,289.62 229.95,289.64 230.20,289.65 230.45,289.61 230.70,289.57 230.95,289.84 231.20,289.34 231.45,289.21 231.70,289.72 231.95,289.63 232.20,289.64 232.45,289.25 232.70,289.50 232.95,289.42 233.20,288.93 233.45,289.16 233.70,289.13 233.95,288.94 234.20,288.75 234.45,288.50 234.70,288.42 234.95,288.22 235.20,287.98 235.45,288.14 235.70,287.79 235.95,287.91 236.20,287.27 236.45,287.58 236.70,287.22 236.95,287.10 237.20,286.80 237.45,286.47 237.70,285.91 237.95,285.16 238.20,285.14 238.45,284.28 238.70,283.80 238.95,283.41 239.20,282.69 239.45,281.96 239.70,281.62 239.95,280.80 240.05,280.41 240.20,280.05 240.45,279.99 240.70,279.50 240.80,279.62 240.95,279.33 241.20,279.31 241.45,279.75 241.55,280.04 241.70,279.87 241.95,280.67 242.20,281.22 242.45,281.63 242.65,282.03 242.70,281.63 242.95,282.46 243.20,283.03 243.45,282.96 243.70,283.48 243.95,283.85 244.00,284.07 244.20,284.29 244.45,284.67 244.70,285.19 244.95,285.05 245.20,285.40 245.35,285.64 245.45,285.76 245.70,286.04 245.95,286.89 246.20,287.11 246.45,286.93 246.70,287.46 246.95,287.61 247.20,287.87 247.45,288.13 247.70,288.54 247.95,288.72 248.20,288.79 248.45,288.89 248.70,289.16 248.95,289.21 249.20,289.64 249.45,289.89 249.70,289.84 249.95,289.80 250.20,289.99 250.45,290.24 250.70,290.50 250.95,290.72 251.20,290.59 251.45,290.94 251.70,290.93 251.95,290.91 252.20,290.97 252.45,291.13 252.70,291.34 252.95,291.25 253.20,291.49 253.45,291.42 253.70,291.36 253.95,291.61 254.20,291.79 254.45,291.51 254.70,291.81 254.95,291.90 255.20,292.26 255.45,292.38 255.70,292.13 255.95,292.52 256.20,292.54 256.45,292.30 256.70,292.50 256.95,292.37 257.20,292.86 257.45,292.85 257.70,293.06 257.95,293.08 258.20,293.07 258.45,293.19 258.70,293.15 258.95,292.95 259.20,293.31 259.45,293.03 259.70,293.18 259.95,293.63 260.20,293.26 260.45,293.35 260.70,293.42 260.95,293.96 261.20,293.61 261.45,293.58 261.70,294.13 261.95,293.77 262.20,294.26 262.45,294.23 262.70,294.39 262.95,294.52 263.20,294.36 263.45,294.55 263.70,294.15 263.95,294.65 264.20,294.56 264.45,294.74 264.70,294.44 264.95,294.88 265.20,295.05 265.45,294.59 265.70,294.81 265.95,295.01 266.20,295.23 266.45,294.93 266.70,294.95 266.95,295.05 267.20,295.33 267.45,295.47 267.70,295.31 267.95,295.36 268.20,295.43 268.45,295.46 268.70,295.56 268.95,295.41 269.20,295.72 269.45,296.06 269.70,295.78 269.95,296.04 270.20,295.71 270.45,296.05 270.70,296.11 270.95,296.08 271.20,296.00 271.45,296.00 271.70,296.11 271.95,296.28 272.20,295.85 272.45,295.83 272.70,296.24 272.95,296.36 273.20,296.14 273.45,296.11 273.70,296.29 273.95,295.99 274.20,296.05 274.45,296.03 274.70,296.28 274.95,296.13 275.20,296.10 275.45,296.39 275.70,296.56 275.95,296.18 276.20,296.44 276.45,296.29 276.70,296.56 276.95,296.42 277.20,296.24 277.45,296.23 277.70,296.13 277.95,296.41 278.20,296.37 278.45,296.26 278.70,296.38 278.95,296.37 279.20,296.65 279.45,296.29 279.70,296.81 279.95,296.51 280.20,296.60 280.45,296.53 280.70,296.77 280.95,296.77 281.20,296.63 281.45,296.59 281.70,296.73 281.95,296.81 282.20,296.52 282.45,296.70 282.70,296.79 282.95,296.43 283.20,296.18 283.45,296.04 283.70,296.11 283.95,295.80 284.20,295.64 284.33,295.43 284.45,294.96 284.60,294.89 284.70,294.97 284.87,295.08 284.95,295.50 285.20,295.97 285.45,296.35 285.70,296.24 285.95,296.82 286.20,296.65 286.45,296.84 286.70,297.12 286.95,296.82 287.20,296.89 287.45,297.39 287.70,297.12 287.95,297.20 288.20,297.38 288.45,297.48 288.70,297.11 288.95,297.35 289.20,297.43 289.45,297.48 289.70,297.33 289.95,297.57 290.20,297.80 290.45,297.48 290.70,297.59 290.95,297.34 291.20,297.45 291.45,297.70 291.70,297.38 291.95,297.85 292.20,297.88 292.45,297.40 292.70,297.92 292.95,297.59 293.20,297.84 293.45,297.85 293.70,297.58 293.95,297.82 294.20,297.82 294.45,297.92 294.70,297.61 294.95,297.91 295.20,298.05 295.45,297.88 295.70,297.81 295.95,297.57 296.20,297.81 296.45,297.73 296.70,297.96 296.95,297.95 297.20,297.89 297.45,297.67 297.70,297.96 297.95,297.96 298.20,297.70 298.45,298.14 298.70,298.01 298.95,297.70 299.20,298.19 299.45,297.73 299.70,297.85 299.95,298.10 300.20,298.03 300.45,298.02 300.70,298.08 300.95,297.98 301.20,297.90 301.45,297.83 301.70,297.78 301.95,298.17 302.20,298.21 302.45,298.09 302.70,298.22 302.95,298.00 303.20,297.95 303.45,298.04 303.70,298.34 303.95,297.85 304.20,298.14 304.45,297.99 304.70,298.32 304.95,298.08 305.20,298.07 305.45,298.13 305.70,298.22 305.95,298.37 306.20,298.13 306.45,298.43 306.70,298.00 306.95,298.11 307.20,298.01 307.45,298.03 307.70,298.44 307.95,298.42 308.20,298.10 308.45,298.12 308.70,298.26 308.95,298.47 309.20,298.52 309.45,298.49 309.70,298.41 309.95,298.15 310.20,298.32 310.45,298.21 310.70,298.43 310.95,298.48 311.20,298.28 311.45,298.32 311.70,298.66 311.95,298.23 312.20,298.71 312.45,298.78 312.70,298.84 312.95,298.52 313.20,298.64 313.45,298.67 313.70,298.72 313.95,298.95 314.20,298.79 314.45,298.58 314.70,298.93 314.95,298.73 315.20,298.82 315.45,298.91 315.70,298.49 315.95,298.97 316.20,298.93 316.45,298.84 316.70,298.88 316.95,298.86 317.20,298.72 317.45,298.94 317.70,298.66 317.95,298.96 318.20,299.07 318.45,298.96 318.70,299.06 318.95,299.31 319.20,299.29 319.45,298.85 319.70,299.27 319.95,299.18 320.20,298.86 320.45,299.06 320.70,299.01 320.95,298.93 321.20,299.23 321.45,299.48 321.70,299.13 321.95,299.48 322.20,299.40 322.45,299.08 322.70,299.53 322.95,299.40 323.20,299.61 323.45,299.50 323.70,299.53 323.95,299.32 324.20,299.61 324.45,299.71 324.70,299.68 324.95,299.45 325.20,299.66 325.45,299.51 325.70,299.31 325.95,299.28 326.20,299.32 326.45,299.42 326.70,299.41 326.95,299.63 327.20,299.77 327.45,299.69 327.70,299.64 327.95,299.80 328.20,299.61 328.45,299.72 328.70,299.92 328.95,299.72 329.20,299.61 329.45,300.06 329.70,299.97 329.95,299.78 330.20,299.80 330.45,299.91 330.70,299.97 330.95,299.77"/>
<polyline fill="none" stroke="#98acc4" stroke-width="1.10" stroke-linejoin="round" opacity="1" points="186.20,338.00 186.45,338.00 186.70,338.00 186.95,338.00 187.20,338.00 187.45,338.00 187.70,338.00 187.95,338.00 188.20,338.00 188.45,338.00 188.70,338.00 188.95,338.00 189.20,338.00 189.45,338.00 189.70,338.00 189.95,338.00 190.20,338.00 190.45,338.00 190.70,338.00 190.95,338.00 191.20,338.00 191.45,338.00 191.70,338.00 191.95,338.00 192.20,338.00 192.45,338.00 192.70,338.00 192.95,338.00 193.20,338.00 193.45,338.00 193.70,338.00 193.95,338.00 194.20,338.00 194.45,338.00 194.70,338.00 194.95,338.00 195.20,338.00 195.45,338.00 195.70,338.00 195.95,338.00 196.20,338.00 196.45,338.00 196.70,338.00 196.95,338.00 197.20,338.00 197.45,338.00 197.70,338.00 197.95,338.00 198.20,338.00 198.45,338.00 198.70,338.00 198.95,338.00 199.20,338.00 199.45,338.00 199.70,338.00 199.95,338.00 200.20,338.00 200.45,338.00 200.70,338.00 200.95,338.00 201.20,338.00 201.45,338.00 201.70,338.00 201.95,338.00 202.20,338.00 202.45,338.00 202.70,338.00 202.95,338.00 203.20,338.00 203.45,338.00 203.70,338.00 203.95,338.00 204.20,338.00 204.45,338.00 204.70,338.00 204.95,338.00 205.20,338.00 205.45,338.00 205.70,338.00 205.95,338.00 206.20,338.00 206.45,338.00 206.70,338.00 206.95,338.00 207.20,338.00 207.45,338.00 207.70,338.00 207.95,338.00 208.20,338.00 208.45,338.00 208.70,337.99 208.95,337.99 209.20,337.99 209.45,337.99 209.70,337.99 209.95,337.99 210.20,337.99 210.45,337.99 210.70,337.99 210.95,337.99 211.20,337.99 211.45,337.99 211.70,337.99 211.95,337.99 212.20,337.99 212.45,337.99 212.70,337.99 212.95,337.99 213.20,337.99 213.45,337.99 213.70,337.99 213.95,337.99 214.20,337.99 214.45,337.99 214.70,337.99 214.95,337.99 215.20,337.99 215.45,337.99 215.70,337.99 215.95,337.99 216.20,337.99 216.45,337.99 216.70,337.99 216.95,337.99 217.20,337.99 217.45,337.99 217.70,337.99 217.95,337.99 218.20,337.99 218.45,337.99 218.70,337.99 218.95,337.99 219.20,337.99 219.45,337.99 219.70,337.99 219.95,337.99 220.20,337.99 220.45,337.99 220.70,337.99 220.95,337.99 221.20,337.99 221.45,337.99 221.70,337.99 221.95,337.99 222.20,337.99 222.45,337.99 222.70,337.99 222.95,337.98 223.20,337.98 223.45,337.98 223.70,337.98 223.95,337.98 224.20,337.98 224.45,337.98 224.70,337.98 224.95,337.98 225.20,337.98 225.45,337.98 225.70,337.98 225.95,337.98 226.20,337.98 226.45,337.98 226.70,337.98 226.95,337.97 227.20,337.97 227.45,337.97 227.70,337.97 227.95,337.97 228.20,337.97 228.45,337.97 228.70,337.97 228.95,337.97 229.20,337.96 229.45,337.96 229.70,337.96 229.95,337.96 230.20,337.96 230.45,337.95 230.70,337.95 230.95,337.95 231.20,337.94 231.45,337.94 231.70,337.94 231.95,337.93 232.20,337.93 232.45,337.92 232.70,337.91 232.95,337.90 233.20,337.89 233.45,337.88 233.70,337.86 233.95,337.83 234.20,337.79 234.45,337.73 234.70,337.63 234.95,337.46 235.20,337.17 235.45,336.80 235.60,336.69 235.70,336.74 235.75,336.79 235.95,337.08 236.20,337.38 236.45,337.55 236.70,337.64 236.95,337.69 237.20,337.71 237.45,337.72 237.70,337.72 237.95,337.71 238.20,337.69 238.45,337.67 238.70,337.64 238.95,337.60 239.20,337.56 239.45,337.51 239.70,337.44 239.95,337.37 240.20,337.28 240.45,337.17 240.70,337.05 240.95,336.92 241.20,336.79 241.45,336.66 241.56,336.61 241.70,336.56 241.95,336.50 242.10,336.49 242.20,336.50 242.45,336.55 242.64,336.62 242.70,336.64 242.95,336.77 243.20,336.90 243.45,337.03 243.70,337.16 243.95,337.27 244.20,337.36 244.45,337.44 244.70,337.51 244.95,337.57 245.20,337.62 245.45,337.66 245.70,337.70 245.95,337.73 246.20,337.75 246.45,337.78 246.70,337.80 246.95,337.82 247.20,337.83 247.45,337.84 247.70,337.86 247.95,337.87 248.20,337.88 248.45,337.89 248.70,337.89 248.95,337.90 249.20,337.91 249.45,337.91 249.70,337.92 249.95,337.92 250.20,337.93 250.45,337.93 250.70,337.94 250.95,337.94 251.20,337.94 251.45,337.94 251.70,337.95 251.95,337.95 252.20,337.95 252.45,337.95 252.70,337.96 252.95,337.96 253.20,337.96 253.45,337.96 253.70,337.96 253.95,337.96 254.20,337.97 254.45,337.97 254.70,337.97 254.95,337.97 255.20,337.97 255.45,337.97 255.70,337.97 255.95,337.97 256.20,337.97 256.45,337.98 256.70,337.98 256.95,337.98 257.20,337.98 257.45,337.98 257.70,337.98 257.95,337.98 258.20,337.98 258.45,337.98 258.70,337.98 258.95,337.98 259.20,337.98 259.45,337.98 259.70,337.98 259.95,337.98 260.20,337.98 260.45,337.98 260.70,337.98 260.95,337.99 261.20,337.99 261.45,337.99 261.70,337.99 261.95,337.99 262.20,337.99 262.45,337.99 262.70,337.99 262.95,337.99 263.20,337.99 263.45,337.99 263.70,337.99 263.95,337.99 264.20,337.99 264.45,337.99 264.70,337.99 264.95,337.99 265.20,337.99 265.45,337.99 265.70,337.99 265.95,337.99 266.20,337.99 266.45,337.99 266.70,337.99 266.95,337.99 267.20,337.99 267.45,337.99 267.70,337.99 267.95,337.99 268.20,337.99 268.45,337.99 268.70,337.99 268.95,337.99 269.20,337.99 269.45,337.99 269.70,337.99 269.95,337.99 270.20,337.99 270.45,337.99 270.70,337.99 270.95,337.99 271.20,337.99 271.45,337.99 271.70,337.99 271.95,337.99 272.20,337.99 272.45,337.99 272.70,337.99 272.95,337.99 273.20,337.99 273.45,337.99 273.70,337.99 273.95,337.99 274.20,337.99 274.45,337.99 274.70,337.99 274.95,337.99 275.20,337.99 275.45,337.99 275.70,337.99 275.95,337.99 276.20,337.99 276.45,337.99 276.70,337.99 276.95,337.99 277.20,337.99 277.45,337.99 277.70,337.99 277.95,337.99 278.20,337.99 278.45,337.99 278.70,337.99 278.95,337.99 279.20,337.99 279.45,337.99 279.70,337.99 279.95,337.99 280.20,337.99 280.45,337.99 280.70,337.99 280.95,337.99 281.20,337.99 281.45,337.99 281.70,337.99 281.95,337.99 282.20,337.99 282.45,337.99 282.70,337.99 282.95,337.99 283.20,337.99 283.45,337.99 283.70,337.99 283.95,337.99 284.20,337.99 284.45,337.99 284.70,337.99 284.95,337.99 285.20,337.99 285.45,337.99 285.70,337.99 285.95,337.99 286.20,337.99 286.45,337.99 286.70,337.99 286.95,337.99 287.20,337.99 287.45,337.99 287.70,337.99 287.95,337.99 288.20,337.99 288.45,337.99 288.70,337.99 288.95,337.99 289.20,337.99 289.45,337.99 289.70,337.99 289.95,337.99 290.20,337.99 290.45,337.99 290.70,337.99 290.95,337.99 291.20,337.99 291.45,337.99 291.70,337.99 291.95,337.99 292.20,337.99 292.45,337.99 292.70,337.99 292.95,337.99 293.20,337.99 293.45,337.99 293.70,337.99 293.95,337.99 294.20,337.99 294.45,337.99 294.70,337.99 294.95,337.99 295.20,337.99 295.45,337.99 295.70,337.99 295.95,337.99 296.20,337.99 296.45,337.99 296.70,337.99 296.95,337.99 297.20,337.99 297.45,337.99 297.70,337.99 297.95,337.99 298.20,337.99 298.45,337.99 298.70,337.99 298.95,337.99 299.20,337.99 299.45,337.99 299.70,337.99 299.95,337.99 300.20,337.99 300.45,337.99 300.70,337.99 300.95,337.99 301.20,337.99 301.45,337.99 301.70,337.99 301.95,337.99 302.20,337.99 302.45,337.99 302.70,337.99 302.95,337.98 303.20,337.98 303.45,337.98 303.70,337.98 303.95,337.98 304.20,337.98 304.45,337.98 304.70,337.98 304.95,337.98 305.20,337.98 305.45,337.98 305.70,337.98 305.95,337.98 306.20,337.98 306.45,337.97 306.70,337.97 306.95,337.97 307.20,337.97 307.45,337.97 307.70,337.97 307.95,337.97 308.20,337.96 308.45,337.96 308.70,337.96 308.95,337.96 309.20,337.96 309.45,337.95 309.70,337.95 309.95,337.95 310.20,337.94 310.45,337.94 310.70,337.93 310.95,337.93 311.20,337.92 311.45,337.92 311.70,337.91 311.95,337.90 312.20,337.89 312.45,337.88 312.70,337.87 312.95,337.86 313.20,337.84 313.45,337.82 313.70,337.80 313.95,337.77 314.20,337.73 314.45,337.69 314.70,337.64 314.95,337.57 315.20,337.48 315.45,337.36 315.70,337.20 315.95,336.97 316.20,336.62 316.45,336.02 316.70,334.83 316.85,333.45 316.95,331.99 317.20,326.04 317.21,325.83 317.30,324.80 317.39,325.83 317.45,327.29 317.70,332.79 317.75,333.45 317.95,335.15 318.20,336.17 318.45,336.71 318.70,337.03 318.95,337.24 319.20,337.39 319.45,337.50 319.70,337.58 319.95,337.65 320.20,337.70 320.45,337.74 320.70,337.77 320.95,337.80 321.20,337.82 321.45,337.84 321.70,337.86 321.95,337.87 322.20,337.88 322.45,337.89 322.70,337.90 322.95,337.91 323.20,337.92 323.45,337.92 323.70,337.93 323.95,337.94 324.20,337.94 324.45,337.94 324.70,337.95 324.95,337.95 325.20,337.95 325.45,337.96 325.70,337.96 325.95,337.96 326.20,337.96 326.45,337.97 326.70,337.97 326.95,337.97 327.20,337.97 327.45,337.97 327.70,337.97 327.95,337.97 328.20,337.98 328.45,337.98 328.70,337.98 328.95,337.98 329.20,337.98 329.45,337.98 329.70,337.98 329.95,337.98 330.20,337.98 330.45,337.98 330.70,337.98 330.95,337.98"/>
<line x1="242.1" y1="338" x2="242.1" y2="303.5" stroke="#151a1e" stroke-width="1.4"/>
<line x1="242.1" y1="304" x2="242.1" y2="301.2" stroke="#6a7680" stroke-width="1.2"/>
<text transform="translate(0.80,11.20) rotate(0.05)" font-size="12.40" fill="#111" stroke="#111" stroke-width="0.15" stroke-linejoin="round">(a)</text>
<text transform="translate(167.40,10.90) rotate(0.05)" font-size="12.40" fill="#111" stroke="#111" stroke-width="0.15" stroke-linejoin="round">(b)</text>
<text transform="translate(1.70,197.20) rotate(0.05)" font-size="12.40" fill="#111" stroke="#111" stroke-width="0.15" stroke-linejoin="round">(c)</text>
<text transform="translate(167.40,197.10) rotate(0.05)" font-size="12.40" fill="#111" stroke="#111" stroke-width="0.15" stroke-linejoin="round">(d)</text>
<text transform="translate(38.00,12.80) rotate(0.05)" font-size="6.50" fill="#111" stroke="#111" stroke-width="0.30" stroke-linejoin="round">11.1</text>
<text transform="translate(37.60,52.50) rotate(0.05)" font-size="6.50" fill="#111" stroke="#111" stroke-width="0.30" stroke-linejoin="round">10.9</text>
<text transform="translate(37.50,89.20) rotate(0.05)" font-size="6.50" fill="#111" stroke="#111" stroke-width="0.30" stroke-linejoin="round">11.1</text>
<text transform="translate(121.60,105.70) rotate(0.05)" font-size="6.50" fill="#111" stroke="#111" stroke-width="0.30" stroke-linejoin="round">42.2</text>
<text transform="translate(78.00,121.30) rotate(0.05)" font-size="6.50" fill="#111" stroke="#111" stroke-width="0.30" stroke-linejoin="round">26.4</text>
<text transform="translate(161.40,34.20) rotate(0.05)" font-size="6.90" fill="#50ee50" stroke="#50ee50" stroke-width="0.15" stroke-linejoin="round" text-anchor="end">IGO</text>
<text transform="translate(161.40,69.80) rotate(0.05)" font-size="6.90" fill="#3a8cfa" stroke="#3a8cfa" stroke-width="0.15" stroke-linejoin="round" text-anchor="end">HGO+</text>
<text transform="translate(161.40,108.20) rotate(0.05)" font-size="6.90" fill="#ff3a74" stroke="#ff3a74" stroke-width="0.15" stroke-linejoin="round" text-anchor="end">HGO</text>
<text transform="translate(161.60,145.00) rotate(0.05)" font-size="6.40" fill="#3c4650" stroke="#3c4650" stroke-width="0.10" stroke-linejoin="round" letter-spacing="0.20" text-anchor="end">SA325P</text>
<text transform="translate(205.40,12.00) rotate(0.05)" font-size="6.50" fill="#111" stroke="#111" stroke-width="0.30" stroke-linejoin="round">11.7</text>
<text transform="translate(205.00,51.40) rotate(0.05)" font-size="6.50" fill="#111" stroke="#111" stroke-width="0.30" stroke-linejoin="round">10.5</text>
<text transform="translate(201.40,80.60) rotate(0.05)" font-size="6.50" fill="#111" stroke="#111" stroke-width="0.30" stroke-linejoin="round">10.8</text>
<text transform="translate(205.70,93.30) rotate(0.05)" font-size="6.50" fill="#111" stroke="#111" stroke-width="0.30" stroke-linejoin="round">12.1</text>
<text transform="translate(285.20,105.70) rotate(0.05)" font-size="6.50" fill="#111" stroke="#111" stroke-width="0.30" stroke-linejoin="round">42.2</text>
<text transform="translate(243.00,120.40) rotate(0.05)" font-size="6.50" fill="#111" stroke="#111" stroke-width="0.30" stroke-linejoin="round">26.4</text>
<text transform="translate(316.80,34.60) rotate(0.05)" font-size="6.90" fill="#50ee50" stroke="#50ee50" stroke-width="0.15" stroke-linejoin="round" text-anchor="end">IGO</text>
<text transform="translate(323.20,70.00) rotate(0.05)" font-size="6.90" fill="#3a8cfa" stroke="#3a8cfa" stroke-width="0.15" stroke-linejoin="round" text-anchor="end">HGO+</text>
<text transform="translate(319.30,108.60) rotate(0.05)" font-size="6.90" fill="#ff3a74" stroke="#ff3a74" stroke-width="0.15" stroke-linejoin="round" text-anchor="end">HGO</text>
<text transform="translate(329.80,145.50) rotate(0.05)" font-size="6.40" fill="#3c4650" stroke="#3c4650" stroke-width="0.10" stroke-linejoin="round" letter-spacing="0.20" text-anchor="end">AA325P</text>
<line x1="210.4" y1="97.2" x2="207.3" y2="101.4" stroke="#111" stroke-width="0.8"/>
<polygon points="204.6,105.0 206.49,100.79 208.09,101.99" fill="#111"/>
<text transform="translate(38.30,197.40) rotate(0.05)" font-size="6.50" fill="#111" stroke="#111" stroke-width="0.30" stroke-linejoin="round">11.0</text>
<text transform="translate(37.60,233.50) rotate(0.05)" font-size="6.50" fill="#111" stroke="#111" stroke-width="0.30" stroke-linejoin="round">11.4</text>
<text transform="translate(36.80,269.40) rotate(0.05)" font-size="6.50" fill="#111" stroke="#111" stroke-width="0.30" stroke-linejoin="round">11.2</text>
<text transform="translate(117.30,291.40) rotate(0.05)" font-size="6.50" fill="#111" stroke="#111" stroke-width="0.30" stroke-linejoin="round">42.4</text>
<text transform="translate(77.00,305.50) rotate(0.05)" font-size="6.50" fill="#111" stroke="#111" stroke-width="0.30" stroke-linejoin="round">26.5</text>
<text transform="translate(162.00,220.90) rotate(0.05)" font-size="6.90" fill="#50ee50" stroke="#50ee50" stroke-width="0.15" stroke-linejoin="round" text-anchor="end">IGO</text>
<text transform="translate(162.00,256.60) rotate(0.05)" font-size="6.90" fill="#3a8cfa" stroke="#3a8cfa" stroke-width="0.15" stroke-linejoin="round" text-anchor="end">HGO+</text>
<text transform="translate(161.40,295.00) rotate(0.05)" font-size="6.90" fill="#ff3a74" stroke="#ff3a74" stroke-width="0.15" stroke-linejoin="round" text-anchor="end">HGO</text>
<text transform="translate(162.50,331.00) rotate(0.05)" font-size="6.40" fill="#3c4650" stroke="#3c4650" stroke-width="0.10" stroke-linejoin="round" letter-spacing="0.20" text-anchor="end">AA325F</text>
<text transform="translate(205.50,195.80) rotate(0.05)" font-size="6.50" fill="#111" stroke="#111" stroke-width="0.30" stroke-linejoin="round">11.6</text>
<text transform="translate(199.60,231.10) rotate(0.05)" font-size="6.50" fill="#111" stroke="#111" stroke-width="0.30" stroke-linejoin="round">10.1</text>
<text transform="translate(203.40,269.30) rotate(0.05)" font-size="6.50" fill="#111" stroke="#111" stroke-width="0.30" stroke-linejoin="round">11.5</text>
<text transform="translate(240.00,275.80) rotate(0.05)" font-size="6.50" fill="#111" stroke="#111" stroke-width="0.30" stroke-linejoin="round">26.0</text>
<text transform="translate(225.50,299.50) rotate(0.05)" font-size="6.50" fill="#111" stroke="#111" stroke-width="0.30" stroke-linejoin="round">26.3</text>
<text transform="translate(244.60,299.50) rotate(0.05)" font-size="6.50" fill="#111" stroke="#111" stroke-width="0.30" stroke-linejoin="round">26.7</text>
<text transform="translate(226.50,326.70) rotate(0.05)" font-size="6.50" fill="#111" stroke="#111" stroke-width="0.30" stroke-linejoin="round">23.9</text>
<text transform="translate(281.20,240.70) rotate(0.05)" font-size="6.50" fill="#111" stroke="#111" stroke-width="0.30" stroke-linejoin="round">42.6</text>
<text transform="translate(280.80,289.20) rotate(0.05)" font-size="6.50" fill="#111" stroke="#111" stroke-width="0.30" stroke-linejoin="round">42.4</text>
<text transform="translate(317.80,261.00) rotate(0.05)" font-size="6.50" fill="#111" stroke="#111" stroke-width="0.30" stroke-linejoin="round">57.4</text>
<text transform="translate(313.40,320.80) rotate(0.05)" font-size="6.50" fill="#111" stroke="#111" stroke-width="0.30" stroke-linejoin="round">54.6</text>
<text transform="translate(316.30,221.00) rotate(0.05)" font-size="6.90" fill="#50ee50" stroke="#50ee50" stroke-width="0.15" stroke-linejoin="round" text-anchor="end">IGO</text>
<text transform="translate(315.30,255.50) rotate(0.05)" font-size="6.90" fill="#4f96f6" stroke="#4f96f6" stroke-width="0.15" stroke-linejoin="round" text-anchor="end">HGO+</text>
<text transform="translate(315.80,294.80) rotate(0.05)" font-size="6.90" fill="#ff3a74" stroke="#ff3a74" stroke-width="0.15" stroke-linejoin="round" text-anchor="end">HGO</text>
<text transform="translate(313.20,331.70) rotate(0.05)" font-size="6.40" fill="#3c4650" stroke="#3c4650" stroke-width="0.10" stroke-linejoin="round" letter-spacing="0.20" text-anchor="end">SA100F</text>
<line x1="285.4" y1="233.5" x2="285.4" y2="229.5" stroke="#111" stroke-width="0.9"/>
<polygon points="285.4,226.9 284.2,230.6 286.6,230.6" fill="#111"/>
<line x1="235.3" y1="337.4" x2="235.3" y2="334.5" stroke="#111" stroke-width="0.7"/>
<polygon points="235.3,330.2 236.4,333.2 235.3,335.6 234.2,333.2" fill="#111"/>
<polygon points="240.6,294.4 242.0,294.4 241.5,299.6 241.1,299.6" fill="#111"/>
<polygon points="242.3,294.4 243.7,294.4 243.2,299.6 242.8,299.6" fill="#111"/>
</g>
</svg>
</body></html>
